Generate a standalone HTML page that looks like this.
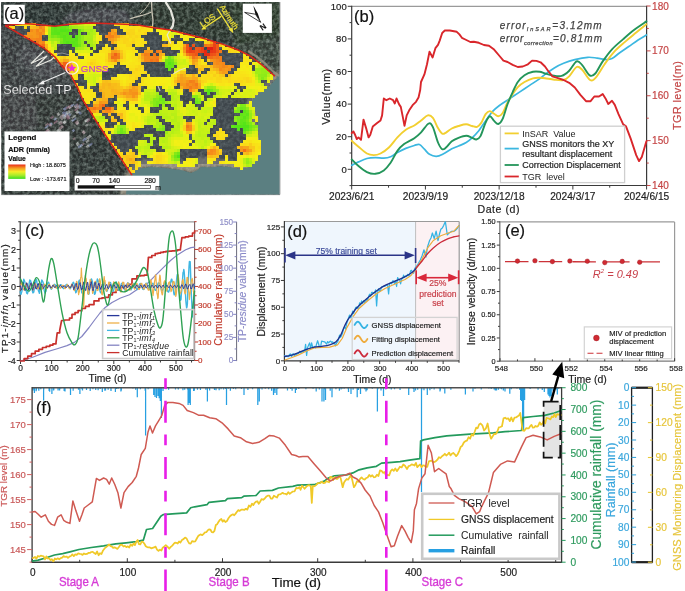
<!DOCTYPE html>
<html><head><meta charset="utf-8"><title>Figure</title>
<style>
html,body{margin:0;padding:0;background:#fff;}
body{width:685px;height:591px;overflow:hidden;}
svg{display:block;}
text{font-family:"Liberation Sans", Arial, sans-serif;}
</style></head><body>
<svg width="685" height="591" viewBox="0 0 685 591">
<rect x="0" y="0" width="685" height="591" fill="#fff"/>
<defs>
<clipPath id="aclip"><rect x="1.2" y="2.0" width="278.8" height="193.0"/></clipPath>
<filter id="tex" x="0" y="0" width="100%" height="100%" color-interpolation-filters="sRGB"><feTurbulence type="fractalNoise" baseFrequency="0.3" numOctaves="3" seed="8" result="n"/><feColorMatrix in="n" type="matrix" values="1.4 0 0 0 -0.5  1.45 0 0 0 -0.47  1.4 0 0 0 -0.47  0 0 0 0 0.7"/></filter>
<filter id="tex2" x="0" y="0" width="100%" height="100%" color-interpolation-filters="sRGB"><feTurbulence type="fractalNoise" baseFrequency="0.06" numOctaves="2" seed="3" result="n"/><feColorMatrix in="n" type="matrix" values="1.4 0 0 0 -0.3  1.4 0 0 0 -0.28  1.3 0 0 0 -0.3  0 0 0 0 0.35"/></filter>
<filter id="soft" x="-10%" y="-10%" width="120%" height="120%"><feGaussianBlur stdDeviation="1.6"/></filter>
</defs>
<g clip-path="url(#aclip)">
<rect x="1.2" y="2" width="278.8" height="193" fill="#464d4c" />
<g filter="url(#soft)">
<polygon points="62,22 68,14 84,9 104,8 126,10 132,22" fill="#6e6a76" opacity="0.85"/>
<polygon points="0,25 5,25 30,40 60,64 80,92 88,112 60,118 30,130 0,128" fill="#55545a"/>
<polygon points="22,44 58,56 66,72 50,80 30,74 18,60" fill="#6c6a72" opacity="0.8"/>
<polygon points="0,95 30,92 45,110 35,130 0,132" fill="#625c62" opacity="0.8"/>
<polygon points="35,95 75,92 95,118 85,150 60,150 38,128" fill="#4a4e4c"/>
<polygon points="230,40 280,30 280,72 268,80 258,66" fill="#5a6658" opacity="0.8"/>
<polygon points="0,2 58,2 62,22 5,25 0,25" fill="#3e4444"/>
<polygon points="140,2 230,2 230,42 200,35 140,24" fill="#40483f"/>
<polygon points="230,2 280,2 280,35 235,45" fill="#45533f"/>
<polygon points="90,130 130,172 120,195 60,195 70,150" fill="#454a48"/>
</g>
<rect x="64.08" y="115.33" width="4.89" height="2.11" fill="#a8b0e4" opacity="0.85" transform="rotate(-38 64.08 115.33)"/>
<rect x="85.27" y="120.26" width="4.18" height="3.11" fill="#c890a8" opacity="0.85" transform="rotate(-38 85.27 120.26)"/>
<rect x="61.52" y="115.29" width="2.97" height="2.84" fill="#c890a8" opacity="0.85" transform="rotate(-38 61.52 115.29)"/>
<rect x="61.88" y="117.01" width="4.72" height="1.99" fill="#b4bcec" opacity="0.85" transform="rotate(-38 61.88 117.01)"/>
<rect x="72.5" y="138.76" width="2.5" height="1.86" fill="#d9b4c0" opacity="0.85" transform="rotate(-38 72.5 138.76)"/>
<rect x="44.7" y="125.08" width="4.02" height="1.93" fill="#d9b4c0" opacity="0.85" transform="rotate(-38 44.7 125.08)"/>
<rect x="76.03" y="124.09" width="2.48" height="1.64" fill="#d8c0c8" opacity="0.85" transform="rotate(-38 76.03 124.09)"/>
<rect x="74.61" y="122.4" width="3.58" height="2.91" fill="#d9b4c0" opacity="0.85" transform="rotate(-38 74.61 122.4)"/>
<rect x="80.8" y="144.65" width="3.59" height="1.92" fill="#d8c0c8" opacity="0.85" transform="rotate(-38 80.8 144.65)"/>
<rect x="84.41" y="139.1" width="4.45" height="1.8" fill="#f0eeee" opacity="0.85" transform="rotate(-38 84.41 139.1)"/>
<rect x="63.03" y="121.69" width="2.46" height="2.55" fill="#d8c0c8" opacity="0.85" transform="rotate(-38 63.03 121.69)"/>
<rect x="66.18" y="115.45" width="4.4" height="2.82" fill="#b4bcec" opacity="0.85" transform="rotate(-38 66.18 115.45)"/>
<rect x="74.12" y="109.9" width="4.99" height="2.05" fill="#c890a8" opacity="0.85" transform="rotate(-38 74.12 109.9)"/>
<rect x="86.16" y="137.44" width="4.86" height="2.95" fill="#f0eeee" opacity="0.85" transform="rotate(-38 86.16 137.44)"/>
<rect x="50.02" y="117.73" width="3.61" height="2.03" fill="#c890a8" opacity="0.85" transform="rotate(-38 50.02 117.73)"/>
<rect x="46.21" y="130.54" width="2.89" height="2.82" fill="#d9b4c0" opacity="0.85" transform="rotate(-38 46.21 130.54)"/>
<rect x="81.97" y="139.97" width="4.52" height="2.31" fill="#a8b0e4" opacity="0.85" transform="rotate(-38 81.97 139.97)"/>
<rect x="67.69" y="107.2" width="5.03" height="2.75" fill="#d8c0c8" opacity="0.85" transform="rotate(-38 67.69 107.2)"/>
<rect x="58.96" y="117.69" width="5.08" height="1.68" fill="#f0eeee" opacity="0.85" transform="rotate(-38 58.96 117.69)"/>
<rect x="53.34" y="119.32" width="3.05" height="2.07" fill="#b4bcec" opacity="0.85" transform="rotate(-38 53.34 119.32)"/>
<rect x="63.53" y="113.22" width="3.96" height="2.15" fill="#a8b0e4" opacity="0.85" transform="rotate(-38 63.53 113.22)"/>
<rect x="48.45" y="124.52" width="3.52" height="2.47" fill="#a8b0e4" opacity="0.85" transform="rotate(-38 48.45 124.52)"/>
<rect x="44.32" y="127.63" width="4.68" height="1.7" fill="#a8b0e4" opacity="0.85" transform="rotate(-38 44.32 127.63)"/>
<rect x="84.16" y="120.75" width="4.09" height="2.34" fill="#f0eeee" opacity="0.85" transform="rotate(-38 84.16 120.75)"/>
<rect x="81.59" y="131.98" width="2.87" height="3.17" fill="#d9b4c0" opacity="0.85" transform="rotate(-38 81.59 131.98)"/>
<rect x="65.62" y="115.75" width="2.9" height="3.13" fill="#d9b4c0" opacity="0.85" transform="rotate(-38 65.62 115.75)"/>
<rect x="59.47" y="116.37" width="2.76" height="2.55" fill="#d8c0c8" opacity="0.85" transform="rotate(-38 59.47 116.37)"/>
<rect x="60.4" y="118.44" width="2.32" height="2.27" fill="#d8c0c8" opacity="0.85" transform="rotate(-38 60.4 118.44)"/>
<rect x="75.16" y="112.21" width="3.52" height="2.88" fill="#f0eeee" opacity="0.85" transform="rotate(-38 75.16 112.21)"/>
<rect x="73.69" y="105.75" width="4.21" height="2.95" fill="#b4bcec" opacity="0.85" transform="rotate(-38 73.69 105.75)"/>
<rect x="71.7" y="130.38" width="2.68" height="2.42" fill="#b4bcec" opacity="0.85" transform="rotate(-38 71.7 130.38)"/>
<rect x="71.31" y="120.4" width="4.91" height="2.16" fill="#b4bcec" opacity="0.85" transform="rotate(-38 71.31 120.4)"/>
<rect x="56.17" y="130.51" width="4.28" height="3.21" fill="#f0eeee" opacity="0.85" transform="rotate(-38 56.17 130.51)"/>
<rect x="75.51" y="143.8" width="3.02" height="3.36" fill="#f0eeee" opacity="0.85" transform="rotate(-38 75.51 143.8)"/>
<rect x="85.43" y="141.62" width="3.65" height="2.05" fill="#e8e4e4" opacity="0.85" transform="rotate(-38 85.43 141.62)"/>
<rect x="53.37" y="122.87" width="4.61" height="1.65" fill="#c890a8" opacity="0.85" transform="rotate(-38 53.37 122.87)"/>
<rect x="77.61" y="106.04" width="2.95" height="3.14" fill="#b4bcec" opacity="0.85" transform="rotate(-38 77.61 106.04)"/>
<rect x="78.01" y="112.61" width="2.67" height="3.18" fill="#b4bcec" opacity="0.85" transform="rotate(-38 78.01 112.61)"/>
<rect x="77.48" y="146.64" width="4.99" height="2.35" fill="#b4bcec" opacity="0.85" transform="rotate(-38 77.48 146.64)"/>
<rect x="48.4" y="124.59" width="2.38" height="2.7" fill="#c890a8" opacity="0.85" transform="rotate(-38 48.4 124.59)"/>
<rect x="65.74" y="112.44" width="4.39" height="2.74" fill="#f0eeee" opacity="0.85" transform="rotate(-38 65.74 112.44)"/>
<rect x="71.21" y="117.6" width="4.84" height="1.77" fill="#f0eeee" opacity="0.85" transform="rotate(-38 71.21 117.6)"/>
<rect x="58.38" y="127.96" width="5.04" height="2.62" fill="#d9b4c0" opacity="0.85" transform="rotate(-38 58.38 127.96)"/>
<rect x="62.7" y="108.81" width="4.57" height="2.76" fill="#a8b0e4" opacity="0.85" transform="rotate(-38 62.7 108.81)"/>
<rect x="85.66" y="146.36" width="3.35" height="2.45" fill="#e8e4e4" opacity="0.85" transform="rotate(-38 85.66 146.36)"/>
<rect x="88.39" y="145.16" width="4.29" height="1.89" fill="#a8b0e4" opacity="0.85" transform="rotate(-38 88.39 145.16)"/>
<rect x="62.5" y="122.53" width="3.01" height="2.49" fill="#f0eeee" opacity="0.85" transform="rotate(-38 62.5 122.53)"/>
<rect x="75.71" y="105.12" width="2.46" height="3.22" fill="#d9b4c0" opacity="0.85" transform="rotate(-38 75.71 105.12)"/>
<rect x="42.99" y="132.7" width="5.15" height="1.87" fill="#c890a8" opacity="0.85" transform="rotate(-38 42.99 132.7)"/>
<rect x="69.87" y="106.06" width="4.31" height="1.8" fill="#a8b0e4" opacity="0.85" transform="rotate(-38 69.87 106.06)"/>
<rect x="65.7" y="108.08" width="5.05" height="1.86" fill="#c890a8" opacity="0.85" transform="rotate(-38 65.7 108.08)"/>
<rect x="84.94" y="125.22" width="2.93" height="1.98" fill="#e8e4e4" opacity="0.85" transform="rotate(-38 84.94 125.22)"/>
<rect x="62.75" y="117.76" width="3.25" height="2.46" fill="#e8e4e4" opacity="0.85" transform="rotate(-38 62.75 117.76)"/>
<rect x="73.83" y="106.57" width="2.27" height="1.87" fill="#d9b4c0" opacity="0.85" transform="rotate(-38 73.83 106.57)"/>
<rect x="61.81" y="112.7" width="2.89" height="2.22" fill="#b4bcec" opacity="0.85" transform="rotate(-38 61.81 112.7)"/>
<rect x="76.18" y="99.97" width="2.84" height="1.61" fill="#b4bcec" opacity="0.85" transform="rotate(-38 76.18 99.97)"/>
<rect x="57.99" y="123.01" width="3.98" height="3.26" fill="#d8c0c8" opacity="0.85" transform="rotate(-38 57.99 123.01)"/>
<rect x="56.45" y="114" width="2.66" height="2.75" fill="#e8e4e4" opacity="0.85" transform="rotate(-38 56.45 114)"/>
<rect x="65.92" y="117.55" width="3.42" height="3.11" fill="#c890a8" opacity="0.85" transform="rotate(-38 65.92 117.55)"/>
<polygon points="280,70 272,76 262,88 250,97 246,104 252,125 255,150 250,160 240,163 225,160 200,157 190,163 170,160 150,159 138,161 130,168 124,178 120,194.5 128,194.5 128,178 132,172 140,168.5 150,167 165,168 183,170.5 191.1,173 197,170.5 201.3,167 210,167.5 220,166.5 228.1,167 240.3,169 248.4,167.7 254.5,163.6 260.6,153.4 259.6,141.3 257.6,125 256,112 250.5,103.7 253.5,98.6 260.6,92.5 268.8,86.4 275.9,79.3 280,72" fill="#a39d8c" filter="url(#soft)"/>
<polygon points="280,72 275.9,79.3 268.8,86.4 260.6,92.5 253.5,98.6 250.5,103.7 256,112 257.6,125 259.6,141.3 260.6,153.4 254.5,163.6 248.4,167.7 240.3,169 228.1,167 220,166.5 210,167.5 201.3,167 197,170.5 191.1,173 183,170.5 165,168 150,167 140,168.5 132,172 128,178 126,194.5 280,194.5" fill="#5b7f81"/>
<polygon points="280,92 275,97 270,104 268,110 271,116 276,122 280,126" fill="#b2ab9c"/>
<polygon points="280,96 277,100 273,106 274,113 278,118 280,119" fill="#6f7565"/>
<rect x="1.2" y="2.0" width="278.8" height="193.0" filter="url(#tex)" opacity="0.55"/>
<polygon points="280,70 272,76 262,88 250,97 246,104 252,125 255,150 250,160 240,163 225,160 200,157 190,163 170,160 150,159 138,161 130,168 124,178 120,194.5 128,194.5 128,178 132,172 140,168.5 150,167 165,168 183,170.5 191.1,173 197,170.5 201.3,167 210,167.5 220,166.5 228.1,167 240.3,169 248.4,167.7 254.5,163.6 260.6,153.4 259.6,141.3 257.6,125 256,112 250.5,103.7 253.5,98.6 260.6,92.5 268.8,86.4 275.9,79.3 280,72" fill="#a8a192" opacity="0.7" filter="url(#soft)"/>
<polygon points="280,72 275.9,79.3 268.8,86.4 260.6,92.5 253.5,98.6 250.5,103.7 256,112 257.6,125 259.6,141.3 260.6,153.4 254.5,163.6 248.4,167.7 240.3,169 228.1,167 220,166.5 210,167.5 201.3,167 197,170.5 191.1,173 183,170.5 165,168 150,167 140,168.5 132,172 128,178 126,194.5 280,194.5" fill="#5b7f81"/>
<polyline points="165.5,2 170.7,10.2 173.7,20.4 172.7,26.6 168,33 170,40" fill="none" stroke="#e6e6de" stroke-width="2.2"/>
<polyline points="129.7,19 136,17 142,15.5 148,13.5 151.5,12" fill="none" stroke="#c8c4b4" stroke-width="1.3"/>
<polyline points="151.5,2 152,12 153,20 152.5,27" fill="none" stroke="#c8c4b4" stroke-width="1.3"/>
<polyline points="140,14 146,8 150,2" fill="none" stroke="#a8a494" stroke-width="1"/>
<polyline points="248,51 256,56 265,63.5 273,71.5 279,76" fill="none" stroke="#9a9684" stroke-width="2.2" opacity="0.8"/>
<polyline points="44,51 31,63.5 47,56 36,66.5 51,60 58,54" fill="none" stroke="#e8e8e2" stroke-width="1.1"/>
<polyline points="55,54 62,53 70,55" fill="none" stroke="#dcdcd4" stroke-width="1"/>
<path d="M96,23h3v3h-3zM99,23h3v3h-3zM102,23h3v3h-3zM105,23h3v3h-3zM108,23h3v3h-3zM111,23h3v3h-3zM15,26h3v3h-3zM18,26h3v3h-3zM21,26h3v3h-3zM27,26h3v3h-3zM93,26h3v3h-3zM96,26h3v3h-3zM99,26h3v3h-3zM102,26h3v3h-3zM105,26h3v3h-3zM108,26h3v3h-3zM111,26h3v3h-3zM114,26h3v3h-3zM117,26h3v3h-3zM15,29h3v3h-3zM18,29h3v3h-3zM21,29h3v3h-3zM24,29h3v3h-3zM27,29h3v3h-3zM72,29h3v3h-3zM75,29h3v3h-3zM96,29h3v3h-3zM99,29h3v3h-3zM102,29h3v3h-3zM105,29h3v3h-3zM108,29h3v3h-3zM117,29h3v3h-3zM120,29h3v3h-3zM153,29h3v3h-3zM18,32h3v3h-3zM21,32h3v3h-3zM24,32h3v3h-3zM69,32h3v3h-3zM72,32h3v3h-3zM75,32h3v3h-3zM81,32h3v3h-3zM84,32h3v3h-3zM99,32h3v3h-3zM102,32h3v3h-3zM105,32h3v3h-3zM117,32h3v3h-3zM120,32h3v3h-3zM123,32h3v3h-3zM147,32h3v3h-3zM150,32h3v3h-3zM153,32h3v3h-3zM156,32h3v3h-3zM42,35h3v3h-3zM45,35h3v3h-3zM72,35h3v3h-3zM102,35h3v3h-3zM141,35h3v3h-3zM144,35h3v3h-3zM147,35h3v3h-3zM150,35h3v3h-3zM153,35h3v3h-3zM156,35h3v3h-3zM159,35h3v3h-3zM174,35h3v3h-3zM177,35h3v3h-3zM42,38h3v3h-3zM45,38h3v3h-3zM102,38h3v3h-3zM105,38h3v3h-3zM144,38h3v3h-3zM147,38h3v3h-3zM150,38h3v3h-3zM153,38h3v3h-3zM156,38h3v3h-3zM159,38h3v3h-3zM171,38h3v3h-3zM174,38h3v3h-3zM177,38h3v3h-3zM180,38h3v3h-3zM189,38h3v3h-3zM192,38h3v3h-3zM84,41h3v3h-3zM99,41h3v3h-3zM102,41h3v3h-3zM105,41h3v3h-3zM108,41h3v3h-3zM147,41h3v3h-3zM150,41h3v3h-3zM153,41h3v3h-3zM156,41h3v3h-3zM159,41h3v3h-3zM162,41h3v3h-3zM165,41h3v3h-3zM174,41h3v3h-3zM183,41h3v3h-3zM186,41h3v3h-3zM189,41h3v3h-3zM192,41h3v3h-3zM195,41h3v3h-3zM198,41h3v3h-3zM201,41h3v3h-3zM57,44h3v3h-3zM60,44h3v3h-3zM63,44h3v3h-3zM66,44h3v3h-3zM69,44h3v3h-3zM87,44h3v3h-3zM96,44h3v3h-3zM99,44h3v3h-3zM102,44h3v3h-3zM108,44h3v3h-3zM111,44h3v3h-3zM114,44h3v3h-3zM132,44h3v3h-3zM144,44h3v3h-3zM147,44h3v3h-3zM150,44h3v3h-3zM153,44h3v3h-3zM156,44h3v3h-3zM159,44h3v3h-3zM189,44h3v3h-3zM195,44h3v3h-3zM198,44h3v3h-3zM201,44h3v3h-3zM57,47h3v3h-3zM60,47h3v3h-3zM63,47h3v3h-3zM66,47h3v3h-3zM69,47h3v3h-3zM72,47h3v3h-3zM90,47h3v3h-3zM96,47h3v3h-3zM99,47h3v3h-3zM111,47h3v3h-3zM135,47h3v3h-3zM138,47h3v3h-3zM141,47h3v3h-3zM144,47h3v3h-3zM150,47h3v3h-3zM153,47h3v3h-3zM156,47h3v3h-3zM159,47h3v3h-3zM162,47h3v3h-3zM165,47h3v3h-3zM168,47h3v3h-3zM192,47h3v3h-3zM204,47h3v3h-3zM219,47h3v3h-3zM54,50h3v3h-3zM57,50h3v3h-3zM60,50h3v3h-3zM63,50h3v3h-3zM66,50h3v3h-3zM72,50h3v3h-3zM93,50h3v3h-3zM96,50h3v3h-3zM138,50h3v3h-3zM141,50h3v3h-3zM153,50h3v3h-3zM162,50h3v3h-3zM165,50h3v3h-3zM168,50h3v3h-3zM171,50h3v3h-3zM174,50h3v3h-3zM177,50h3v3h-3zM207,50h3v3h-3zM222,50h3v3h-3zM225,50h3v3h-3zM57,53h3v3h-3zM60,53h3v3h-3zM63,53h3v3h-3zM66,53h3v3h-3zM75,53h3v3h-3zM90,53h3v3h-3zM135,53h3v3h-3zM150,53h3v3h-3zM156,53h3v3h-3zM165,53h3v3h-3zM168,53h3v3h-3zM171,53h3v3h-3zM174,53h3v3h-3zM198,53h3v3h-3zM201,53h3v3h-3zM219,53h3v3h-3zM222,53h3v3h-3zM225,53h3v3h-3zM228,53h3v3h-3zM231,53h3v3h-3zM234,53h3v3h-3zM237,53h3v3h-3zM240,53h3v3h-3zM78,56h3v3h-3zM81,56h3v3h-3zM201,56h3v3h-3zM204,56h3v3h-3zM222,56h3v3h-3zM225,56h3v3h-3zM228,56h3v3h-3zM231,56h3v3h-3zM234,56h3v3h-3zM237,56h3v3h-3zM240,56h3v3h-3zM249,56h3v3h-3zM204,59h3v3h-3zM222,59h3v3h-3zM225,59h3v3h-3zM228,59h3v3h-3zM231,59h3v3h-3zM234,59h3v3h-3zM237,59h3v3h-3zM240,59h3v3h-3zM252,59h3v3h-3zM117,62h3v3h-3zM141,62h3v3h-3zM144,62h3v3h-3zM147,62h3v3h-3zM150,62h3v3h-3zM153,62h3v3h-3zM156,62h3v3h-3zM159,62h3v3h-3zM162,62h3v3h-3zM207,62h3v3h-3zM210,62h3v3h-3zM225,62h3v3h-3zM228,62h3v3h-3zM231,62h3v3h-3zM234,62h3v3h-3zM237,62h3v3h-3zM249,62h3v3h-3zM114,65h3v3h-3zM117,65h3v3h-3zM120,65h3v3h-3zM123,65h3v3h-3zM144,65h3v3h-3zM147,65h3v3h-3zM150,65h3v3h-3zM153,65h3v3h-3zM156,65h3v3h-3zM159,65h3v3h-3zM162,65h3v3h-3zM174,65h3v3h-3zM189,65h3v3h-3zM192,65h3v3h-3zM234,65h3v3h-3zM237,65h3v3h-3zM252,65h3v3h-3zM108,68h3v3h-3zM111,68h3v3h-3zM114,68h3v3h-3zM117,68h3v3h-3zM120,68h3v3h-3zM123,68h3v3h-3zM126,68h3v3h-3zM144,68h3v3h-3zM147,68h3v3h-3zM150,68h3v3h-3zM153,68h3v3h-3zM156,68h3v3h-3zM159,68h3v3h-3zM162,68h3v3h-3zM165,68h3v3h-3zM171,68h3v3h-3zM186,68h3v3h-3zM189,68h3v3h-3zM192,68h3v3h-3zM195,68h3v3h-3zM204,68h3v3h-3zM207,68h3v3h-3zM231,68h3v3h-3zM234,68h3v3h-3zM252,68h3v3h-3zM102,71h3v3h-3zM105,71h3v3h-3zM108,71h3v3h-3zM111,71h3v3h-3zM114,71h3v3h-3zM117,71h3v3h-3zM120,71h3v3h-3zM123,71h3v3h-3zM126,71h3v3h-3zM129,71h3v3h-3zM147,71h3v3h-3zM150,71h3v3h-3zM153,71h3v3h-3zM156,71h3v3h-3zM159,71h3v3h-3zM162,71h3v3h-3zM165,71h3v3h-3zM168,71h3v3h-3zM171,71h3v3h-3zM186,71h3v3h-3zM189,71h3v3h-3zM192,71h3v3h-3zM195,71h3v3h-3zM201,71h3v3h-3zM204,71h3v3h-3zM228,71h3v3h-3zM231,71h3v3h-3zM78,74h3v3h-3zM81,74h3v3h-3zM102,74h3v3h-3zM105,74h3v3h-3zM108,74h3v3h-3zM111,74h3v3h-3zM114,74h3v3h-3zM141,74h3v3h-3zM144,74h3v3h-3zM150,74h3v3h-3zM153,74h3v3h-3zM156,74h3v3h-3zM159,74h3v3h-3zM162,74h3v3h-3zM165,74h3v3h-3zM168,74h3v3h-3zM198,74h3v3h-3zM225,74h3v3h-3zM78,77h3v3h-3zM81,77h3v3h-3zM102,77h3v3h-3zM105,77h3v3h-3zM108,77h3v3h-3zM138,77h3v3h-3zM75,80h3v3h-3zM78,80h3v3h-3zM81,80h3v3h-3zM84,80h3v3h-3zM135,80h3v3h-3zM138,80h3v3h-3zM261,80h3v3h-3zM264,80h3v3h-3zM270,80h3v3h-3zM78,83h3v3h-3zM81,83h3v3h-3zM84,83h3v3h-3zM96,83h3v3h-3zM132,83h3v3h-3zM135,83h3v3h-3zM177,83h3v3h-3zM234,83h3v3h-3zM237,83h3v3h-3zM264,83h3v3h-3zM267,83h3v3h-3zM84,86h3v3h-3zM90,86h3v3h-3zM93,86h3v3h-3zM96,86h3v3h-3zM141,86h3v3h-3zM144,86h3v3h-3zM156,86h3v3h-3zM159,86h3v3h-3zM174,86h3v3h-3zM177,86h3v3h-3zM237,86h3v3h-3zM240,86h3v3h-3zM243,86h3v3h-3zM93,89h3v3h-3zM96,89h3v3h-3zM141,89h3v3h-3zM156,89h3v3h-3zM159,89h3v3h-3zM162,89h3v3h-3zM183,89h3v3h-3zM186,89h3v3h-3zM198,89h3v3h-3zM201,89h3v3h-3zM234,89h3v3h-3zM240,89h3v3h-3zM96,92h3v3h-3zM99,92h3v3h-3zM159,92h3v3h-3zM162,92h3v3h-3zM165,92h3v3h-3zM183,92h3v3h-3zM186,92h3v3h-3zM189,92h3v3h-3zM201,92h3v3h-3zM204,92h3v3h-3zM210,92h3v3h-3zM213,92h3v3h-3zM231,92h3v3h-3zM96,95h3v3h-3zM99,95h3v3h-3zM114,95h3v3h-3zM162,95h3v3h-3zM165,95h3v3h-3zM168,95h3v3h-3zM180,95h3v3h-3zM183,95h3v3h-3zM186,95h3v3h-3zM189,95h3v3h-3zM204,95h3v3h-3zM207,95h3v3h-3zM210,95h3v3h-3zM228,95h3v3h-3zM93,98h3v3h-3zM108,98h3v3h-3zM111,98h3v3h-3zM114,98h3v3h-3zM165,98h3v3h-3zM168,98h3v3h-3zM180,98h3v3h-3zM183,98h3v3h-3zM186,98h3v3h-3zM189,98h3v3h-3zM192,98h3v3h-3zM204,98h3v3h-3zM216,98h3v3h-3zM219,98h3v3h-3zM222,98h3v3h-3zM225,98h3v3h-3zM228,98h3v3h-3zM231,98h3v3h-3zM234,98h3v3h-3zM237,98h3v3h-3zM240,98h3v3h-3zM243,98h3v3h-3zM246,98h3v3h-3zM249,98h3v3h-3zM90,101h3v3h-3zM108,101h3v3h-3zM111,101h3v3h-3zM126,101h3v3h-3zM183,101h3v3h-3zM186,101h3v3h-3zM192,101h3v3h-3zM201,101h3v3h-3zM216,101h3v3h-3zM219,101h3v3h-3zM222,101h3v3h-3zM225,101h3v3h-3zM228,101h3v3h-3zM231,101h3v3h-3zM234,101h3v3h-3zM237,101h3v3h-3zM240,101h3v3h-3zM243,101h3v3h-3zM246,101h3v3h-3zM87,104h3v3h-3zM90,104h3v3h-3zM105,104h3v3h-3zM108,104h3v3h-3zM111,104h3v3h-3zM114,104h3v3h-3zM123,104h3v3h-3zM126,104h3v3h-3zM135,104h3v3h-3zM159,104h3v3h-3zM165,104h3v3h-3zM168,104h3v3h-3zM183,104h3v3h-3zM195,104h3v3h-3zM198,104h3v3h-3zM201,104h3v3h-3zM216,104h3v3h-3zM219,104h3v3h-3zM222,104h3v3h-3zM225,104h3v3h-3zM228,104h3v3h-3zM231,104h3v3h-3zM234,104h3v3h-3zM102,107h3v3h-3zM114,107h3v3h-3zM126,107h3v3h-3zM138,107h3v3h-3zM141,107h3v3h-3zM150,107h3v3h-3zM153,107h3v3h-3zM156,107h3v3h-3zM159,107h3v3h-3zM168,107h3v3h-3zM171,107h3v3h-3zM198,107h3v3h-3zM213,107h3v3h-3zM216,107h3v3h-3zM219,107h3v3h-3zM222,107h3v3h-3zM225,107h3v3h-3zM228,107h3v3h-3zM231,107h3v3h-3zM99,110h3v3h-3zM141,110h3v3h-3zM150,110h3v3h-3zM153,110h3v3h-3zM156,110h3v3h-3zM213,110h3v3h-3zM216,110h3v3h-3zM219,110h3v3h-3zM222,110h3v3h-3zM225,110h3v3h-3zM228,110h3v3h-3zM231,110h3v3h-3zM240,110h3v3h-3zM102,113h3v3h-3zM105,113h3v3h-3zM111,113h3v3h-3zM114,113h3v3h-3zM213,113h3v3h-3zM216,113h3v3h-3zM219,113h3v3h-3zM222,113h3v3h-3zM225,113h3v3h-3zM228,113h3v3h-3zM231,113h3v3h-3zM234,113h3v3h-3zM237,113h3v3h-3zM105,116h3v3h-3zM108,116h3v3h-3zM114,116h3v3h-3zM117,116h3v3h-3zM156,116h3v3h-3zM159,116h3v3h-3zM183,116h3v3h-3zM186,116h3v3h-3zM189,116h3v3h-3zM192,116h3v3h-3zM210,116h3v3h-3zM213,116h3v3h-3zM216,116h3v3h-3zM219,116h3v3h-3zM222,116h3v3h-3zM225,116h3v3h-3zM228,116h3v3h-3zM231,116h3v3h-3zM108,119h3v3h-3zM117,119h3v3h-3zM120,119h3v3h-3zM159,119h3v3h-3zM162,119h3v3h-3zM186,119h3v3h-3zM189,119h3v3h-3zM207,119h3v3h-3zM216,119h3v3h-3zM219,119h3v3h-3zM222,119h3v3h-3zM225,119h3v3h-3zM228,119h3v3h-3zM231,119h3v3h-3zM252,119h3v3h-3zM105,122h3v3h-3zM108,122h3v3h-3zM111,122h3v3h-3zM114,122h3v3h-3zM120,122h3v3h-3zM123,122h3v3h-3zM162,122h3v3h-3zM165,122h3v3h-3zM168,122h3v3h-3zM204,122h3v3h-3zM216,122h3v3h-3zM219,122h3v3h-3zM222,122h3v3h-3zM225,122h3v3h-3zM228,122h3v3h-3zM231,122h3v3h-3zM234,122h3v3h-3zM255,122h3v3h-3zM105,125h3v3h-3zM108,125h3v3h-3zM111,125h3v3h-3zM144,125h3v3h-3zM147,125h3v3h-3zM150,125h3v3h-3zM165,125h3v3h-3zM168,125h3v3h-3zM171,125h3v3h-3zM213,125h3v3h-3zM216,125h3v3h-3zM219,125h3v3h-3zM222,125h3v3h-3zM225,125h3v3h-3zM228,125h3v3h-3zM135,128h3v3h-3zM138,128h3v3h-3zM141,128h3v3h-3zM144,128h3v3h-3zM147,128h3v3h-3zM150,128h3v3h-3zM153,128h3v3h-3zM165,128h3v3h-3zM168,128h3v3h-3zM210,128h3v3h-3zM213,128h3v3h-3zM216,128h3v3h-3zM222,128h3v3h-3zM225,128h3v3h-3zM228,128h3v3h-3zM231,128h3v3h-3zM234,128h3v3h-3zM240,128h3v3h-3zM108,131h3v3h-3zM129,131h3v3h-3zM132,131h3v3h-3zM135,131h3v3h-3zM138,131h3v3h-3zM141,131h3v3h-3zM144,131h3v3h-3zM147,131h3v3h-3zM150,131h3v3h-3zM153,131h3v3h-3zM156,131h3v3h-3zM159,131h3v3h-3zM162,131h3v3h-3zM210,131h3v3h-3zM213,131h3v3h-3zM225,131h3v3h-3zM228,131h3v3h-3zM231,131h3v3h-3zM234,131h3v3h-3zM237,131h3v3h-3zM240,131h3v3h-3zM111,134h3v3h-3zM114,134h3v3h-3zM117,134h3v3h-3zM120,134h3v3h-3zM123,134h3v3h-3zM126,134h3v3h-3zM129,134h3v3h-3zM132,134h3v3h-3zM135,134h3v3h-3zM138,134h3v3h-3zM141,134h3v3h-3zM153,134h3v3h-3zM156,134h3v3h-3zM159,134h3v3h-3zM162,134h3v3h-3zM189,134h3v3h-3zM207,134h3v3h-3zM210,134h3v3h-3zM228,134h3v3h-3zM231,134h3v3h-3zM234,134h3v3h-3zM237,134h3v3h-3zM240,134h3v3h-3zM243,134h3v3h-3zM111,137h3v3h-3zM114,137h3v3h-3zM117,137h3v3h-3zM120,137h3v3h-3zM123,137h3v3h-3zM126,137h3v3h-3zM129,137h3v3h-3zM132,137h3v3h-3zM135,137h3v3h-3zM138,137h3v3h-3zM141,137h3v3h-3zM144,137h3v3h-3zM147,137h3v3h-3zM156,137h3v3h-3zM189,137h3v3h-3zM210,137h3v3h-3zM213,137h3v3h-3zM225,137h3v3h-3zM228,137h3v3h-3zM231,137h3v3h-3zM234,137h3v3h-3zM237,137h3v3h-3zM240,137h3v3h-3zM243,137h3v3h-3zM111,140h3v3h-3zM114,140h3v3h-3zM117,140h3v3h-3zM120,140h3v3h-3zM123,140h3v3h-3zM126,140h3v3h-3zM129,140h3v3h-3zM132,140h3v3h-3zM135,140h3v3h-3zM147,140h3v3h-3zM153,140h3v3h-3zM156,140h3v3h-3zM192,140h3v3h-3zM213,140h3v3h-3zM216,140h3v3h-3zM219,140h3v3h-3zM222,140h3v3h-3zM225,140h3v3h-3zM228,140h3v3h-3zM231,140h3v3h-3zM234,140h3v3h-3zM237,140h3v3h-3zM240,140h3v3h-3zM114,143h3v3h-3zM117,143h3v3h-3zM120,143h3v3h-3zM123,143h3v3h-3zM126,143h3v3h-3zM129,143h3v3h-3zM132,143h3v3h-3zM135,143h3v3h-3zM153,143h3v3h-3zM156,143h3v3h-3zM189,143h3v3h-3zM216,143h3v3h-3zM219,143h3v3h-3zM222,143h3v3h-3zM225,143h3v3h-3zM228,143h3v3h-3zM231,143h3v3h-3zM234,143h3v3h-3zM237,143h3v3h-3zM117,146h3v3h-3zM120,146h3v3h-3zM123,146h3v3h-3zM126,146h3v3h-3zM129,146h3v3h-3zM132,146h3v3h-3zM150,146h3v3h-3zM153,146h3v3h-3zM156,146h3v3h-3zM159,146h3v3h-3zM219,146h3v3h-3zM222,146h3v3h-3zM225,146h3v3h-3zM228,146h3v3h-3zM231,146h3v3h-3zM234,146h3v3h-3zM120,149h3v3h-3zM123,149h3v3h-3zM126,149h3v3h-3zM132,149h3v3h-3zM135,149h3v3h-3zM156,149h3v3h-3zM159,149h3v3h-3zM162,149h3v3h-3zM180,149h3v3h-3zM183,149h3v3h-3zM186,149h3v3h-3zM189,149h3v3h-3zM192,149h3v3h-3zM195,149h3v3h-3zM198,149h3v3h-3zM201,149h3v3h-3zM204,149h3v3h-3zM222,149h3v3h-3zM225,149h3v3h-3zM228,149h3v3h-3zM231,149h3v3h-3zM234,149h3v3h-3zM237,149h3v3h-3zM123,152h3v3h-3zM135,152h3v3h-3zM180,152h3v3h-3zM183,152h3v3h-3zM186,152h3v3h-3zM189,152h3v3h-3zM192,152h3v3h-3zM195,152h3v3h-3zM198,152h3v3h-3zM201,152h3v3h-3zM204,152h3v3h-3zM222,152h3v3h-3zM225,152h3v3h-3zM228,152h3v3h-3zM231,152h3v3h-3zM234,152h3v3h-3zM240,152h3v3h-3zM141,155h3v3h-3zM144,155h3v3h-3zM180,155h3v3h-3zM183,155h3v3h-3zM186,155h3v3h-3zM189,155h3v3h-3zM192,155h3v3h-3zM195,155h3v3h-3zM198,155h3v3h-3zM201,155h3v3h-3zM204,155h3v3h-3zM219,155h3v3h-3zM222,155h3v3h-3zM228,155h3v3h-3zM231,155h3v3h-3zM234,155h3v3h-3zM135,158h3v3h-3zM138,158h3v3h-3zM141,158h3v3h-3zM144,158h3v3h-3zM147,158h3v3h-3zM150,158h3v3h-3zM180,158h3v3h-3zM183,158h3v3h-3zM198,158h3v3h-3zM201,158h3v3h-3zM204,158h3v3h-3zM216,158h3v3h-3zM219,158h3v3h-3zM222,158h3v3h-3zM228,158h3v3h-3zM231,158h3v3h-3zM234,158h3v3h-3zM141,161h3v3h-3zM144,161h3v3h-3zM180,161h3v3h-3zM198,161h3v3h-3zM201,161h3v3h-3zM204,161h3v3h-3zM213,161h3v3h-3zM216,161h3v3h-3zM129,164h3v3h-3zM132,164h3v3h-3zM195,164h3v3h-3zM132,167h3v3h-3z" fill="#4e5660" opacity="0.55" shape-rendering="crispEdges"/>
<g shape-rendering="crispEdges">
<path d="M15,23h3v3h-3zM147,26h3v3h-3zM150,29h3v3h-3zM168,38h3v3h-3zM177,41h3v3h-3zM177,44h3v3h-3zM126,50h3v3h-3zM78,53h3v3h-3zM102,56h3v3h-3zM129,56h3v3h-3zM99,59h3v3h-3zM126,59h3v3h-3zM243,62h3v3h-3zM111,65h3v3h-3zM171,77h3v3h-3zM246,83h3v3h-3zM252,83h3v3h-3zM138,98h3v3h-3zM105,131h3v3h-3zM138,161h3v3h-3zM165,161h3v3h-3z" fill="#f7e816"/>
<path d="M18,23h3v3h-3zM186,38h3v3h-3zM69,50h3v3h-3zM180,53h3v3h-3zM243,65h3v3h-3zM75,68h3v3h-3zM117,74h3v3h-3zM159,80h3v3h-3zM165,80h3v3h-3zM213,98h3v3h-3zM117,122h3v3h-3zM246,137h3v3h-3zM207,146h3v3h-3zM225,158h3v3h-3zM237,158h3v3h-3zM183,161h3v3h-3zM186,161h3v3h-3zM189,161h3v3h-3zM210,161h3v3h-3zM234,164h3v3h-3z" fill="#f6ee16"/>
<path d="M21,23h3v3h-3zM123,26h3v3h-3zM123,29h3v3h-3zM135,29h3v3h-3zM180,41h3v3h-3zM99,50h3v3h-3zM243,56h3v3h-3zM72,59h3v3h-3zM135,59h3v3h-3zM120,62h3v3h-3zM132,62h3v3h-3zM201,62h3v3h-3zM204,62h3v3h-3zM234,71h3v3h-3zM237,71h3v3h-3zM147,74h3v3h-3zM174,74h3v3h-3zM120,80h3v3h-3zM171,80h3v3h-3zM90,89h3v3h-3zM90,92h3v3h-3zM93,95h3v3h-3zM156,152h3v3h-3zM237,152h3v3h-3zM153,155h3v3h-3zM162,158h3v3h-3zM210,158h3v3h-3zM213,158h3v3h-3z" fill="#f8e317"/>
<path d="M24,23h3v3h-3zM138,41h3v3h-3zM123,44h3v3h-3zM108,47h3v3h-3zM132,50h3v3h-3zM72,53h3v3h-3zM246,59h3v3h-3zM90,65h3v3h-3zM231,74h3v3h-3zM129,80h3v3h-3zM213,80h3v3h-3zM81,86h3v3h-3zM132,101h3v3h-3zM102,125h3v3h-3zM114,146h3v3h-3zM162,161h3v3h-3z" fill="#f9e217"/>
<path d="M27,23h3v3h-3zM45,41h3v3h-3zM144,41h3v3h-3zM123,53h3v3h-3zM105,56h3v3h-3zM129,68h3v3h-3zM132,74h3v3h-3zM111,77h3v3h-3zM204,77h3v3h-3zM216,137h3v3h-3zM219,137h3v3h-3z" fill="#f9dc18"/>
<path d="M30,23h3v3h-3zM129,41h3v3h-3zM138,53h3v3h-3zM144,71h3v3h-3zM207,71h3v3h-3zM129,74h3v3h-3zM216,74h3v3h-3zM225,77h3v3h-3zM132,80h3v3h-3zM204,80h3v3h-3zM228,80h3v3h-3zM249,80h3v3h-3zM138,83h3v3h-3zM123,98h3v3h-3zM219,128h3v3h-3zM216,131h3v3h-3zM243,143h3v3h-3z" fill="#f9d918"/>
<path d="M33,23h3v3h-3zM9,26h3v3h-3zM132,29h3v3h-3zM138,29h3v3h-3zM129,35h3v3h-3zM135,35h3v3h-3zM180,47h3v3h-3zM231,47h3v3h-3zM60,56h3v3h-3zM111,62h3v3h-3zM132,71h3v3h-3zM198,71h3v3h-3zM216,77h3v3h-3zM219,77h3v3h-3z" fill="#f9d618"/>
<path d="M69,23h3v3h-3zM81,26h3v3h-3zM84,29h3v3h-3zM87,29h3v3h-3z" fill="#aeee17"/>
<path d="M72,23h3v3h-3zM93,41h3v3h-3zM168,113h3v3h-3zM126,128h3v3h-3zM198,128h3v3h-3z" fill="#c3f016"/>
<path d="M75,23h3v3h-3zM174,68h3v3h-3zM198,125h3v3h-3zM114,128h3v3h-3zM207,131h3v3h-3zM165,140h3v3h-3zM171,152h3v3h-3z" fill="#bdf016"/>
<path d="M78,23h3v3h-3zM177,59h3v3h-3zM255,77h3v3h-3zM168,89h3v3h-3zM144,101h3v3h-3zM204,107h3v3h-3zM210,110h3v3h-3zM195,113h3v3h-3zM201,116h3v3h-3zM180,119h3v3h-3zM207,125h3v3h-3zM195,131h3v3h-3zM195,140h3v3h-3zM201,140h3v3h-3zM141,149h3v3h-3z" fill="#cdf116"/>
<path d="M81,23h3v3h-3zM93,35h3v3h-3zM177,98h3v3h-3zM204,119h3v3h-3zM153,122h3v3h-3zM201,122h3v3h-3zM204,128h3v3h-3zM180,134h3v3h-3z" fill="#c7f116"/>
<path d="M84,23h3v3h-3zM174,32h3v3h-3zM177,53h3v3h-3zM180,59h3v3h-3zM252,71h3v3h-3zM90,74h3v3h-3zM90,77h3v3h-3zM90,80h3v3h-3zM225,89h3v3h-3zM249,95h3v3h-3zM189,104h3v3h-3zM189,107h3v3h-3zM186,113h3v3h-3z" fill="#d6f116"/>
<path d="M87,23h3v3h-3zM99,74h3v3h-3zM87,77h3v3h-3zM267,77h3v3h-3zM237,92h3v3h-3zM219,95h3v3h-3zM150,113h3v3h-3zM189,113h3v3h-3zM204,113h3v3h-3zM171,146h3v3h-3zM153,149h3v3h-3zM177,161h3v3h-3z" fill="#d2f116"/>
<path d="M90,23h3v3h-3zM51,47h3v3h-3zM75,50h3v3h-3zM186,65h3v3h-3zM87,71h3v3h-3zM96,77h3v3h-3zM186,110h3v3h-3zM252,158h3v3h-3zM195,161h3v3h-3z" fill="#def116"/>
<path d="M93,23h3v3h-3zM96,32h3v3h-3zM255,62h3v3h-3zM270,74h3v3h-3zM141,95h3v3h-3zM183,134h3v3h-3zM180,137h3v3h-3zM186,137h3v3h-3zM171,140h3v3h-3zM171,143h3v3h-3zM192,146h3v3h-3zM240,158h3v3h-3z" fill="#e5f016"/>
<path d="M114,23h3v3h-3zM120,26h3v3h-3zM105,44h3v3h-3zM54,53h3v3h-3zM69,53h3v3h-3zM135,56h3v3h-3zM96,59h3v3h-3zM102,59h3v3h-3zM201,59h3v3h-3zM243,59h3v3h-3zM99,62h3v3h-3zM105,65h3v3h-3zM105,68h3v3h-3zM180,68h3v3h-3zM243,71h3v3h-3zM207,80h3v3h-3zM144,83h3v3h-3zM81,92h3v3h-3zM87,92h3v3h-3zM192,92h3v3h-3zM84,95h3v3h-3zM87,95h3v3h-3zM90,98h3v3h-3zM120,98h3v3h-3zM87,101h3v3h-3zM123,107h3v3h-3zM135,125h3v3h-3zM138,164h3v3h-3z" fill="#f8e617"/>
<path d="M117,23h3v3h-3zM165,38h3v3h-3zM171,44h3v3h-3zM48,47h3v3h-3zM99,56h3v3h-3zM129,62h3v3h-3zM135,62h3v3h-3zM126,65h3v3h-3zM99,68h3v3h-3zM240,71h3v3h-3zM72,74h3v3h-3zM75,74h3v3h-3zM171,74h3v3h-3zM237,74h3v3h-3zM114,77h3v3h-3zM123,83h3v3h-3zM171,83h3v3h-3zM219,83h3v3h-3zM87,86h3v3h-3zM87,98h3v3h-3zM246,140h3v3h-3z" fill="#f8e517"/>
<path d="M120,23h3v3h-3zM99,35h3v3h-3zM135,44h3v3h-3zM105,47h3v3h-3zM57,56h3v3h-3zM132,56h3v3h-3zM102,65h3v3h-3zM96,68h3v3h-3zM102,68h3v3h-3zM75,71h3v3h-3zM78,71h3v3h-3zM234,74h3v3h-3zM246,74h3v3h-3zM75,77h3v3h-3zM144,77h3v3h-3zM210,80h3v3h-3zM252,80h3v3h-3zM222,83h3v3h-3zM81,89h3v3h-3zM84,89h3v3h-3zM84,92h3v3h-3zM81,95h3v3h-3zM84,101h3v3h-3zM132,122h3v3h-3zM102,128h3v3h-3zM108,128h3v3h-3zM258,143h3v3h-3zM258,149h3v3h-3z" fill="#f8e417"/>
<path d="M123,23h3v3h-3zM126,23h3v3h-3zM126,26h3v3h-3zM141,29h3v3h-3zM135,32h3v3h-3zM120,47h3v3h-3zM132,47h3v3h-3zM225,47h3v3h-3zM105,53h3v3h-3zM66,56h3v3h-3zM90,59h3v3h-3zM189,62h3v3h-3zM96,65h3v3h-3zM72,77h3v3h-3zM141,77h3v3h-3zM201,77h3v3h-3zM207,77h3v3h-3zM231,77h3v3h-3zM240,77h3v3h-3zM141,80h3v3h-3zM75,83h3v3h-3zM120,83h3v3h-3zM201,83h3v3h-3zM87,89h3v3h-3zM219,131h3v3h-3zM222,134h3v3h-3zM219,161h3v3h-3z" fill="#f9df17"/>
<path d="M12,26h3v3h-3zM126,29h3v3h-3zM171,41h3v3h-3zM108,50h3v3h-3zM231,50h3v3h-3zM93,62h3v3h-3zM237,80h3v3h-3zM117,149h3v3h-3zM120,152h3v3h-3zM156,158h3v3h-3zM159,158h3v3h-3z" fill="#f9d818"/>
<path d="M24,26h3v3h-3zM144,29h3v3h-3zM141,32h3v3h-3zM126,35h3v3h-3zM129,38h3v3h-3zM141,41h3v3h-3zM57,59h3v3h-3zM141,68h3v3h-3zM138,71h3v3h-3zM141,71h3v3h-3zM210,74h3v3h-3zM129,77h3v3h-3zM213,77h3v3h-3zM237,77h3v3h-3zM249,77h3v3h-3zM231,80h3v3h-3zM243,80h3v3h-3zM222,131h3v3h-3zM213,134h3v3h-3zM240,143h3v3h-3zM246,143h3v3h-3zM252,143h3v3h-3zM129,149h3v3h-3zM159,152h3v3h-3zM252,152h3v3h-3z" fill="#f9de17"/>
<path d="M30,26h3v3h-3zM120,53h3v3h-3zM195,65h3v3h-3zM243,152h3v3h-3z" fill="#f8c019"/>
<path d="M33,26h3v3h-3zM111,86h3v3h-3zM138,92h3v3h-3zM123,95h3v3h-3zM210,155h3v3h-3z" fill="#f8b819"/>
<path d="M36,26h3v3h-3zM45,47h3v3h-3zM189,56h3v3h-3zM177,77h3v3h-3zM102,98h3v3h-3z" fill="#f7ae1a"/>
<path d="M39,26h3v3h-3zM105,35h3v3h-3zM30,38h3v3h-3zM33,38h3v3h-3zM144,56h3v3h-3zM144,59h3v3h-3zM147,59h3v3h-3zM189,89h3v3h-3zM87,107h3v3h-3z" fill="#f5881a"/>
<path d="M42,26h3v3h-3zM147,50h3v3h-3zM216,65h3v3h-3zM246,149h3v3h-3zM213,152h3v3h-3z" fill="#f6971a"/>
<path d="M45,26h3v3h-3zM129,26h3v3h-3zM135,26h3v3h-3zM147,29h3v3h-3zM99,38h3v3h-3zM135,41h3v3h-3zM117,44h3v3h-3zM141,44h3v3h-3zM102,47h3v3h-3zM123,47h3v3h-3zM129,47h3v3h-3zM222,47h3v3h-3zM54,56h3v3h-3zM87,62h3v3h-3zM96,62h3v3h-3zM105,62h3v3h-3zM138,62h3v3h-3zM99,65h3v3h-3zM129,65h3v3h-3zM72,68h3v3h-3zM177,71h3v3h-3zM201,74h3v3h-3zM240,74h3v3h-3zM243,74h3v3h-3zM222,77h3v3h-3zM234,77h3v3h-3zM99,80h3v3h-3zM222,80h3v3h-3zM225,80h3v3h-3zM78,89h3v3h-3zM180,89h3v3h-3zM93,92h3v3h-3zM90,95h3v3h-3zM99,125h3v3h-3zM132,125h3v3h-3zM219,134h3v3h-3zM162,155h3v3h-3zM225,155h3v3h-3zM153,161h3v3h-3z" fill="#f9e117"/>
<path d="M48,26h3v3h-3zM258,65h3v3h-3zM144,95h3v3h-3zM174,113h3v3h-3zM162,116h3v3h-3zM147,146h3v3h-3zM249,158h3v3h-3z" fill="#b9ef16"/>
<path d="M51,26h3v3h-3zM69,35h3v3h-3zM243,119h3v3h-3z" fill="#65e518"/>
<path d="M54,26h3v3h-3zM63,35h3v3h-3z" fill="#59e418"/>
<path d="M57,26h3v3h-3zM69,29h3v3h-3zM171,62h3v3h-3zM168,65h3v3h-3zM168,68h3v3h-3z" fill="#67e618"/>
<path d="M60,26h3v3h-3zM51,32h3v3h-3zM69,41h3v3h-3zM246,113h3v3h-3z" fill="#5ee518"/>
<path d="M63,26h3v3h-3zM66,38h3v3h-3zM240,119h3v3h-3z" fill="#61e518"/>
<path d="M66,26h3v3h-3zM78,29h3v3h-3zM240,116h3v3h-3z" fill="#6ce618"/>
<path d="M69,26h3v3h-3zM81,38h3v3h-3zM174,62h3v3h-3z" fill="#8feb18"/>
<path d="M72,26h3v3h-3zM258,77h3v3h-3z" fill="#9fec17"/>
<path d="M75,26h3v3h-3zM87,38h3v3h-3zM87,41h3v3h-3zM78,47h3v3h-3zM117,125h3v3h-3z" fill="#a4ed17"/>
<path d="M78,26h3v3h-3zM261,65h3v3h-3zM150,98h3v3h-3zM150,104h3v3h-3zM102,116h3v3h-3z" fill="#acee17"/>
<path d="M84,26h3v3h-3zM84,47h3v3h-3zM177,95h3v3h-3zM156,113h3v3h-3zM252,113h3v3h-3zM213,119h3v3h-3zM168,131h3v3h-3zM198,131h3v3h-3zM204,134h3v3h-3zM138,146h3v3h-3z" fill="#bef016"/>
<path d="M87,26h3v3h-3zM174,92h3v3h-3zM147,98h3v3h-3zM168,116h3v3h-3zM147,119h3v3h-3zM165,146h3v3h-3z" fill="#baef16"/>
<path d="M90,26h3v3h-3zM153,92h3v3h-3zM174,98h3v3h-3zM174,110h3v3h-3zM165,113h3v3h-3zM165,119h3v3h-3zM174,122h3v3h-3zM213,122h3v3h-3zM174,125h3v3h-3zM147,134h3v3h-3zM150,137h3v3h-3zM159,137h3v3h-3zM162,137h3v3h-3zM204,140h3v3h-3zM144,146h3v3h-3zM174,161h3v3h-3z" fill="#bcf016"/>
<path d="M132,26h3v3h-3zM144,26h3v3h-3zM45,29h3v3h-3zM138,32h3v3h-3zM135,38h3v3h-3zM93,59h3v3h-3zM135,65h3v3h-3zM132,68h3v3h-3zM132,77h3v3h-3zM126,83h3v3h-3zM240,83h3v3h-3zM138,95h3v3h-3zM258,146h3v3h-3zM159,161h3v3h-3zM135,167h3v3h-3z" fill="#f9dd18"/>
<path d="M138,26h3v3h-3zM138,38h3v3h-3zM141,38h3v3h-3zM138,44h3v3h-3zM180,44h3v3h-3zM126,47h3v3h-3zM105,50h3v3h-3zM123,50h3v3h-3zM180,50h3v3h-3zM69,56h3v3h-3zM75,56h3v3h-3zM123,59h3v3h-3zM72,62h3v3h-3zM93,65h3v3h-3zM204,74h3v3h-3zM126,80h3v3h-3zM243,83h3v3h-3zM105,128h3v3h-3zM153,158h3v3h-3z" fill="#f9e017"/>
<path d="M141,26h3v3h-3zM132,32h3v3h-3zM123,41h3v3h-3zM168,41h3v3h-3zM168,44h3v3h-3zM72,65h3v3h-3zM210,71h3v3h-3zM201,80h3v3h-3zM183,125h3v3h-3zM126,152h3v3h-3zM135,155h3v3h-3zM126,164h3v3h-3z" fill="#f9d418"/>
<path d="M150,26h3v3h-3zM186,35h3v3h-3zM93,53h3v3h-3zM126,56h3v3h-3zM78,59h3v3h-3zM129,59h3v3h-3zM240,65h3v3h-3zM78,68h3v3h-3zM243,68h3v3h-3zM120,77h3v3h-3zM114,101h3v3h-3zM117,107h3v3h-3zM255,140h3v3h-3zM252,155h3v3h-3z" fill="#f6eb16"/>
<path d="M30,29h3v3h-3zM36,32h3v3h-3zM192,86h3v3h-3z" fill="#f58c1a"/>
<path d="M33,29h3v3h-3zM192,59h3v3h-3zM222,71h3v3h-3zM132,89h3v3h-3z" fill="#f69b1a"/>
<path d="M36,29h3v3h-3zM39,32h3v3h-3zM39,35h3v3h-3zM42,41h3v3h-3zM186,83h3v3h-3z" fill="#f48519"/>
<path d="M39,29h3v3h-3zM111,38h3v3h-3zM225,68h3v3h-3zM240,146h3v3h-3z" fill="#f69c1a"/>
<path d="M42,29h3v3h-3zM105,110h3v3h-3zM189,128h3v3h-3z" fill="#f58b1a"/>
<path d="M48,29h3v3h-3zM90,35h3v3h-3zM249,161h3v3h-3z" fill="#aaee17"/>
<path d="M51,29h3v3h-3zM66,35h3v3h-3z" fill="#63e518"/>
<path d="M54,29h3v3h-3zM75,35h3v3h-3z" fill="#5be418"/>
<path d="M57,29h3v3h-3zM60,32h3v3h-3zM75,41h3v3h-3zM165,65h3v3h-3zM240,122h3v3h-3zM231,125h3v3h-3z" fill="#5fe518"/>
<path d="M60,29h3v3h-3zM63,29h3v3h-3zM207,92h3v3h-3z" fill="#54e318"/>
<path d="M66,29h3v3h-3zM75,38h3v3h-3z" fill="#57e418"/>
<path d="M81,29h3v3h-3zM81,35h3v3h-3zM246,107h3v3h-3z" fill="#90eb18"/>
<path d="M90,29h3v3h-3zM213,86h3v3h-3zM249,110h3v3h-3z" fill="#a2ed17"/>
<path d="M93,29h3v3h-3zM171,119h3v3h-3zM177,125h3v3h-3zM150,140h3v3h-3zM147,143h3v3h-3z" fill="#b4ef16"/>
<path d="M111,29h3v3h-3zM30,32h3v3h-3zM210,59h3v3h-3zM69,65h3v3h-3zM228,65h3v3h-3zM132,86h3v3h-3zM186,122h3v3h-3z" fill="#f69a1a"/>
<path d="M114,29h3v3h-3zM108,53h3v3h-3zM216,68h3v3h-3zM216,152h3v3h-3z" fill="#f7af1a"/>
<path d="M129,29h3v3h-3zM129,32h3v3h-3zM123,35h3v3h-3zM123,38h3v3h-3zM126,38h3v3h-3zM129,44h3v3h-3zM246,80h3v3h-3zM156,155h3v3h-3zM129,167h3v3h-3zM132,170h3v3h-3z" fill="#f9d518"/>
<path d="M156,29h3v3h-3zM189,35h3v3h-3zM81,59h3v3h-3zM90,68h3v3h-3zM153,83h3v3h-3zM165,86h3v3h-3zM141,92h3v3h-3zM135,110h3v3h-3zM138,113h3v3h-3zM174,140h3v3h-3zM186,143h3v3h-3zM240,155h3v3h-3z" fill="#f3f016"/>
<path d="M159,29h3v3h-3zM48,44h3v3h-3zM222,44h3v3h-3zM174,47h3v3h-3zM75,62h3v3h-3zM78,62h3v3h-3zM81,62h3v3h-3zM84,62h3v3h-3zM93,68h3v3h-3zM246,68h3v3h-3zM249,71h3v3h-3zM144,80h3v3h-3zM147,80h3v3h-3zM258,89h3v3h-3zM126,122h3v3h-3zM135,122h3v3h-3zM138,122h3v3h-3zM138,125h3v3h-3zM129,128h3v3h-3zM105,134h3v3h-3zM108,137h3v3h-3zM237,155h3v3h-3zM150,161h3v3h-3zM231,161h3v3h-3zM186,164h3v3h-3zM237,164h3v3h-3z" fill="#f6ec16"/>
<path d="M162,29h3v3h-3zM198,38h3v3h-3zM201,38h3v3h-3zM84,53h3v3h-3zM249,65h3v3h-3zM99,71h3v3h-3zM150,80h3v3h-3zM162,80h3v3h-3zM87,83h3v3h-3zM213,104h3v3h-3zM144,110h3v3h-3zM111,128h3v3h-3zM108,134h3v3h-3zM180,140h3v3h-3zM189,140h3v3h-3zM183,146h3v3h-3zM153,152h3v3h-3zM249,155h3v3h-3zM234,161h3v3h-3zM237,161h3v3h-3zM189,164h3v3h-3z" fill="#f6ef16"/>
<path d="M165,29h3v3h-3zM270,77h3v3h-3zM147,86h3v3h-3zM261,86h3v3h-3zM138,101h3v3h-3zM147,107h3v3h-3zM141,122h3v3h-3zM186,146h3v3h-3zM165,152h3v3h-3z" fill="#edf016"/>
<path d="M168,29h3v3h-3zM186,59h3v3h-3zM222,86h3v3h-3zM228,86h3v3h-3zM180,92h3v3h-3zM183,110h3v3h-3zM183,113h3v3h-3zM195,146h3v3h-3zM138,152h3v3h-3zM240,161h3v3h-3z" fill="#e6f016"/>
<path d="M27,32h3v3h-3zM42,32h3v3h-3zM183,50h3v3h-3zM141,53h3v3h-3z" fill="#f6981a"/>
<path d="M33,32h3v3h-3zM33,35h3v3h-3zM114,35h3v3h-3zM102,110h3v3h-3z" fill="#f6991a"/>
<path d="M45,32h3v3h-3zM165,32h3v3h-3zM165,35h3v3h-3zM192,35h3v3h-3zM174,44h3v3h-3zM162,56h3v3h-3zM84,59h3v3h-3zM81,65h3v3h-3zM81,68h3v3h-3zM240,68h3v3h-3zM120,74h3v3h-3zM123,77h3v3h-3zM159,77h3v3h-3zM252,77h3v3h-3zM150,83h3v3h-3zM117,98h3v3h-3zM255,116h3v3h-3zM255,119h3v3h-3zM129,125h3v3h-3zM192,131h3v3h-3zM258,140h3v3h-3zM213,143h3v3h-3zM162,152h3v3h-3zM165,158h3v3h-3zM228,161h3v3h-3z" fill="#f6ed16"/>
<path d="M48,32h3v3h-3z" fill="#a7ed17"/>
<path d="M54,32h3v3h-3zM75,44h3v3h-3zM243,110h3v3h-3z" fill="#5ce418"/>
<path d="M57,32h3v3h-3z" fill="#58e418"/>
<path d="M63,32h3v3h-3z" fill="#64e518"/>
<path d="M66,32h3v3h-3zM63,38h3v3h-3zM72,44h3v3h-3zM207,89h3v3h-3z" fill="#5de418"/>
<path d="M78,32h3v3h-3zM243,131h3v3h-3zM177,152h3v3h-3z" fill="#71e718"/>
<path d="M87,32h3v3h-3zM51,38h3v3h-3zM162,104h3v3h-3zM117,128h3v3h-3zM171,155h3v3h-3z" fill="#9cec17"/>
<path d="M90,32h3v3h-3zM165,56h3v3h-3zM174,59h3v3h-3zM216,92h3v3h-3zM168,101h3v3h-3zM252,122h3v3h-3z" fill="#adee17"/>
<path d="M93,32h3v3h-3zM144,98h3v3h-3zM174,104h3v3h-3zM171,113h3v3h-3zM162,140h3v3h-3z" fill="#b7ef16"/>
<path d="M108,32h3v3h-3zM189,80h3v3h-3z" fill="#f37e19"/>
<path d="M111,32h3v3h-3zM213,65h3v3h-3zM180,80h3v3h-3zM135,89h3v3h-3zM126,92h3v3h-3zM102,101h3v3h-3zM93,104h3v3h-3zM90,110h3v3h-3z" fill="#f69d1a"/>
<path d="M114,32h3v3h-3zM24,35h3v3h-3zM60,62h3v3h-3zM132,92h3v3h-3zM213,149h3v3h-3z" fill="#f5911a"/>
<path d="M126,32h3v3h-3zM144,32h3v3h-3zM138,56h3v3h-3zM207,65h3v3h-3zM135,68h3v3h-3zM192,125h3v3h-3zM210,146h3v3h-3z" fill="#f9d118"/>
<path d="M159,32h3v3h-3zM177,32h3v3h-3zM81,53h3v3h-3zM87,53h3v3h-3zM75,65h3v3h-3zM87,68h3v3h-3zM177,68h3v3h-3zM165,77h3v3h-3zM168,77h3v3h-3zM168,80h3v3h-3zM204,83h3v3h-3zM252,86h3v3h-3zM258,86h3v3h-3zM120,101h3v3h-3zM132,110h3v3h-3zM138,116h3v3h-3zM252,137h3v3h-3zM177,143h3v3h-3zM210,143h3v3h-3zM243,155h3v3h-3zM177,164h3v3h-3zM240,167h3v3h-3z" fill="#f2f016"/>
<path d="M162,32h3v3h-3zM168,35h3v3h-3zM183,38h3v3h-3zM156,80h3v3h-3zM129,110h3v3h-3zM138,110h3v3h-3zM183,143h3v3h-3zM258,152h3v3h-3zM150,155h3v3h-3zM207,161h3v3h-3zM225,161h3v3h-3z" fill="#f5f016"/>
<path d="M168,32h3v3h-3zM225,86h3v3h-3zM141,113h3v3h-3zM126,125h3v3h-3z" fill="#eaf016"/>
<path d="M171,32h3v3h-3zM84,50h3v3h-3zM84,74h3v3h-3zM189,101h3v3h-3zM141,116h3v3h-3zM177,137h3v3h-3zM177,146h3v3h-3z" fill="#e2f016"/>
<path d="M180,32h3v3h-3zM180,35h3v3h-3zM183,35h3v3h-3zM162,38h3v3h-3zM237,50h3v3h-3zM99,53h3v3h-3zM129,53h3v3h-3zM243,53h3v3h-3zM87,56h3v3h-3zM90,56h3v3h-3zM87,59h3v3h-3zM246,62h3v3h-3zM252,62h3v3h-3zM84,65h3v3h-3zM108,65h3v3h-3zM84,68h3v3h-3zM237,68h3v3h-3zM81,71h3v3h-3zM150,77h3v3h-3zM153,77h3v3h-3zM156,77h3v3h-3zM162,77h3v3h-3zM147,83h3v3h-3zM159,83h3v3h-3zM162,83h3v3h-3zM216,83h3v3h-3zM231,83h3v3h-3zM120,107h3v3h-3zM93,113h3v3h-3zM126,113h3v3h-3zM126,116h3v3h-3zM189,158h3v3h-3zM207,158h3v3h-3z" fill="#f7ea16"/>
<path d="M27,35h3v3h-3zM180,83h3v3h-3zM183,83h3v3h-3zM129,92h3v3h-3zM99,101h3v3h-3zM240,149h3v3h-3z" fill="#f5961a"/>
<path d="M30,35h3v3h-3zM144,50h3v3h-3zM186,80h3v3h-3zM132,95h3v3h-3zM111,107h3v3h-3z" fill="#f5931a"/>
<path d="M36,35h3v3h-3zM222,68h3v3h-3zM129,89h3v3h-3z" fill="#f5941a"/>
<path d="M48,35h3v3h-3zM57,38h3v3h-3zM210,86h3v3h-3zM150,101h3v3h-3z" fill="#98ec17"/>
<path d="M51,35h3v3h-3zM78,35h3v3h-3zM171,59h3v3h-3zM243,107h3v3h-3zM246,119h3v3h-3zM237,122h3v3h-3z" fill="#75e718"/>
<path d="M54,35h3v3h-3z" fill="#7de818"/>
<path d="M57,35h3v3h-3zM78,44h3v3h-3zM165,62h3v3h-3zM162,98h3v3h-3zM249,125h3v3h-3zM120,128h3v3h-3zM120,131h3v3h-3z" fill="#6fe718"/>
<path d="M60,35h3v3h-3zM63,41h3v3h-3zM246,128h3v3h-3z" fill="#60e518"/>
<path d="M84,35h3v3h-3zM48,38h3v3h-3zM57,41h3v3h-3zM81,47h3v3h-3zM249,119h3v3h-3z" fill="#a9ee17"/>
<path d="M87,35h3v3h-3zM84,38h3v3h-3z" fill="#a8ee17"/>
<path d="M96,35h3v3h-3zM204,38h3v3h-3zM99,77h3v3h-3zM153,80h3v3h-3zM165,83h3v3h-3zM249,86h3v3h-3zM261,89h3v3h-3zM135,113h3v3h-3zM180,143h3v3h-3zM192,158h3v3h-3zM255,158h3v3h-3zM192,161h3v3h-3zM183,164h3v3h-3z" fill="#f1f016"/>
<path d="M108,35h3v3h-3zM153,56h3v3h-3zM156,56h3v3h-3zM99,107h3v3h-3z" fill="#f48019"/>
<path d="M111,35h3v3h-3zM117,53h3v3h-3zM192,80h3v3h-3z" fill="#f48219"/>
<path d="M117,35h3v3h-3zM111,41h3v3h-3z" fill="#f6a31a"/>
<path d="M120,35h3v3h-3zM207,59h3v3h-3zM204,65h3v3h-3zM186,74h3v3h-3zM195,74h3v3h-3zM219,74h3v3h-3zM111,80h3v3h-3zM114,80h3v3h-3zM249,143h3v3h-3zM219,149h3v3h-3z" fill="#f9cd18"/>
<path d="M132,35h3v3h-3zM117,41h3v3h-3zM120,41h3v3h-3zM138,59h3v3h-3zM72,71h3v3h-3zM138,74h3v3h-3zM207,74h3v3h-3zM216,80h3v3h-3zM219,80h3v3h-3zM117,110h3v3h-3zM222,137h3v3h-3zM117,152h3v3h-3zM135,164h3v3h-3z" fill="#f9db18"/>
<path d="M138,35h3v3h-3zM120,38h3v3h-3zM123,56h3v3h-3zM69,59h3v3h-3zM120,59h3v3h-3zM108,62h3v3h-3zM135,71h3v3h-3zM213,71h3v3h-3zM135,74h3v3h-3zM210,77h3v3h-3zM228,77h3v3h-3zM243,77h3v3h-3zM123,110h3v3h-3zM123,113h3v3h-3zM123,119h3v3h-3zM225,134h3v3h-3zM159,155h3v3h-3z" fill="#f9da18"/>
<path d="M162,35h3v3h-3zM51,50h3v3h-3zM135,50h3v3h-3zM96,53h3v3h-3zM102,53h3v3h-3zM123,62h3v3h-3zM126,62h3v3h-3zM240,62h3v3h-3zM87,65h3v3h-3zM246,71h3v3h-3zM123,74h3v3h-3zM249,74h3v3h-3zM117,77h3v3h-3zM147,77h3v3h-3zM123,80h3v3h-3zM225,83h3v3h-3zM126,110h3v3h-3zM126,119h3v3h-3zM183,122h3v3h-3zM192,122h3v3h-3zM243,140h3v3h-3zM252,140h3v3h-3z" fill="#f7e916"/>
<path d="M171,35h3v3h-3zM216,86h3v3h-3zM225,95h3v3h-3zM210,98h3v3h-3zM141,101h3v3h-3zM198,113h3v3h-3zM195,143h3v3h-3zM204,146h3v3h-3z" fill="#d8f116"/>
<path d="M36,38h3v3h-3zM39,38h3v3h-3zM147,53h3v3h-3zM99,104h3v3h-3z" fill="#f48119"/>
<path d="M54,38h3v3h-3zM255,68h3v3h-3zM258,71h3v3h-3z" fill="#9fed17"/>
<path d="M60,38h3v3h-3zM156,101h3v3h-3z" fill="#7be818"/>
<path d="M69,38h3v3h-3zM72,38h3v3h-3zM240,113h3v3h-3z" fill="#62e518"/>
<path d="M78,38h3v3h-3zM156,104h3v3h-3z" fill="#79e818"/>
<path d="M90,38h3v3h-3z" fill="#a8ed17"/>
<path d="M93,38h3v3h-3zM174,134h3v3h-3zM141,143h3v3h-3zM207,143h3v3h-3zM165,149h3v3h-3zM171,161h3v3h-3z" fill="#cff116"/>
<path d="M96,38h3v3h-3zM231,86h3v3h-3zM255,86h3v3h-3zM210,101h3v3h-3zM249,101h3v3h-3zM129,104h3v3h-3zM132,104h3v3h-3zM132,107h3v3h-3zM255,137h3v3h-3zM186,140h3v3h-3zM174,143h3v3h-3zM180,164h3v3h-3z" fill="#f0f016"/>
<path d="M108,38h3v3h-3zM213,62h3v3h-3zM123,92h3v3h-3z" fill="#f5921a"/>
<path d="M114,38h3v3h-3zM159,56h3v3h-3zM66,59h3v3h-3zM192,74h3v3h-3z" fill="#f7ab1a"/>
<path d="M117,38h3v3h-3zM210,68h3v3h-3zM180,71h3v3h-3zM96,98h3v3h-3zM252,146h3v3h-3z" fill="#f8c919"/>
<path d="M132,38h3v3h-3zM126,41h3v3h-3zM126,44h3v3h-3zM117,47h3v3h-3zM234,50h3v3h-3zM186,56h3v3h-3zM105,59h3v3h-3zM198,62h3v3h-3zM138,65h3v3h-3zM141,65h3v3h-3zM138,68h3v3h-3zM246,77h3v3h-3zM234,80h3v3h-3zM240,80h3v3h-3zM120,110h3v3h-3zM123,116h3v3h-3zM216,134h3v3h-3zM156,161h3v3h-3z" fill="#f9d718"/>
<path d="M195,38h3v3h-3zM177,47h3v3h-3zM84,56h3v3h-3zM183,68h3v3h-3zM84,71h3v3h-3zM174,71h3v3h-3zM156,83h3v3h-3zM168,83h3v3h-3zM201,86h3v3h-3zM144,107h3v3h-3zM249,137h3v3h-3zM138,155h3v3h-3zM255,155h3v3h-3zM147,161h3v3h-3z" fill="#f4f016"/>
<path d="M36,41h3v3h-3zM153,53h3v3h-3zM216,56h3v3h-3z" fill="#f27519"/>
<path d="M39,41h3v3h-3zM213,59h3v3h-3zM225,65h3v3h-3zM108,110h3v3h-3zM207,152h3v3h-3z" fill="#f58e1a"/>
<path d="M48,41h3v3h-3zM81,50h3v3h-3zM183,65h3v3h-3zM165,89h3v3h-3zM243,89h3v3h-3zM228,92h3v3h-3zM141,104h3v3h-3zM252,107h3v3h-3zM255,134h3v3h-3z" fill="#dff116"/>
<path d="M51,41h3v3h-3zM156,125h3v3h-3zM177,149h3v3h-3z" fill="#b3ef16"/>
<path d="M54,41h3v3h-3zM93,77h3v3h-3zM144,89h3v3h-3zM147,101h3v3h-3zM195,107h3v3h-3zM177,110h3v3h-3zM144,119h3v3h-3zM210,125h3v3h-3zM246,134h3v3h-3zM144,143h3v3h-3zM168,143h3v3h-3zM201,143h3v3h-3zM150,149h3v3h-3zM243,164h3v3h-3z" fill="#cbf116"/>
<path d="M60,41h3v3h-3zM168,56h3v3h-3zM165,59h3v3h-3z" fill="#72e718"/>
<path d="M66,41h3v3h-3zM234,125h3v3h-3zM240,125h3v3h-3zM237,128h3v3h-3z" fill="#55e318"/>
<path d="M72,41h3v3h-3zM243,116h3v3h-3z" fill="#5ae418"/>
<path d="M78,41h3v3h-3zM204,89h3v3h-3z" fill="#7ce818"/>
<path d="M81,41h3v3h-3zM207,86h3v3h-3zM249,116h3v3h-3zM234,119h3v3h-3zM252,128h3v3h-3z" fill="#94eb18"/>
<path d="M90,41h3v3h-3zM234,107h3v3h-3zM255,128h3v3h-3zM171,158h3v3h-3z" fill="#abee17"/>
<path d="M96,41h3v3h-3zM264,86h3v3h-3zM252,95h3v3h-3zM120,104h3v3h-3zM180,110h3v3h-3zM99,122h3v3h-3zM141,125h3v3h-3z" fill="#e3f016"/>
<path d="M114,41h3v3h-3zM207,41h3v3h-3zM51,53h3v3h-3zM201,65h3v3h-3zM114,110h3v3h-3zM123,155h3v3h-3zM129,155h3v3h-3z" fill="#f8c719"/>
<path d="M132,41h3v3h-3zM228,50h3v3h-3zM189,59h3v3h-3zM123,86h3v3h-3zM183,128h3v3h-3zM216,146h3v3h-3zM135,161h3v3h-3z" fill="#f9d218"/>
<path d="M204,41h3v3h-3zM228,47h3v3h-3zM69,71h3v3h-3zM135,77h3v3h-3zM198,77h3v3h-3z" fill="#f9d318"/>
<path d="M210,41h3v3h-3zM111,50h3v3h-3zM114,50h3v3h-3zM198,56h3v3h-3zM177,80h3v3h-3zM198,86h3v3h-3zM105,101h3v3h-3zM96,104h3v3h-3z" fill="#f6a01a"/>
<path d="M213,41h3v3h-3z" fill="#ec4c17"/>
<path d="M39,44h3v3h-3zM156,50h3v3h-3z" fill="#f37919"/>
<path d="M42,44h3v3h-3zM210,44h3v3h-3z" fill="#f16b18"/>
<path d="M45,44h3v3h-3zM117,59h3v3h-3zM102,83h3v3h-3zM111,92h3v3h-3z" fill="#f8b619"/>
<path d="M51,44h3v3h-3zM87,47h3v3h-3zM171,116h3v3h-3zM99,119h3v3h-3zM204,131h3v3h-3zM162,143h3v3h-3z" fill="#c6f116"/>
<path d="M54,44h3v3h-3zM180,62h3v3h-3zM183,62h3v3h-3zM93,83h3v3h-3zM210,83h3v3h-3zM147,89h3v3h-3zM201,95h3v3h-3zM210,107h3v3h-3zM201,110h3v3h-3zM201,125h3v3h-3zM168,140h3v3h-3zM198,143h3v3h-3zM141,152h3v3h-3zM147,152h3v3h-3z" fill="#cef116"/>
<path d="M81,44h3v3h-3z" fill="#97ec17"/>
<path d="M84,44h3v3h-3zM156,92h3v3h-3z" fill="#a5ed17"/>
<path d="M90,44h3v3h-3zM255,71h3v3h-3z" fill="#a1ed17"/>
<path d="M93,44h3v3h-3zM255,74h3v3h-3zM267,74h3v3h-3zM150,95h3v3h-3zM159,113h3v3h-3zM156,119h3v3h-3zM168,134h3v3h-3zM165,137h3v3h-3zM243,158h3v3h-3z" fill="#b6ef16"/>
<path d="M120,44h3v3h-3zM102,50h3v3h-3zM72,56h3v3h-3zM246,56h3v3h-3zM75,59h3v3h-3zM132,65h3v3h-3zM78,86h3v3h-3zM84,98h3v3h-3zM123,101h3v3h-3zM135,101h3v3h-3zM132,128h3v3h-3zM249,140h3v3h-3zM255,143h3v3h-3zM255,146h3v3h-3zM255,149h3v3h-3z" fill="#f8e217"/>
<path d="M162,44h3v3h-3zM141,59h3v3h-3zM102,86h3v3h-3zM120,113h3v3h-3z" fill="#f7b51a"/>
<path d="M165,44h3v3h-3zM195,62h3v3h-3zM108,86h3v3h-3zM129,86h3v3h-3zM132,161h3v3h-3z" fill="#f8b719"/>
<path d="M183,44h3v3h-3zM150,50h3v3h-3zM192,62h3v3h-3zM183,80h3v3h-3zM93,110h3v3h-3z" fill="#f6a11a"/>
<path d="M186,44h3v3h-3zM192,44h3v3h-3zM216,50h3v3h-3zM195,53h3v3h-3z" fill="#ee5418"/>
<path d="M204,44h3v3h-3zM150,59h3v3h-3z" fill="#f27219"/>
<path d="M207,44h3v3h-3zM144,53h3v3h-3zM186,53h3v3h-3zM153,59h3v3h-3zM219,59h3v3h-3z" fill="#f37d19"/>
<path d="M213,44h3v3h-3zM201,50h3v3h-3z" fill="#ea4216"/>
<path d="M216,44h3v3h-3z" fill="#ee5818"/>
<path d="M219,44h3v3h-3zM63,56h3v3h-3zM93,101h3v3h-3zM111,116h3v3h-3zM189,131h3v3h-3z" fill="#f9ca18"/>
<path d="M54,47h3v3h-3zM150,92h3v3h-3zM174,95h3v3h-3zM177,119h3v3h-3zM207,137h3v3h-3zM159,140h3v3h-3zM165,143h3v3h-3z" fill="#c2f016"/>
<path d="M75,47h3v3h-3zM246,131h3v3h-3z" fill="#92eb18"/>
<path d="M93,47h3v3h-3zM162,107h3v3h-3zM174,107h3v3h-3zM153,113h3v3h-3zM150,116h3v3h-3zM150,119h3v3h-3zM153,119h3v3h-3zM174,131h3v3h-3zM150,134h3v3h-3zM168,146h3v3h-3z" fill="#bff016"/>
<path d="M114,47h3v3h-3zM177,74h3v3h-3zM117,86h3v3h-3zM117,113h3v3h-3z" fill="#f8bf19"/>
<path d="M147,47h3v3h-3zM96,101h3v3h-3zM108,113h3v3h-3z" fill="#f8be19"/>
<path d="M171,47h3v3h-3zM126,53h3v3h-3zM102,62h3v3h-3zM129,122h3v3h-3z" fill="#f7eb16"/>
<path d="M183,47h3v3h-3zM219,62h3v3h-3zM186,86h3v3h-3zM210,152h3v3h-3z" fill="#f58d1a"/>
<path d="M186,47h3v3h-3z" fill="#ee5218"/>
<path d="M189,47h3v3h-3z" fill="#e63015"/>
<path d="M195,47h3v3h-3z" fill="#ef5918"/>
<path d="M198,47h3v3h-3z" fill="#ee5618"/>
<path d="M201,47h3v3h-3zM189,50h3v3h-3z" fill="#e93e16"/>
<path d="M207,47h3v3h-3z" fill="#e31f14"/>
<path d="M210,47h3v3h-3z" fill="#e21e14"/>
<path d="M213,47h3v3h-3z" fill="#e93b16"/>
<path d="M216,47h3v3h-3zM195,50h3v3h-3z" fill="#ee5918"/>
<path d="M48,50h3v3h-3zM189,74h3v3h-3zM126,86h3v3h-3zM132,152h3v3h-3z" fill="#f8c519"/>
<path d="M78,50h3v3h-3zM180,65h3v3h-3zM234,92h3v3h-3zM180,104h3v3h-3zM204,116h3v3h-3zM150,152h3v3h-3z" fill="#daf116"/>
<path d="M87,50h3v3h-3zM87,74h3v3h-3zM177,92h3v3h-3zM252,92h3v3h-3zM195,122h3v3h-3zM192,134h3v3h-3zM138,140h3v3h-3z" fill="#dcf116"/>
<path d="M90,50h3v3h-3zM177,89h3v3h-3zM138,104h3v3h-3zM192,119h3v3h-3zM111,131h3v3h-3z" fill="#e4f016"/>
<path d="M117,50h3v3h-3zM102,95h3v3h-3z" fill="#f7ad1a"/>
<path d="M120,50h3v3h-3z" fill="#f9cb18"/>
<path d="M129,50h3v3h-3zM132,53h3v3h-3zM93,56h3v3h-3zM96,56h3v3h-3zM132,59h3v3h-3zM249,59h3v3h-3zM246,65h3v3h-3zM126,74h3v3h-3zM126,77h3v3h-3zM141,83h3v3h-3zM228,83h3v3h-3zM249,83h3v3h-3zM129,101h3v3h-3zM213,101h3v3h-3zM111,143h3v3h-3zM255,152h3v3h-3zM165,155h3v3h-3zM186,158h3v3h-3zM222,161h3v3h-3z" fill="#f7e716"/>
<path d="M159,50h3v3h-3zM216,62h3v3h-3zM231,65h3v3h-3zM186,128h3v3h-3zM210,149h3v3h-3z" fill="#f5891a"/>
<path d="M186,50h3v3h-3z" fill="#ec4917"/>
<path d="M192,50h3v3h-3z" fill="#eb4417"/>
<path d="M198,50h3v3h-3z" fill="#ec4d17"/>
<path d="M204,50h3v3h-3z" fill="#e42714"/>
<path d="M210,50h3v3h-3z" fill="#e83616"/>
<path d="M213,50h3v3h-3z" fill="#e93c16"/>
<path d="M219,50h3v3h-3zM186,125h3v3h-3z" fill="#f27819"/>
<path d="M111,53h3v3h-3zM192,83h3v3h-3z" fill="#f48719"/>
<path d="M114,53h3v3h-3z" fill="#f06118"/>
<path d="M159,53h3v3h-3zM63,59h3v3h-3zM69,62h3v3h-3zM189,122h3v3h-3z" fill="#f7a71a"/>
<path d="M162,53h3v3h-3zM108,59h3v3h-3zM174,80h3v3h-3zM114,83h3v3h-3zM102,89h3v3h-3zM117,89h3v3h-3zM120,89h3v3h-3zM105,92h3v3h-3zM111,95h3v3h-3zM99,98h3v3h-3zM111,119h3v3h-3z" fill="#f8bb19"/>
<path d="M183,53h3v3h-3zM102,80h3v3h-3zM135,98h3v3h-3zM129,161h3v3h-3z" fill="#f8c119"/>
<path d="M189,53h3v3h-3zM216,53h3v3h-3zM66,62h3v3h-3z" fill="#f16918"/>
<path d="M192,53h3v3h-3z" fill="#ef6018"/>
<path d="M204,53h3v3h-3z" fill="#e52b15"/>
<path d="M207,53h3v3h-3z" fill="#e62e15"/>
<path d="M210,53h3v3h-3z" fill="#ed5017"/>
<path d="M213,53h3v3h-3z" fill="#ee5518"/>
<path d="M108,56h3v3h-3zM189,77h3v3h-3zM108,83h3v3h-3zM102,92h3v3h-3z" fill="#f7b21a"/>
<path d="M111,56h3v3h-3z" fill="#f16f19"/>
<path d="M114,56h3v3h-3zM93,107h3v3h-3z" fill="#f27419"/>
<path d="M117,56h3v3h-3zM189,86h3v3h-3z" fill="#f37c19"/>
<path d="M120,56h3v3h-3zM132,158h3v3h-3z" fill="#f8ba19"/>
<path d="M141,56h3v3h-3zM219,71h3v3h-3zM192,77h3v3h-3zM195,77h3v3h-3zM135,86h3v3h-3zM129,95h3v3h-3z" fill="#f7a81a"/>
<path d="M147,56h3v3h-3zM150,56h3v3h-3zM216,59h3v3h-3zM222,62h3v3h-3zM222,65h3v3h-3zM195,86h3v3h-3zM96,107h3v3h-3z" fill="#f48619"/>
<path d="M171,56h3v3h-3zM261,68h3v3h-3zM249,113h3v3h-3zM123,125h3v3h-3zM246,161h3v3h-3z" fill="#95eb18"/>
<path d="M174,56h3v3h-3zM171,89h3v3h-3zM171,101h3v3h-3zM168,110h3v3h-3zM93,116h3v3h-3zM150,122h3v3h-3zM207,122h3v3h-3zM201,131h3v3h-3zM195,134h3v3h-3z" fill="#c4f116"/>
<path d="M177,56h3v3h-3zM84,77h3v3h-3zM222,89h3v3h-3zM231,95h3v3h-3zM198,110h3v3h-3zM138,143h3v3h-3z" fill="#d5f116"/>
<path d="M180,56h3v3h-3zM255,89h3v3h-3zM255,92h3v3h-3zM210,104h3v3h-3zM135,107h3v3h-3zM132,113h3v3h-3zM135,116h3v3h-3zM183,137h3v3h-3zM246,155h3v3h-3z" fill="#e8f016"/>
<path d="M183,56h3v3h-3zM171,86h3v3h-3zM147,110h3v3h-3zM132,116h3v3h-3zM129,119h3v3h-3zM132,119h3v3h-3zM138,119h3v3h-3zM183,140h3v3h-3zM180,146h3v3h-3z" fill="#eef016"/>
<path d="M192,56h3v3h-3z" fill="#f27319"/>
<path d="M195,56h3v3h-3zM90,107h3v3h-3z" fill="#f48319"/>
<path d="M207,56h3v3h-3z" fill="#f17019"/>
<path d="M210,56h3v3h-3z" fill="#f16d19"/>
<path d="M213,56h3v3h-3zM195,83h3v3h-3z" fill="#f37b19"/>
<path d="M219,56h3v3h-3z" fill="#f37f19"/>
<path d="M60,59h3v3h-3zM216,71h3v3h-3zM108,80h3v3h-3zM195,89h3v3h-3zM120,95h3v3h-3zM126,98h3v3h-3zM129,98h3v3h-3zM237,146h3v3h-3zM132,155h3v3h-3z" fill="#f8c319"/>
<path d="M111,59h3v3h-3zM195,59h3v3h-3zM249,149h3v3h-3z" fill="#f6a21a"/>
<path d="M114,59h3v3h-3zM219,68h3v3h-3zM189,125h3v3h-3z" fill="#f58a1a"/>
<path d="M156,59h3v3h-3zM243,149h3v3h-3z" fill="#f27119"/>
<path d="M159,59h3v3h-3zM183,71h3v3h-3zM222,74h3v3h-3zM120,86h3v3h-3zM186,131h3v3h-3zM249,146h3v3h-3zM216,155h3v3h-3z" fill="#f8c619"/>
<path d="M162,59h3v3h-3zM93,74h3v3h-3zM228,89h3v3h-3zM207,110h3v3h-3zM201,119h3v3h-3zM180,122h3v3h-3zM252,131h3v3h-3zM249,134h3v3h-3z" fill="#d1f116"/>
<path d="M168,59h3v3h-3z" fill="#6be618"/>
<path d="M183,59h3v3h-3zM177,101h3v3h-3zM192,110h3v3h-3zM180,116h3v3h-3zM198,119h3v3h-3zM195,137h3v3h-3zM144,140h3v3h-3zM207,140h3v3h-3zM174,149h3v3h-3z" fill="#caf116"/>
<path d="M198,59h3v3h-3zM90,62h3v3h-3zM114,62h3v3h-3zM117,80h3v3h-3zM120,155h3v3h-3zM123,161h3v3h-3zM129,170h3v3h-3z" fill="#f9d018"/>
<path d="M63,62h3v3h-3z" fill="#f06518"/>
<path d="M168,62h3v3h-3zM243,122h3v3h-3z" fill="#56e418"/>
<path d="M177,62h3v3h-3zM93,80h3v3h-3zM219,92h3v3h-3zM201,107h3v3h-3zM204,110h3v3h-3zM210,119h3v3h-3zM171,134h3v3h-3zM177,134h3v3h-3zM198,137h3v3h-3zM204,137h3v3h-3zM210,140h3v3h-3z" fill="#c8f116"/>
<path d="M186,62h3v3h-3zM237,89h3v3h-3zM246,89h3v3h-3zM234,95h3v3h-3zM147,104h3v3h-3zM204,104h3v3h-3zM147,113h3v3h-3zM207,113h3v3h-3zM144,122h3v3h-3zM141,140h3v3h-3z" fill="#d9f116"/>
<path d="M258,62h3v3h-3zM177,65h3v3h-3zM150,89h3v3h-3zM195,92h3v3h-3zM222,92h3v3h-3zM201,98h3v3h-3zM177,107h3v3h-3zM192,113h3v3h-3zM201,113h3v3h-3zM198,116h3v3h-3zM252,116h3v3h-3zM195,119h3v3h-3zM180,131h3v3h-3zM171,149h3v3h-3zM252,161h3v3h-3z" fill="#d3f116"/>
<path d="M63,65h3v3h-3z" fill="#ef5d18"/>
<path d="M66,65h3v3h-3z" fill="#ef5a18"/>
<path d="M78,65h3v3h-3zM150,86h3v3h-3zM129,107h3v3h-3zM183,131h3v3h-3zM177,140h3v3h-3zM192,164h3v3h-3z" fill="#eff016"/>
<path d="M171,65h3v3h-3zM243,113h3v3h-3z" fill="#69e618"/>
<path d="M198,65h3v3h-3zM213,74h3v3h-3zM174,83h3v3h-3zM129,152h3v3h-3z" fill="#f9cf18"/>
<path d="M210,65h3v3h-3zM111,83h3v3h-3zM105,89h3v3h-3zM108,92h3v3h-3zM132,98h3v3h-3zM96,110h3v3h-3z" fill="#f8bc19"/>
<path d="M219,65h3v3h-3zM228,68h3v3h-3zM189,83h3v3h-3zM135,92h3v3h-3z" fill="#f5901a"/>
<path d="M255,65h3v3h-3zM243,92h3v3h-3zM240,95h3v3h-3zM192,107h3v3h-3zM180,113h3v3h-3zM210,113h3v3h-3zM195,116h3v3h-3zM198,146h3v3h-3z" fill="#d7f116"/>
<path d="M66,68h3v3h-3z" fill="#f27619"/>
<path d="M69,68h3v3h-3zM114,89h3v3h-3zM213,146h3v3h-3zM246,152h3v3h-3z" fill="#f7b41a"/>
<path d="M198,68h3v3h-3zM213,68h3v3h-3zM105,83h3v3h-3zM108,95h3v3h-3z" fill="#f8b919"/>
<path d="M201,68h3v3h-3zM117,83h3v3h-3zM138,86h3v3h-3zM138,89h3v3h-3zM126,155h3v3h-3zM213,155h3v3h-3z" fill="#f8c219"/>
<path d="M249,68h3v3h-3zM129,116h3v3h-3zM186,134h3v3h-3zM192,143h3v3h-3zM240,164h3v3h-3z" fill="#ecf016"/>
<path d="M258,68h3v3h-3zM264,77h3v3h-3z" fill="#9eec17"/>
<path d="M264,68h3v3h-3z" fill="#99ec17"/>
<path d="M90,71h3v3h-3zM255,80h3v3h-3zM168,86h3v3h-3zM240,92h3v3h-3zM222,95h3v3h-3zM207,104h3v3h-3zM174,137h3v3h-3z" fill="#e1f116"/>
<path d="M93,71h3v3h-3zM90,83h3v3h-3zM225,92h3v3h-3zM246,92h3v3h-3zM243,95h3v3h-3zM204,101h3v3h-3zM207,101h3v3h-3zM255,131h3v3h-3zM171,137h3v3h-3zM174,146h3v3h-3zM168,158h3v3h-3zM168,161h3v3h-3z" fill="#dbf116"/>
<path d="M96,71h3v3h-3zM162,86h3v3h-3zM246,86h3v3h-3zM117,104h3v3h-3zM183,107h3v3h-3zM99,113h3v3h-3zM102,122h3v3h-3zM189,146h3v3h-3z" fill="#ebf016"/>
<path d="M225,71h3v3h-3zM180,77h3v3h-3z" fill="#f69f1a"/>
<path d="M261,71h3v3h-3zM156,95h3v3h-3zM165,101h3v3h-3z" fill="#96ec17"/>
<path d="M264,71h3v3h-3zM258,74h3v3h-3z" fill="#93eb18"/>
<path d="M267,71h3v3h-3z" fill="#9dec17"/>
<path d="M96,74h3v3h-3zM249,89h3v3h-3zM216,95h3v3h-3zM141,98h3v3h-3zM189,110h3v3h-3zM144,116h3v3h-3zM168,149h3v3h-3z" fill="#d4f116"/>
<path d="M180,74h3v3h-3zM183,77h3v3h-3zM120,92h3v3h-3zM135,95h3v3h-3zM207,149h3v3h-3z" fill="#f6a51a"/>
<path d="M183,74h3v3h-3zM180,86h3v3h-3zM117,92h3v3h-3z" fill="#f7b31a"/>
<path d="M228,74h3v3h-3zM129,83h3v3h-3zM249,152h3v3h-3z" fill="#f9cc18"/>
<path d="M252,74h3v3h-3zM96,80h3v3h-3zM213,83h3v3h-3zM258,83h3v3h-3zM153,86h3v3h-3zM144,104h3v3h-3zM249,104h3v3h-3zM96,113h3v3h-3zM129,113h3v3h-3zM141,119h3v3h-3zM180,128h3v3h-3z" fill="#e7f016"/>
<path d="M261,74h3v3h-3zM213,89h3v3h-3z" fill="#8eeb18"/>
<path d="M264,74h3v3h-3zM120,125h3v3h-3z" fill="#8dea18"/>
<path d="M174,77h3v3h-3zM192,128h3v3h-3zM252,149h3v3h-3zM123,158h3v3h-3z" fill="#f9ce18"/>
<path d="M186,77h3v3h-3zM99,89h3v3h-3zM105,98h3v3h-3zM129,158h3v3h-3z" fill="#f7ac1a"/>
<path d="M261,77h3v3h-3zM174,152h3v3h-3z" fill="#85e918"/>
<path d="M87,80h3v3h-3zM231,89h3v3h-3zM252,89h3v3h-3zM249,92h3v3h-3zM186,104h3v3h-3zM183,119h3v3h-3zM114,125h3v3h-3zM180,125h3v3h-3z" fill="#ddf116"/>
<path d="M105,80h3v3h-3zM198,80h3v3h-3zM99,86h3v3h-3zM105,86h3v3h-3zM114,86h3v3h-3zM108,89h3v3h-3zM105,95h3v3h-3zM120,116h3v3h-3zM114,119h3v3h-3zM126,158h3v3h-3z" fill="#f8bd19"/>
<path d="M195,80h3v3h-3z" fill="#f5971a"/>
<path d="M258,80h3v3h-3zM204,86h3v3h-3zM171,92h3v3h-3zM99,116h3v3h-3zM177,122h3v3h-3zM174,128h3v3h-3zM144,134h3v3h-3zM165,134h3v3h-3zM153,137h3v3h-3zM162,146h3v3h-3zM243,161h3v3h-3z" fill="#b8ef16"/>
<path d="M267,80h3v3h-3zM117,101h3v3h-3zM195,128h3v3h-3zM168,155h3v3h-3z" fill="#e1f016"/>
<path d="M99,83h3v3h-3zM117,95h3v3h-3zM126,161h3v3h-3z" fill="#f8c819"/>
<path d="M198,83h3v3h-3zM126,95h3v3h-3z" fill="#f7a61a"/>
<path d="M207,83h3v3h-3zM219,86h3v3h-3zM234,86h3v3h-3zM237,95h3v3h-3zM246,95h3v3h-3zM180,101h3v3h-3zM195,125h3v3h-3zM252,134h3v3h-3zM195,158h3v3h-3z" fill="#e0f116"/>
<path d="M255,83h3v3h-3zM180,107h3v3h-3zM144,113h3v3h-3zM135,119h3v3h-3z" fill="#e9f016"/>
<path d="M261,83h3v3h-3zM219,89h3v3h-3zM186,107h3v3h-3zM249,107h3v3h-3zM195,110h3v3h-3zM177,113h3v3h-3zM207,116h3v3h-3zM105,119h3v3h-3zM192,137h3v3h-3zM168,152h3v3h-3z" fill="#d0f116"/>
<path d="M183,86h3v3h-3z" fill="#f5951a"/>
<path d="M111,89h3v3h-3z" fill="#f7b01a"/>
<path d="M123,89h3v3h-3zM126,89h3v3h-3zM111,110h3v3h-3z" fill="#f7a91a"/>
<path d="M153,89h3v3h-3zM174,89h3v3h-3zM207,107h3v3h-3zM204,125h3v3h-3zM198,140h3v3h-3z" fill="#c9f116"/>
<path d="M192,89h3v3h-3z" fill="#f7aa1a"/>
<path d="M210,89h3v3h-3zM174,155h3v3h-3z" fill="#70e718"/>
<path d="M216,89h3v3h-3z" fill="#a0ed17"/>
<path d="M114,92h3v3h-3zM216,149h3v3h-3z" fill="#f7b11a"/>
<path d="M144,92h3v3h-3zM174,101h3v3h-3zM171,104h3v3h-3zM162,110h3v3h-3zM165,110h3v3h-3zM177,116h3v3h-3zM96,119h3v3h-3zM210,122h3v3h-3zM201,134h3v3h-3zM135,146h3v3h-3zM138,149h3v3h-3zM144,152h3v3h-3z" fill="#c0f016"/>
<path d="M147,92h3v3h-3zM159,110h3v3h-3zM162,113h3v3h-3zM147,122h3v3h-3zM114,131h3v3h-3zM126,131h3v3h-3zM198,134h3v3h-3zM150,143h3v3h-3zM249,164h3v3h-3z" fill="#bbf016"/>
<path d="M168,92h3v3h-3zM147,95h3v3h-3zM171,95h3v3h-3zM171,98h3v3h-3zM165,116h3v3h-3zM174,116h3v3h-3zM174,119h3v3h-3zM171,128h3v3h-3zM171,131h3v3h-3z" fill="#b5ef16"/>
<path d="M198,92h3v3h-3zM246,104h3v3h-3zM96,116h3v3h-3zM153,116h3v3h-3zM159,143h3v3h-3zM141,146h3v3h-3z" fill="#c5f116"/>
<path d="M153,95h3v3h-3zM213,95h3v3h-3zM237,104h3v3h-3z" fill="#b0ee17"/>
<path d="M159,95h3v3h-3zM252,125h3v3h-3z" fill="#7fe918"/>
<path d="M192,95h3v3h-3z" fill="#8cea18"/>
<path d="M195,95h3v3h-3zM234,116h3v3h-3zM255,125h3v3h-3zM177,158h3v3h-3z" fill="#88ea18"/>
<path d="M198,95h3v3h-3zM159,122h3v3h-3z" fill="#b1ee17"/>
<path d="M153,98h3v3h-3z" fill="#83e918"/>
<path d="M156,98h3v3h-3zM153,101h3v3h-3zM237,107h3v3h-3zM174,158h3v3h-3z" fill="#87ea18"/>
<path d="M159,98h3v3h-3zM246,110h3v3h-3z" fill="#6ee718"/>
<path d="M195,98h3v3h-3zM162,101h3v3h-3z" fill="#76e818"/>
<path d="M198,98h3v3h-3z" fill="#8bea18"/>
<path d="M207,98h3v3h-3zM171,110h3v3h-3zM147,116h3v3h-3zM168,119h3v3h-3zM171,122h3v3h-3zM201,128h3v3h-3zM177,131h3v3h-3zM201,137h3v3h-3zM201,146h3v3h-3zM144,149h3v3h-3zM147,149h3v3h-3z" fill="#c1f016"/>
<path d="M159,101h3v3h-3z" fill="#82e918"/>
<path d="M195,101h3v3h-3zM246,122h3v3h-3z" fill="#6ae618"/>
<path d="M198,101h3v3h-3zM162,128h3v3h-3zM249,128h3v3h-3z" fill="#7ae818"/>
<path d="M102,104h3v3h-3z" fill="#f06718"/>
<path d="M153,104h3v3h-3zM162,125h3v3h-3zM117,131h3v3h-3z" fill="#86ea18"/>
<path d="M177,104h3v3h-3zM192,104h3v3h-3zM252,110h3v3h-3zM102,119h3v3h-3zM207,128h3v3h-3zM168,137h3v3h-3zM147,155h3v3h-3z" fill="#ccf116"/>
<path d="M240,104h3v3h-3zM234,110h3v3h-3zM123,131h3v3h-3z" fill="#7ee918"/>
<path d="M243,104h3v3h-3z" fill="#81e918"/>
<path d="M105,107h3v3h-3zM108,107h3v3h-3z" fill="#f06218"/>
<path d="M165,107h3v3h-3zM198,122h3v3h-3zM204,143h3v3h-3z" fill="#c3f116"/>
<path d="M240,107h3v3h-3zM246,116h3v3h-3z" fill="#6de618"/>
<path d="M237,110h3v3h-3zM237,116h3v3h-3zM237,119h3v3h-3z" fill="#78e818"/>
<path d="M156,122h3v3h-3zM153,125h3v3h-3zM249,131h3v3h-3zM246,164h3v3h-3z" fill="#afee17"/>
<path d="M249,122h3v3h-3z" fill="#80e918"/>
<path d="M159,125h3v3h-3zM246,158h3v3h-3z" fill="#9bec17"/>
<path d="M237,125h3v3h-3zM246,125h3v3h-3z" fill="#53e318"/>
<path d="M243,125h3v3h-3z" fill="#51e318"/>
<path d="M123,128h3v3h-3zM156,128h3v3h-3z" fill="#91eb18"/>
<path d="M159,128h3v3h-3z" fill="#89ea18"/>
<path d="M177,128h3v3h-3z" fill="#baf016"/>
<path d="M243,128h3v3h-3zM177,155h3v3h-3z" fill="#52e318"/>
<path d="M165,131h3v3h-3z" fill="#9aec17"/>
<path d="M243,146h3v3h-3zM246,146h3v3h-3z" fill="#f6a61a"/>
<path d="M219,152h3v3h-3zM207,155h3v3h-3z" fill="#f8c419"/>
</g>
<polyline points="173.2,24 170,30 167.2,35 170.7,43.4" fill="none" stroke="#e4e4dc" stroke-width="1.3" opacity="0.9"/>
<polyline points="158,86 160,91" fill="none" stroke="#e4e4dc" stroke-width="1.2" opacity="0.8"/>
<polyline points="173,74 180,70 186,68" fill="none" stroke="#e4e4dc" stroke-width="1.2" opacity="0.8"/>
<polyline points="5,25.5 25.3,23.4 40,24.8 55,26.2 69,24.3 90,23.1 113.4,23.7 136.7,24.8 150.7,27.2 170,30.1 180.9,32.7 201.3,37.8 221.7,43.9 238.1,50 250.4,56.2 262.6,65.4 274.9,76.3" fill="none" stroke="#d8241c" stroke-width="1.5"/>
<polyline points="5,25.5 26.6,37.8 43.9,48 55.2,57.2 61.3,65.4 70.5,74.6 77.7,87.9 82.8,100 100,127 132.1,175.3" fill="none" stroke="#d8241c" stroke-width="1.5"/>
<circle cx="72" cy="68" r="6.2" fill="none" stroke="#f4f0f4" stroke-width="1.3"/>
<polygon points="72,63.7 73.18,66.68 76.37,66.88 73.9,68.92 74.7,72.02 72,70.3 69.3,72.02 70.1,68.92 67.63,66.88 70.82,66.68" fill="#e830d8"/>
<text x="80.8" y="71.6" font-size="9.8" fill="#c63fcf" stroke="#c63fcf" stroke-width="0.18" >GNSS</text>
<line x1="65.5" y1="72.5" x2="41" y2="83" stroke="#f0f0f0" stroke-width="1.1" />
<polygon points="38,84.4 43.5,80.3 44.6,84.2" fill="#f0f0f0"/>
<text x="3.3" y="94.2" font-size="12.6" fill="#f4f4f4" stroke="#555" stroke-width="0.15">Selected TP</text>
<rect x="242.8" y="3.7" width="29.1" height="29.2" fill="#fff" />
<polygon points="253.3,5.6 255.4,14.2 260.8,22.3 257.8,13.5" fill="#111"/>
<polygon points="244.6,12.4 255.4,14.2 260.8,22.3" fill="#fff" stroke="#111" stroke-width="0.8"/>
<text x="264.6" y="29" font-size="7.8" fill="#111" stroke="#111" stroke-width="0.18" text-anchor="middle" font-weight="bold" transform="rotate(-35 264.6 29)" >N</text>
<line x1="217.3" y1="8.7" x2="231.5" y2="30.6" stroke="#efe23a" stroke-width="1.3" />
<polygon points="233.3,33.3 228.6,29.4 232.6,27.6" fill="#efe23a"/>
<line x1="221.2" y1="16.4" x2="204.2" y2="27.8" stroke="#efe23a" stroke-width="1.3" />
<polygon points="201.4,29.8 204,25.6 206.4,29.2" fill="#efe23a"/>
<text x="209.2" y="22.6" font-size="8.2" fill="#efe23a" stroke="#efe23a" stroke-width="0.18" text-anchor="middle" transform="rotate(-33.7 209.2 22.6)" >LOS</text>
<text x="227" y="18.6" font-size="7.6" fill="#efe23a" stroke="#efe23a" stroke-width="0.18" text-anchor="middle" transform="rotate(57 227 18.6)" >Azimuth</text>
<rect x="4.5" y="131.4" width="65" height="59.6" fill="#fff" />
<text x="8.3" y="139.7" font-size="7.9" fill="#111" stroke="#111" stroke-width="0.18" font-weight="bold" >Legend</text>
<text x="8.3" y="151.8" font-size="7.3" fill="#111" stroke="#111" stroke-width="0.18" font-weight="bold" >ADR (mm/a)</text>
<text x="8.3" y="161.2" font-size="6.7" fill="#111" stroke="#111" stroke-width="0.18" font-weight="bold" >Value</text>
<defs><linearGradient id="adrg" x1="0" y1="0" x2="0" y2="1"><stop offset="0" stop-color="#ea2a1a"/><stop offset="0.25" stop-color="#f49a22"/><stop offset="0.5" stop-color="#f4ee26"/><stop offset="0.75" stop-color="#a8ec2a"/><stop offset="1" stop-color="#3cdc22"/></linearGradient></defs>
<rect x="8.2" y="164.5" width="17.3" height="14.4" fill="url(#adrg)" />
<text x="30.1" y="167.3" font-size="5.5" fill="#222" stroke="#222" stroke-width="0.18" >High : 18.8075</text>
<text x="30.1" y="181.1" font-size="5.5" fill="#222" stroke="#222" stroke-width="0.18" >Low : -173.671</text>
<rect x="74.6" y="175.7" width="84.6" height="14.8" fill="#fff" />
<text x="77.7" y="183" font-size="6.8" fill="#111" stroke="#111" stroke-width="0.18" text-anchor="middle" >0</text>
<text x="96" y="183" font-size="6.8" fill="#111" stroke="#111" stroke-width="0.18" text-anchor="middle" >70</text>
<text x="114.4" y="183" font-size="6.8" fill="#111" stroke="#111" stroke-width="0.18" text-anchor="middle" >140</text>
<text x="150.2" y="183" font-size="6.8" fill="#111" stroke="#111" stroke-width="0.18" text-anchor="middle" >280</text>
<text x="155.2" y="189.6" font-size="6.8" fill="#111" stroke="#111" stroke-width="0.18" >m</text>
<rect x="77.7" y="185.3" width="36.7" height="3.3" fill="#111" />
<rect x="114.4" y="185.5" width="36.2" height="2.9" fill="#fff" stroke="#111" stroke-width="0.6"/>
<rect x="3.6" y="4.7" width="21.2" height="19.3" fill="#fff" />
<text x="4" y="19.1" font-size="16.5" fill="#111" stroke="#111" stroke-width="0.18" >(a)</text>
</g>
<line x1="280" y1="2" x2="280" y2="194.5" stroke="#b0b0b0" stroke-width="1.0" />
<line x1="1.2" y1="195" x2="280" y2="195" stroke="#d0d0d0" stroke-width="0.6" />
<line x1="351.7" y1="6.3" x2="646.6" y2="6.3" stroke="#9a9a9a" stroke-width="1.2" />
<line x1="351.7" y1="185.5" x2="646.6" y2="185.5" stroke="#3a3a3a" stroke-width="1.2" />
<line x1="351.7" y1="5.7" x2="351.7" y2="186.1" stroke="#3a3a3a" stroke-width="1.2" />
<line x1="646.6" y1="5.7" x2="646.6" y2="186.1" stroke="#3a3a3a" stroke-width="1.2" />
<line x1="349.5" y1="185.6" x2="351.7" y2="185.6" stroke="#3a3a3a" stroke-width="1" />
<line x1="347.7" y1="169.3" x2="351.7" y2="169.3" stroke="#3a3a3a" stroke-width="1" />
<text x="346.7" y="172.6" font-size="9.5" fill="#222" stroke="#222" stroke-width="0.18" text-anchor="end" >0</text>
<line x1="349.5" y1="153" x2="351.7" y2="153" stroke="#3a3a3a" stroke-width="1" />
<line x1="347.7" y1="136.7" x2="351.7" y2="136.7" stroke="#3a3a3a" stroke-width="1" />
<text x="346.7" y="140" font-size="9.5" fill="#222" stroke="#222" stroke-width="0.18" text-anchor="end" >20</text>
<line x1="349.5" y1="120.4" x2="351.7" y2="120.4" stroke="#3a3a3a" stroke-width="1" />
<line x1="347.7" y1="104.1" x2="351.7" y2="104.1" stroke="#3a3a3a" stroke-width="1" />
<text x="346.7" y="107.4" font-size="9.5" fill="#222" stroke="#222" stroke-width="0.18" text-anchor="end" >40</text>
<line x1="349.5" y1="87.8" x2="351.7" y2="87.8" stroke="#3a3a3a" stroke-width="1" />
<line x1="347.7" y1="71.5" x2="351.7" y2="71.5" stroke="#3a3a3a" stroke-width="1" />
<text x="346.7" y="74.8" font-size="9.5" fill="#222" stroke="#222" stroke-width="0.18" text-anchor="end" >60</text>
<line x1="349.5" y1="55.2" x2="351.7" y2="55.2" stroke="#3a3a3a" stroke-width="1" />
<line x1="347.7" y1="38.9" x2="351.7" y2="38.9" stroke="#3a3a3a" stroke-width="1" />
<text x="346.7" y="42.2" font-size="9.5" fill="#222" stroke="#222" stroke-width="0.18" text-anchor="end" >80</text>
<line x1="349.5" y1="22.6" x2="351.7" y2="22.6" stroke="#3a3a3a" stroke-width="1" />
<line x1="347.7" y1="6.3" x2="351.7" y2="6.3" stroke="#3a3a3a" stroke-width="1" />
<text x="346.7" y="9.6" font-size="9.5" fill="#222" stroke="#222" stroke-width="0.18" text-anchor="end" >100</text>
<line x1="646.6" y1="185.5" x2="650.6" y2="185.5" stroke="#c84848" stroke-width="1" />
<text x="652.1" y="189" font-size="10" fill="#c44545" stroke="#c44545" stroke-width="0.18" >140</text>
<line x1="646.6" y1="163.06" x2="648.8" y2="163.06" stroke="#c84848" stroke-width="1" />
<line x1="646.6" y1="140.62" x2="650.6" y2="140.62" stroke="#c84848" stroke-width="1" />
<text x="652.1" y="144.12" font-size="10" fill="#c44545" stroke="#c44545" stroke-width="0.18" >150</text>
<line x1="646.6" y1="118.19" x2="648.8" y2="118.19" stroke="#c84848" stroke-width="1" />
<line x1="646.6" y1="95.75" x2="650.6" y2="95.75" stroke="#c84848" stroke-width="1" />
<text x="652.1" y="99.25" font-size="10" fill="#c44545" stroke="#c44545" stroke-width="0.18" >160</text>
<line x1="646.6" y1="73.31" x2="648.8" y2="73.31" stroke="#c84848" stroke-width="1" />
<line x1="646.6" y1="50.88" x2="650.6" y2="50.88" stroke="#c84848" stroke-width="1" />
<text x="652.1" y="54.38" font-size="10" fill="#c44545" stroke="#c44545" stroke-width="0.18" >170</text>
<line x1="646.6" y1="28.44" x2="648.8" y2="28.44" stroke="#c84848" stroke-width="1" />
<line x1="646.6" y1="6" x2="650.6" y2="6" stroke="#c84848" stroke-width="1" />
<text x="652.1" y="9.5" font-size="10" fill="#c44545" stroke="#c44545" stroke-width="0.18" >180</text>
<line x1="351.7" y1="185.5" x2="351.7" y2="189.5" stroke="#3a3a3a" stroke-width="1" />
<text x="351.7" y="200" font-size="10.2" fill="#222" stroke="#222" stroke-width="0.18" text-anchor="middle" >2023/6/21</text>
<line x1="388.56" y1="185.5" x2="388.56" y2="187.7" stroke="#3a3a3a" stroke-width="1" />
<line x1="425.42" y1="185.5" x2="425.42" y2="189.5" stroke="#3a3a3a" stroke-width="1" />
<text x="425.42" y="200" font-size="10.2" fill="#222" stroke="#222" stroke-width="0.18" text-anchor="middle" >2023/9/19</text>
<line x1="462.28" y1="185.5" x2="462.28" y2="187.7" stroke="#3a3a3a" stroke-width="1" />
<line x1="499.14" y1="185.5" x2="499.14" y2="189.5" stroke="#3a3a3a" stroke-width="1" />
<text x="499.14" y="200" font-size="10.2" fill="#222" stroke="#222" stroke-width="0.18" text-anchor="middle" >2023/12/18</text>
<line x1="536" y1="185.5" x2="536" y2="187.7" stroke="#3a3a3a" stroke-width="1" />
<line x1="572.86" y1="185.5" x2="572.86" y2="189.5" stroke="#3a3a3a" stroke-width="1" />
<text x="572.86" y="200" font-size="10.2" fill="#222" stroke="#222" stroke-width="0.18" text-anchor="middle" >2024/3/17</text>
<line x1="609.72" y1="185.5" x2="609.72" y2="187.7" stroke="#3a3a3a" stroke-width="1" />
<line x1="646.58" y1="185.5" x2="646.58" y2="189.5" stroke="#3a3a3a" stroke-width="1" />
<text x="646.58" y="200" font-size="10.2" fill="#222" stroke="#222" stroke-width="0.18" text-anchor="middle" >2024/6/15</text>
<text x="498.5" y="213.2" font-size="10.6" fill="#222" stroke="#222" stroke-width="0.18" text-anchor="middle"  textLength="42" lengthAdjust="spacing">Date (d)</text>
<text x="330.2" y="96.8" font-size="11" fill="#222" stroke="#222" stroke-width="0.18" text-anchor="middle" textLength="56" lengthAdjust="spacing" transform="rotate(-90 330.2 96.8)">Value(mm)</text>
<text x="681" y="95.6" font-size="11" fill="#c44545" stroke="#c44545" stroke-width="0.18" text-anchor="middle" transform="rotate(-90 681 95.6)"  textLength="69" lengthAdjust="spacing">TGR level(m)</text>
<text x="354" y="22.2" font-size="16.5" fill="#111" stroke="#111" stroke-width="0.18" >(b)</text>
<text x="499.8" y="28.5" font-size="10" fill="#444" stroke="#444" stroke-width="0.25" font-style="italic" letter-spacing="1.15">error<tspan font-size="5.6" dy="2.4" letter-spacing="1.9">InSAR</tspan><tspan dy="-2.4" letter-spacing="1.2">=3.12mm</tspan></text>
<text x="499.8" y="42" font-size="10" fill="#444" stroke="#444" stroke-width="0.25" font-style="italic" letter-spacing="0.6">error<tspan font-size="5.6" dy="2.5" letter-spacing="0.45">correction</tspan><tspan dy="-2.5" letter-spacing="1.2">=0.81mm</tspan></text>
<path d="M351.7,165.3 C352.83,164.73 355.97,163.03 358.5,161.9 C361.03,160.77 364.08,159.2 366.9,158.5 C369.72,157.8 372.58,157.75 375.4,157.7 C378.22,157.65 381.27,158.35 383.8,158.2 C386.33,158.05 388.33,157.73 390.6,156.8 C392.87,155.87 394.87,154 397.4,152.6 C399.93,151.2 402.98,149.58 405.8,148.4 C408.62,147.22 412.03,146.15 414.3,145.5 C416.57,144.85 417.72,143.88 419.4,144.5 C421.08,145.12 422.72,147.57 424.4,149.2 C426.08,150.83 427.52,153.12 429.5,154.3 C431.48,155.48 434.03,156.35 436.3,156.3 C438.57,156.25 440.52,155.25 443.1,154 C445.68,152.75 449.23,150.13 451.8,148.8 C454.37,147.47 456.1,147.03 458.5,146 C460.9,144.97 463.93,143.97 466.2,142.6 C468.47,141.23 470,139.78 472.1,137.8 C474.2,135.82 476.55,133.52 478.8,130.7 C481.05,127.88 483.33,124.08 485.6,120.9 C487.87,117.72 490.15,114.13 492.4,111.6 C494.65,109.07 496.28,107.82 499.1,105.7 C501.92,103.58 505.9,101.17 509.3,98.9 C512.7,96.63 516.12,94.35 519.5,92.1 C522.88,89.85 526.22,87.65 529.6,85.4 C532.98,83.15 537.23,80.43 539.8,78.6 C542.37,76.77 542.58,76.18 545,74.4 C547.42,72.62 551.2,69.75 554.3,67.9 C557.4,66.05 560.18,64.68 563.6,63.3 C567.02,61.92 570.77,60.6 574.8,59.6 C578.83,58.6 584.08,57.55 587.8,57.3 C591.52,57.05 594,57.72 597.1,58.1 C600.2,58.48 603.92,59.52 606.4,59.6 C608.88,59.68 609.83,59.7 612,58.6 C614.17,57.5 616.6,55.02 619.4,53 C622.2,50.98 625.68,48.67 628.8,46.5 C631.92,44.33 635.17,41.92 638.1,40 C641.03,38.08 645.02,35.83 646.4,35" fill="none" stroke="#3bb7e0" stroke-width="1.7" stroke-linejoin="round" stroke-linecap="round" />
<path d="M351.7,140.8 C352.83,141.78 355.97,144.58 358.5,146.7 C361.03,148.82 364.37,152.1 366.9,153.5 C369.43,154.9 371.43,155.1 373.7,155.1 C375.97,155.1 377.97,154.77 380.5,153.5 C383.03,152.23 386.08,150.18 388.9,147.5 C391.72,144.82 394.58,140.35 397.4,137.4 C400.22,134.45 402.98,131.78 405.8,129.8 C408.62,127.82 411.75,127.05 414.3,125.5 C416.85,123.95 418.85,122.18 421.1,120.5 C423.35,118.82 425.83,115.83 427.8,115.4 C429.77,114.97 431.2,115.78 432.9,117.9 C434.6,120.02 436.45,125.47 438,128.1 C439.55,130.73 440.87,132.95 442.2,133.7 C443.53,134.45 444.4,133.47 446,132.6 C447.6,131.73 449.72,129.6 451.8,128.5 C453.88,127.4 456.1,126.7 458.5,126 C460.9,125.3 463.93,124.3 466.2,124.3 C468.47,124.3 470.28,125.58 472.1,126 C473.92,126.42 475.55,127.37 477.1,126.8 C478.65,126.23 479.98,124.72 481.4,122.6 C482.82,120.48 484.2,116.02 485.6,114.1 C487,112.18 488.38,111.15 489.8,111.1 C491.22,111.05 492.68,112.93 494.1,113.8 C495.52,114.67 496.9,116.38 498.3,116.3 C499.7,116.22 501.08,115.35 502.5,113.3 C503.92,111.25 505.25,106.97 506.8,104 C508.35,101.03 509.97,98.32 511.8,95.5 C513.63,92.68 515.68,89.35 517.8,87.1 C519.92,84.85 521.97,83.47 524.5,82 C527.03,80.53 530.45,79 533,78.3 C535.55,77.6 537.8,77.82 539.8,77.8 C541.8,77.78 542.58,77.88 545,78.2 C547.42,78.52 551.2,79.4 554.3,79.7 C557.4,80 561.12,80.57 563.6,80 C566.08,79.43 567.03,78.47 569.2,76.3 C571.37,74.13 574.43,68.08 576.6,67 C578.77,65.92 580.02,67.68 582.2,69.8 C584.38,71.92 587.52,78.3 589.7,79.7 C591.88,81.1 592.82,80.78 595.3,78.2 C597.78,75.62 601.5,68.55 604.6,64.2 C607.7,59.85 610.5,55.82 613.9,52.1 C617.3,48.38 621.28,45.15 625,41.9 C628.72,38.65 632.63,35.55 636.2,32.6 C639.77,29.65 644.7,25.6 646.4,24.2" fill="none" stroke="#f2cf30" stroke-width="1.9" stroke-linejoin="round" stroke-linecap="round" />
<path d="M351.7,159.4 C352.83,160.52 355.97,163.98 358.5,166.1 C361.03,168.22 364.08,170.82 366.9,172.1 C369.72,173.38 372.58,174.08 375.4,173.8 C378.22,173.52 381.27,172.23 383.8,170.4 C386.33,168.57 388.33,166.05 390.6,162.8 C392.87,159.55 395.15,154.02 397.4,150.9 C399.65,147.78 401.28,146.22 404.1,144.1 C406.92,141.98 411.47,140.17 414.3,138.2 C417.13,136.23 418.7,134.75 421.1,132.3 C423.5,129.85 426.73,124.35 428.7,123.5 C430.67,122.65 431.35,124.03 432.9,127.2 C434.45,130.37 436.45,138.83 438,142.5 C439.55,146.17 440.87,148.35 442.2,149.2 C443.53,150.05 444.4,148.93 446,147.6 C447.6,146.27 449.72,142.83 451.8,141.2 C453.88,139.57 456.1,138.7 458.5,137.8 C460.9,136.9 463.93,135.8 466.2,135.8 C468.47,135.8 470.42,137.18 472.1,137.8 C473.78,138.42 474.9,139.78 476.3,139.5 C477.7,139.22 478.95,138.92 480.5,136.1 C482.05,133.28 484.05,125.9 485.6,122.6 C487.15,119.3 488.38,116.58 489.8,116.3 C491.22,116.02 492.68,119.62 494.1,120.9 C495.52,122.18 496.9,124.28 498.3,124 C499.7,123.72 500.95,122.53 502.5,119.2 C504.05,115.87 505.9,108.52 507.6,104 C509.3,99.48 511,95.77 512.7,92.1 C514.4,88.43 515.83,84.82 517.8,82 C519.77,79.18 521.97,76.9 524.5,75.2 C527.03,73.5 530.45,72.37 533,71.8 C535.55,71.23 537.8,71.52 539.8,71.8 C541.8,72.08 542.9,72.9 545,73.5 C547.1,74.1 549.62,75 552.4,75.4 C555.18,75.8 558.9,76.68 561.7,75.9 C564.5,75.12 566.72,73.12 569.2,70.7 C571.68,68.28 574.43,62.33 576.6,61.4 C578.77,60.47 580.02,62.77 582.2,65.1 C584.38,67.43 587.52,74 589.7,75.4 C591.88,76.8 593.13,75.83 595.3,73.5 C597.47,71.17 599.92,65.43 602.7,61.4 C605.48,57.37 608.58,53.02 612,49.3 C615.42,45.58 619.48,42.35 623.2,39.1 C626.92,35.85 630.43,32.75 634.3,29.8 C638.17,26.85 644.38,22.8 646.4,21.4" fill="none" stroke="#23955a" stroke-width="1.9" stroke-linejoin="round" stroke-linecap="round" />
<polyline points="351.7,133.1 353.4,131.5 355.1,134.8 356.8,139.1 358.5,137.4 361,139.9 363.5,119.6 366.1,128.1 368.6,137.4 370.3,134.8 372.8,126.4 377.1,123 380.5,120.5 382.1,115.4 383.8,98.5 386.4,100.2 389.8,98.5 393.1,100.2 394.8,103.5 396.5,98.5 399.1,104.4 400.8,106.9 402.5,115.4 404.5,125.9 406.7,115.4 409.2,110.3 412.6,105.2 416,101.8 418.5,97.6 420.2,90 421,82 424.4,74.4 427,64.3 429.5,51.6 432.6,57.5 435.4,48.2 438,44.8 439.7,40.6 442.2,33 444.8,30.5 449.8,30.5 452.6,31 456.8,31.8 459.4,34.4 461.9,37.8 465.3,39.5 470.4,42 473.8,41.7 478.8,42.8 483.9,45 489,45.7 494.1,49.6 499.1,55.5 503.4,60.6 507.6,62 512.7,64.8 517.8,67 522.8,66.5 527.9,64.3 532.1,60.6 536.4,60.9 540.6,62.3 545,66.5 548.7,71.7 552.4,76.3 558,78.2 563.6,80 569.2,82.8 574.8,87.5 580.4,94.9 586,101.2 590.6,101.2 594.3,96.5 599,96.5 602.7,94.1 605.5,98.4 608.3,104 612,100.8 614.8,104.9 618.5,114.2 623.2,124.4 626,126.3 630.6,138.4 636.2,155.1 639,161.1 641.8,157 646.4,141.2" fill="none" stroke="#d9262b" stroke-width="1.9" stroke-linejoin="round" stroke-linecap="round" />
<rect x="500.4" y="126.2" width="124.2" height="56.4" fill="#fff" stroke="#cfcfcf" stroke-width="1.3"/>
<line x1="504.6" y1="133.4" x2="518.8" y2="133.4" stroke="#f2cf30" stroke-width="1.8" />
<line x1="504.6" y1="148.6" x2="518.8" y2="148.6" stroke="#3bb7e0" stroke-width="1.8" />
<line x1="504.6" y1="165" x2="518.8" y2="165" stroke="#23955a" stroke-width="1.8" />
<line x1="504.6" y1="176.5" x2="518.8" y2="176.5" stroke="#d9262b" stroke-width="1.8" />
<text x="522.2" y="136.6" font-size="9" fill="#222" xml:space="preserve">InSAR  Value</text>
<text x="522.2" y="147.2" font-size="9" fill="#222" stroke="#222" stroke-width="0.18" >GNSS monitors the XY</text>
<text x="522.2" y="156.6" font-size="9" fill="#222" stroke="#222" stroke-width="0.18" >resultant displacement</text>
<text x="522.2" y="168.2" font-size="9" fill="#222" stroke="#222" stroke-width="0.18" >Correction Displacement</text>
<text x="522.2" y="179.7" font-size="9" fill="#222" xml:space="preserve">TGR  level</text>
<line x1="20.2" y1="221.8" x2="194.6" y2="221.8" stroke="#9a9a9a" stroke-width="1.2" />
<line x1="20.2" y1="360.5" x2="194.6" y2="360.5" stroke="#3a3a3a" stroke-width="1.2" />
<line x1="20.2" y1="221.2" x2="20.2" y2="361.1" stroke="#3a3a3a" stroke-width="1.2" />
<line x1="194.6" y1="221.2" x2="194.6" y2="361.1" stroke="#7a5a5a" stroke-width="1.1" />
<line x1="236.6" y1="221.8" x2="236.6" y2="361.1" stroke="#6a6a7a" stroke-width="1.0" />
<line x1="16.7" y1="360.5" x2="20.2" y2="360.5" stroke="#3a3a3a" stroke-width="1" />
<text x="15.9" y="363.6" font-size="9" fill="#222" stroke="#222" stroke-width="0.18" text-anchor="end" >-4</text>
<line x1="18.2" y1="351.25" x2="20.2" y2="351.25" stroke="#3a3a3a" stroke-width="1" />
<line x1="16.7" y1="342" x2="20.2" y2="342" stroke="#3a3a3a" stroke-width="1" />
<text x="15.9" y="345.1" font-size="9" fill="#222" stroke="#222" stroke-width="0.18" text-anchor="end" >-3</text>
<line x1="18.2" y1="332.75" x2="20.2" y2="332.75" stroke="#3a3a3a" stroke-width="1" />
<line x1="16.7" y1="323.5" x2="20.2" y2="323.5" stroke="#3a3a3a" stroke-width="1" />
<text x="15.9" y="326.6" font-size="9" fill="#222" stroke="#222" stroke-width="0.18" text-anchor="end" >-2</text>
<line x1="18.2" y1="314.25" x2="20.2" y2="314.25" stroke="#3a3a3a" stroke-width="1" />
<line x1="16.7" y1="305" x2="20.2" y2="305" stroke="#3a3a3a" stroke-width="1" />
<text x="15.9" y="308.1" font-size="9" fill="#222" stroke="#222" stroke-width="0.18" text-anchor="end" >-1</text>
<line x1="18.2" y1="295.75" x2="20.2" y2="295.75" stroke="#3a3a3a" stroke-width="1" />
<line x1="16.7" y1="286.5" x2="20.2" y2="286.5" stroke="#3a3a3a" stroke-width="1" />
<text x="15.9" y="289.6" font-size="9" fill="#222" stroke="#222" stroke-width="0.18" text-anchor="end" >0</text>
<line x1="18.2" y1="277.25" x2="20.2" y2="277.25" stroke="#3a3a3a" stroke-width="1" />
<line x1="16.7" y1="268" x2="20.2" y2="268" stroke="#3a3a3a" stroke-width="1" />
<text x="15.9" y="271.1" font-size="9" fill="#222" stroke="#222" stroke-width="0.18" text-anchor="end" >1</text>
<line x1="18.2" y1="258.75" x2="20.2" y2="258.75" stroke="#3a3a3a" stroke-width="1" />
<line x1="16.7" y1="249.5" x2="20.2" y2="249.5" stroke="#3a3a3a" stroke-width="1" />
<text x="15.9" y="252.6" font-size="9" fill="#222" stroke="#222" stroke-width="0.18" text-anchor="end" >2</text>
<line x1="18.2" y1="240.25" x2="20.2" y2="240.25" stroke="#3a3a3a" stroke-width="1" />
<line x1="16.7" y1="231" x2="20.2" y2="231" stroke="#3a3a3a" stroke-width="1" />
<text x="15.9" y="234.1" font-size="9" fill="#222" stroke="#222" stroke-width="0.18" text-anchor="end" >3</text>
<line x1="18.2" y1="221.75" x2="20.2" y2="221.75" stroke="#3a3a3a" stroke-width="1" />
<line x1="20.5" y1="360.5" x2="20.5" y2="364" stroke="#3a3a3a" stroke-width="1" />
<text x="20.5" y="371.2" font-size="8.4" fill="#222" stroke="#222" stroke-width="0.18" text-anchor="middle" >0</text>
<line x1="36.05" y1="360.5" x2="36.05" y2="362.5" stroke="#3a3a3a" stroke-width="1" />
<line x1="51.6" y1="360.5" x2="51.6" y2="364" stroke="#3a3a3a" stroke-width="1" />
<text x="51.6" y="371.2" font-size="8.4" fill="#222" stroke="#222" stroke-width="0.18" text-anchor="middle" >100</text>
<line x1="67.15" y1="360.5" x2="67.15" y2="362.5" stroke="#3a3a3a" stroke-width="1" />
<line x1="82.7" y1="360.5" x2="82.7" y2="364" stroke="#3a3a3a" stroke-width="1" />
<text x="82.7" y="371.2" font-size="8.4" fill="#222" stroke="#222" stroke-width="0.18" text-anchor="middle" >200</text>
<line x1="98.25" y1="360.5" x2="98.25" y2="362.5" stroke="#3a3a3a" stroke-width="1" />
<line x1="113.8" y1="360.5" x2="113.8" y2="364" stroke="#3a3a3a" stroke-width="1" />
<text x="113.8" y="371.2" font-size="8.4" fill="#222" stroke="#222" stroke-width="0.18" text-anchor="middle" >300</text>
<line x1="129.35" y1="360.5" x2="129.35" y2="362.5" stroke="#3a3a3a" stroke-width="1" />
<line x1="144.9" y1="360.5" x2="144.9" y2="364" stroke="#3a3a3a" stroke-width="1" />
<text x="144.9" y="371.2" font-size="8.4" fill="#222" stroke="#222" stroke-width="0.18" text-anchor="middle" >400</text>
<line x1="160.45" y1="360.5" x2="160.45" y2="362.5" stroke="#3a3a3a" stroke-width="1" />
<line x1="176" y1="360.5" x2="176" y2="364" stroke="#3a3a3a" stroke-width="1" />
<text x="176" y="371.2" font-size="8.4" fill="#222" stroke="#222" stroke-width="0.18" text-anchor="middle" >500</text>
<line x1="191.55" y1="360.5" x2="191.55" y2="362.5" stroke="#3a3a3a" stroke-width="1" />
<text x="107.5" y="382.4" font-size="10.3" fill="#222" stroke="#222" stroke-width="0.18" text-anchor="middle" >Time (d)</text>
<text x="7.7" y="298.8" font-size="9.9" fill="#222" stroke="#222" stroke-width="0.18" text-anchor="middle" textLength="109" lengthAdjust="spacing" transform="rotate(-90 7.7 298.8)">TP1-<tspan font-style="italic">imfn</tspan> value(mm)</text>
<line x1="194.6" y1="360.5" x2="198.1" y2="360.5" stroke="#c0392b" stroke-width="1" />
<text x="198" y="363.4" font-size="8.0" fill="#c0392b" stroke="#c0392b" stroke-width="0.18" >0</text>
<line x1="194.6" y1="351.25" x2="196.6" y2="351.25" stroke="#c0392b" stroke-width="1" />
<line x1="194.6" y1="341.99" x2="198.1" y2="341.99" stroke="#c0392b" stroke-width="1" />
<text x="198" y="344.89" font-size="8.0" fill="#c0392b" stroke="#c0392b" stroke-width="0.18" >100</text>
<line x1="194.6" y1="332.74" x2="196.6" y2="332.74" stroke="#c0392b" stroke-width="1" />
<line x1="194.6" y1="323.48" x2="198.1" y2="323.48" stroke="#c0392b" stroke-width="1" />
<text x="198" y="326.38" font-size="8.0" fill="#c0392b" stroke="#c0392b" stroke-width="0.18" >200</text>
<line x1="194.6" y1="314.23" x2="196.6" y2="314.23" stroke="#c0392b" stroke-width="1" />
<line x1="194.6" y1="304.97" x2="198.1" y2="304.97" stroke="#c0392b" stroke-width="1" />
<text x="198" y="307.87" font-size="8.0" fill="#c0392b" stroke="#c0392b" stroke-width="0.18" >300</text>
<line x1="194.6" y1="295.72" x2="196.6" y2="295.72" stroke="#c0392b" stroke-width="1" />
<line x1="194.6" y1="286.46" x2="198.1" y2="286.46" stroke="#c0392b" stroke-width="1" />
<text x="198" y="289.36" font-size="8.0" fill="#c0392b" stroke="#c0392b" stroke-width="0.18" >400</text>
<line x1="194.6" y1="277.21" x2="196.6" y2="277.21" stroke="#c0392b" stroke-width="1" />
<line x1="194.6" y1="267.95" x2="198.1" y2="267.95" stroke="#c0392b" stroke-width="1" />
<text x="198" y="270.85" font-size="8.0" fill="#c0392b" stroke="#c0392b" stroke-width="0.18" >500</text>
<line x1="194.6" y1="258.69" x2="196.6" y2="258.69" stroke="#c0392b" stroke-width="1" />
<line x1="194.6" y1="249.44" x2="198.1" y2="249.44" stroke="#c0392b" stroke-width="1" />
<text x="198" y="252.34" font-size="8.0" fill="#c0392b" stroke="#c0392b" stroke-width="0.18" >600</text>
<line x1="194.6" y1="240.19" x2="196.6" y2="240.19" stroke="#c0392b" stroke-width="1" />
<line x1="194.6" y1="230.93" x2="198.1" y2="230.93" stroke="#c0392b" stroke-width="1" />
<text x="198" y="233.83" font-size="8.0" fill="#c0392b" stroke="#c0392b" stroke-width="0.18" >700</text>
<line x1="194.6" y1="221.68" x2="196.6" y2="221.68" stroke="#c0392b" stroke-width="1" />
<text x="221.6" y="289.8" font-size="10.6" fill="#c0392b" stroke="#c0392b" stroke-width="0.18" text-anchor="middle" transform="rotate(-90 221.6 289.8)" >Cumulative rainfall(mm)</text>
<line x1="233.1" y1="360.5" x2="236.6" y2="360.5" stroke="#8484c2" stroke-width="1" />
<text x="233.2" y="363.4" font-size="8.2" fill="#9090c8" stroke="#9090c8" stroke-width="0.18" text-anchor="end" >0</text>
<line x1="234.6" y1="348.96" x2="236.6" y2="348.96" stroke="#8484c2" stroke-width="1" />
<line x1="233.1" y1="337.42" x2="236.6" y2="337.42" stroke="#8484c2" stroke-width="1" />
<text x="233.2" y="340.32" font-size="8.2" fill="#9090c8" stroke="#9090c8" stroke-width="0.18" text-anchor="end" >25</text>
<line x1="234.6" y1="325.88" x2="236.6" y2="325.88" stroke="#8484c2" stroke-width="1" />
<line x1="233.1" y1="314.33" x2="236.6" y2="314.33" stroke="#8484c2" stroke-width="1" />
<text x="233.2" y="317.23" font-size="8.2" fill="#9090c8" stroke="#9090c8" stroke-width="0.18" text-anchor="end" >50</text>
<line x1="234.6" y1="302.79" x2="236.6" y2="302.79" stroke="#8484c2" stroke-width="1" />
<line x1="233.1" y1="291.25" x2="236.6" y2="291.25" stroke="#8484c2" stroke-width="1" />
<text x="233.2" y="294.15" font-size="8.2" fill="#9090c8" stroke="#9090c8" stroke-width="0.18" text-anchor="end" >75</text>
<line x1="234.6" y1="279.71" x2="236.6" y2="279.71" stroke="#8484c2" stroke-width="1" />
<line x1="233.1" y1="268.17" x2="236.6" y2="268.17" stroke="#8484c2" stroke-width="1" />
<text x="233.2" y="271.07" font-size="8.2" fill="#9090c8" stroke="#9090c8" stroke-width="0.18" text-anchor="end" >100</text>
<line x1="234.6" y1="256.63" x2="236.6" y2="256.63" stroke="#8484c2" stroke-width="1" />
<line x1="233.1" y1="245.09" x2="236.6" y2="245.09" stroke="#8484c2" stroke-width="1" />
<text x="233.2" y="247.99" font-size="8.2" fill="#9090c8" stroke="#9090c8" stroke-width="0.18" text-anchor="end" >125</text>
<line x1="234.6" y1="233.55" x2="236.6" y2="233.55" stroke="#8484c2" stroke-width="1" />
<line x1="233.1" y1="222" x2="236.6" y2="222" stroke="#8484c2" stroke-width="1" />
<text x="233.2" y="224.91" font-size="8.2" fill="#9090c8" stroke="#9090c8" stroke-width="0.18" text-anchor="end" >150</text>
<text x="246.4" y="291.2" font-size="10.4" fill="#8a8ac8" stroke="#8a8ac8" stroke-width="0.18" text-anchor="middle" textLength="102" lengthAdjust="spacing" transform="rotate(-90 246.4 291.2)">TP-<tspan font-style="italic">residue</tspan> value(mm)</text>
<text x="24.9" y="236.4" font-size="16.5" fill="#111" stroke="#111" stroke-width="0.18" >(c)</text>
<polyline points="20.5,361 32.7,357.3 45,352.4 57.2,348.7 67,345.6 74.4,342.4 81.8,336.5 89.1,327.5 94.6,320 100,313 105.2,307.5 112,302.5 120.5,298 129.5,294.8 135.7,290.5 141.8,286.2 147.6,283.3 155.2,275.7 162.8,268.1 170.5,260.5 178.1,254.4 185.7,249.8 191,247.6 194.5,247.2" fill="none" stroke="#8484c2" stroke-width="1.2" stroke-linejoin="round" stroke-linecap="round" />
<polyline points="20.5,361 24.15,361 24.15,358.55 27.8,358.55 27.8,356.1 31.5,356.1 31.5,353.65 35.2,353.65 35.2,351.2 38.85,351.2 38.85,349.35 42.5,349.35 42.5,347.5 46.2,347.5 46.2,346.3 49.9,346.3 49.9,345.1 52.95,345.1 52.95,343.85 56,343.85 56,342.6 57.2,332.8 59.7,332.8 59.7,330.3 61.6,320.5 64.6,320.5 64.6,320 69.5,320 69.5,318.1 72,318.1 72,314.4 75.05,314.4 75.05,312.55 78.1,312.55 78.1,310.7 81.8,310.7 81.8,308.3 85.45,308.3 85.45,306.45 89.1,306.45 89.1,304.6 94,304.6 94,300.9 98.9,300.9 98.9,298.5 101.95,298.5 101.95,297.9 105,297.9 105,297.3 108.7,297.3 108.7,294.85 112.4,294.85 112.4,292.4 116.05,292.4 116.05,289.95 119.7,289.95 119.7,287.5 123.4,287.5 123.4,285.9 127.1,285.9 127.1,284.3 132,284.3 132,278.9 136.9,278.9 136.9,275.9 140.6,275.9 140.6,275.55 144.3,275.55 144.3,275.2 147.3,275.2 147.3,272.7 148.4,257.4 151.8,257.4 151.8,255.5 155.2,255.5 155.2,253.6 157.88,253.6 157.88,253.03 160.55,253.03 160.55,252.45 163.22,252.45 163.22,251.88 165.9,251.88 165.9,251.3 168.93,251.3 168.93,251.07 171.97,251.07 171.97,250.83 175,250.83 175,250.6 177.7,250.6 177.7,249.8 180.4,249.8 180.4,249 181.9,237.6 185.3,237.6 185.3,236.85 188.7,236.85 188.7,236.1 192.5,236.1 192.5,233 194.6,233 194.6,231.2" fill="none" stroke="#c8302c" stroke-width="1.7" stroke-linejoin="round" stroke-linecap="round" />
<polyline points="20.2,291.72 20.6,293.69 21,294.33 21.4,292.77 21.8,291.65 22.2,289.04 22.6,286.63 23,283.89 23.4,281.76 23.8,279.1 24.2,280.39 24.6,281.07 25,282.55 25.4,284.73 25.8,287.77 26.2,290.5 26.6,292.93 27,293.47 27.4,293.82 27.8,292.56 28.2,289.81 28.6,287.3 29,284.68 29.4,281.84 29.8,279.94 30.2,280.31 30.6,280.62 31,282.35 31.4,284.79 31.8,286.77 32.2,289.46 32.6,292.02 33,292.93 33.4,291.94 33.8,292.22 34.2,289.52 34.6,287.16 35,284.49 35.4,281.86 35.8,280.13 36.2,279.46 36.6,280.09 37,282.9 37.4,284.75 37.8,287.75 38.2,289.73 38.6,291.27 39,292.05 39.4,293.37 39.8,290.49 40.2,289.4 40.6,286.87 41,284.32 41.4,282.46 41.8,280.06 42.2,280.44 42.6,281.68 43,281.97 43.4,284.39 43.8,287.29 44.2,290.18 44.6,291.55 45,293 45.4,292.12 45.8,291.51 46.2,289.32 46.6,287.33 47,285.19 47.4,283.81 47.8,282.98 48.2,282.64 48.6,282.27 49,283.38 49.4,284.7 49.8,286.07 50.2,287.45 50.6,288.37 51,288.93 51.4,289.15 51.8,288.53 52.2,287.86 52.6,287.12 53,286.26 53.4,285.46 53.8,284.84 54.2,284.38 54.6,284.32 55,284.67 55.4,285.04 55.8,285.92 56.2,286.85 56.6,287.48 57,288.17 57.4,288.23 57.8,288.54 58.2,288.24 58.6,287.91 59,287.18 59.4,286.23 59.8,285.39 60.2,284.72 60.6,284.8 61,284.71 61.4,285.14 61.8,285.73 62.2,286.51 62.6,287.28 63,287.98 63.4,288.63 63.8,288.42 64.2,288.12 64.6,287.6 65,286.68 65.4,286 65.8,285.29 66.2,284.49 66.6,284.56 67,284.48 67.4,285.11 67.8,285.52 68.2,286.17 68.6,286.97 69,287.48 69.4,288.29 69.8,288.27 70.2,288.79 70.6,288.29 71,287.54 71.4,286.7 71.8,285.49 72.2,284.48 72.6,283.3 73,282.75 73.4,282.36 73.8,282.96 74.2,284.34 74.6,286.33 75,288.44 75.4,290.6 75.8,292.79 76.2,292.05 76.6,291.31 77,290.33 77.4,288.53 77.8,286.18 78.2,284.21 78.6,282.26 79,280.89 79.4,280.1 79.8,281.05 80.2,282.15 80.6,285.03 81,287.7 81.4,289.85 81.8,292.53 82.2,293.22 82.6,293.28 83,292.6 83.4,289.74 83.8,287.43 84.2,284.41 84.6,281.33 85,280.34 85.4,278.92 85.8,280.61 86.2,281.3 86.6,283.85 87,286.86 87.4,289.05 87.8,292.52 88.2,293.71 88.6,294.24 89,293.97 89.4,290.62 89.8,288.72 90.2,286.01 90.6,283.65 91,279.98 91.4,278.87 91.8,279.71 92.2,280.86 92.6,282.59 93,285.92 93.4,289.06 93.8,290.87 94.2,293.12 94.6,294.4 95,293.92 95.4,292.68 95.8,289.5 96.2,286.3 96.6,283.31 97,280.81 97.4,278.97 97.8,280.18 98.2,280.8 98.6,282.85 99,284.79 99.4,288.03 99.8,290.17 100.2,291.73 100.6,292.73 101,292.95 101.4,291.16 101.8,288.24 102.2,286.35 102.6,284.22 103,282.2 103.4,281.96 103.8,281.37 104.2,282.02 104.6,283.25 105,285.15 105.4,286.82 105.8,288.53 106.2,290.05 106.6,291.15 107,291.21 107.4,290.23 107.8,289.05 108.2,287.91 108.6,286.19 109,284.04 109.4,282.96 109.8,282.55 110.2,282.38 110.6,282.78 111,284.11 111.4,285.73 111.8,287.64 112.2,289.43 112.6,291.19 113,291.55 113.4,290.77 113.8,289.89 114.2,287.81 114.6,285.84 115,284.55 115.4,283.45 115.8,282.81 116.2,281.8 116.6,283.4 117,284.68 117.4,286.05 117.8,287.81 118.2,289.63 118.6,290.11 119,289.95 119.4,290.58 119.8,288.94 120.2,288.2 120.6,286.42 121,284.91 121.4,283.58 121.8,283.36 122.2,283.18 122.6,283.57 123,284.29 123.4,285.81 123.8,287.59 124.2,288.92 124.6,289.86 125,289.96 125.4,289.78 125.8,288.99 126.2,287.68 126.6,286.12 127,284.73 127.4,283.58 127.8,282.72 128.2,283.15 128.6,283.81 129,284.77 129.4,286.11 129.8,287.32 130.2,288.41 130.6,289.14 131,289.84 131.4,289.05 131.8,288.39 132.2,287.39 132.6,286.17 133,285 133.4,284.01 133.8,283.42 134.2,283.39 134.6,283.57 135,284.32 135.4,285.52 135.8,286.9 136.2,287.87 136.6,288.78 137,289.63 137.4,288.99 137.8,288.87 138.2,287.55 138.6,286.39 139,285.16 139.4,284.53 139.8,283.81 140.2,283.94 140.6,283.55 141,284.75 141.4,285.63 141.8,286.66 142.2,287.81 142.6,288.67 143,289.3 143.4,289.44 143.8,289.56 144.2,288.76 144.6,287.35 145,286.37 145.4,284.82 145.8,283.94 146.2,283.21 146.6,283.83 147,284.37 147.4,285.13 147.8,286.16 148.2,287.33 148.6,288.52 149,289.15 149.4,289.16 149.8,289.41 150.2,288.56 150.6,287.77 151,286.61 151.4,285.52 151.8,284.18 152.2,283.36 152.6,283.72 153,283.34 153.4,284.28 153.8,285.56 154.2,286.83 154.6,288.28 155,289.7 155.4,290.34 155.8,290.24 156.2,289.94 156.6,288.74 157,287.44 157.4,285.92 157.8,284.34 158.2,282.95 158.6,282.91 159,282.94 159.4,283.64 159.8,284.12 160.2,285.38 160.6,287.1 161,288.63 161.4,290.01 161.8,290.39 162.2,290.97 162.6,289.84 163,288.95 163.4,287.76 163.8,285.92 164.2,284.31 164.6,282.52 165,281.86 165.4,281.88 165.8,282.35 166.2,282.93 166.6,285.38 167,287.34 167.4,289.83 167.8,291.73 168.2,291.91 168.6,292.12 169,291.03 169.4,289.65 169.8,287.52 170.2,284.99 170.6,282.35 171,281.04 171.4,279.27 171.8,279.23 172.2,281.33 172.6,283.06 173,286.74 173.4,290.27 173.8,293.33 174.2,294.72 174.6,294.68 175,293.41 175.4,291.71 175.8,287.48 176.2,283.36 176.6,279.71 177,276.13 177.4,274.13 177.8,277 178.2,278.88 178.6,282.1 179,286.49 179.4,291.88 179.8,295.79 180.2,299.46 180.6,300.31 181,299.46 181.4,293.68 181.8,290.38 182.2,284.32 182.6,278.8 183,272.69 183.4,272.03 183.8,269.45 184.2,271.84 184.6,277.54 185,283.02 185.4,291.78 185.8,300.47 186.2,304.52 186.6,307.89 187,307.04 187.4,303.68 187.8,292.3 188.2,284.14 188.6,275.13 189,266.76 189.4,261.52 189.8,263.78 190.2,261.74 190.6,273.14 191,285.28 191.4,295.65 191.8,302.84 192.2,315.16 192.6,316.92 193,316.04 193.4,306.05 193.8,298.57 194.2,284.93" fill="none" stroke="#3fb6e2" stroke-width="1.4" stroke-linejoin="round" stroke-linecap="round" />
<polyline points="20.2,288.81 20.6,286.46 21,284.57 21.4,283.84 21.8,282.83 22.2,283.72 22.6,285.89 23,287.52 23.4,289.61 23.8,289.12 24.2,290.05 24.6,288.97 25,287.23 25.4,285.62 25.8,283.77 26.2,284 26.6,282.98 27,284.52 27.4,286.12 27.8,287.78 28.2,288.63 28.6,288.88 29,288.65 29.4,287.9 29.8,286 30.2,284.67 30.6,283.58 31,284.34 31.4,284.19 31.8,285.82 32.2,287.42 32.6,289.07 33,290.09 33.4,288.91 33.8,288.03 34.2,286.36 34.6,284.7 35,283.38 35.4,284.04 35.8,284.31 36.2,285.59 36.6,286.67 37,288.28 37.4,288.32 37.8,288.55 38.2,288.89 38.6,287.24 39,286.07 39.4,284.4 39.8,283.59 40.2,284.22 40.6,284.29 41,285.83 41.4,287.05 41.8,288.18 42.2,289.2 42.6,288.87 43,287.96 43.4,286.81 43.8,285.97 44.2,284.76 44.6,284.21 45,284.56 45.4,285.61 45.8,286.35 46.2,287.85 46.6,288.6 47,288.44 47.4,287.6 47.8,287.09 48.2,286.09 48.6,285.18 49,284.24 49.4,284.4 49.8,285.34 50.2,286.12 50.6,287.01 51,287.74 51.4,288.65 51.8,287.86 52.2,287.45 52.6,286.44 53,285.71 53.4,285.3 53.8,284.75 54.2,285.73 54.6,286.27 55,286.94 55.4,287.39 55.8,287.67 56.2,288.02 56.6,287.63 57,286.67 57.4,285.67 57.8,284.97 58.2,284.83 58.6,285.62 59,285.84 59.4,286.91 59.8,287.31 60.2,288.14 60.6,288.2 61,287.6 61.4,286.71 61.8,285.85 62.2,285.32 62.6,285.24 63,285.25 63.4,285.7 63.8,286.45 64.2,287.24 64.6,288.13 65,288.7 65.4,288.36 65.8,287.69 66.2,286.38 66.6,285.32 67,284.9 67.4,284.4 67.8,285.32 68.2,286.07 68.6,286.96 69,287.87 69.4,288.07 69.8,288.51 70.2,287.49 70.6,286.88 71,285.93 71.4,285.12 71.8,284.07 72.2,284.22 72.6,285.27 73,285.84 73.4,287.15 73.8,288.97 74.2,290.54 74.6,290.48 75,288.45 75.4,286.81 75.8,284.49 76.2,283.3 76.6,281.3 77,281.67 77.4,284.36 77.8,287.55 78.2,289.9 78.6,294.76 79,292.34 79.4,292.2 79.8,288.42 80.2,284.58 80.6,277.81 81,276.39 81.4,268.05 81.8,277.1 82.2,278.25 82.6,291.81 83,297.9 83.4,307.34 83.8,304.77 84.2,296.15 84.6,290.7 85,281.3 85.4,274.98 85.8,277.98 86.2,278.62 86.6,282.53 87,285.84 87.4,288.5 87.8,293.3 88.2,294.24 88.6,294.01 89,291.42 89.4,286.85 89.8,282.43 90.2,279.41 90.6,280.66 91,280.98 91.4,284.29 91.8,286.91 92.2,289.38 92.6,293.41 93,291.79 93.4,291.41 93.8,288.21 94.2,285.16 94.6,282.61 95,281.6 95.4,281.38 95.8,282.24 96.2,285.43 96.6,287.58 97,290.43 97.4,289.78 97.8,290.59 98.2,289.72 98.6,286.96 99,284.38 99.4,279.34 99.8,278.74 100.2,280.28 100.6,282.61 101,287.06 101.4,290.46 101.8,294.14 102.2,294.8 102.6,293.83 103,290.8 103.4,284.57 103.8,279.63 104.2,276.65 104.6,281.27 105,280.61 105.4,285.11 105.8,287.98 106.2,291.02 106.6,291.18 107,289.61 107.4,289.57 107.8,288.04 108.2,285.53 108.6,282.94 109,281.91 109.4,282.71 109.8,284.29 110.2,286.18 110.6,288.03 111,289.89 111.4,291.56 111.8,291.18 112.2,288.14 112.6,286.41 113,284.45 113.4,283.32 113.8,281.64 114.2,283.2 114.6,283.53 115,286.44 115.4,288.15 115.8,290.95 116.2,290.74 116.6,290.98 117,288.52 117.4,286.72 117.8,284.88 118.2,283.2 118.6,281.84 119,282.84 119.4,284.72 119.8,287.76 120.2,289.81 120.6,291.53 121,292.04 121.4,290.82 121.8,287.97 122.2,285.44 122.6,282.87 123,282.1 123.4,283.24 123.8,282.61 124.2,284.51 124.6,287.15 125,289.43 125.4,289.45 125.8,290.84 126.2,290.23 126.6,287.59 127,285.57 127.4,284.16 127.8,282.8 128.2,283.61 128.6,284.19 129,286.3 129.4,288.38 129.8,290.29 130.2,289.57 130.6,289.13 131,287.52 131.4,285.9 131.8,284.9 132.2,283.86 132.6,284.21 133,283.76 133.4,285.94 133.8,287.69 134.2,288.34 134.6,289.1 135,288.7 135.4,287.89 135.8,286.45 136.2,285.17 136.6,283.75 137,283.5 137.4,284.7 137.8,285.41 138.2,287.4 138.6,289.18 139,289.31 139.4,289.29 139.8,288.01 140.2,286.42 140.6,284.62 141,283.41 141.4,284.24 141.8,283.36 142.2,285.15 142.6,286.32 143,288.26 143.4,288.78 143.8,288.7 144.2,288.93 144.6,288.13 145,286.55 145.4,284.69 145.8,283.53 146.2,283.93 146.6,284.59 147,285.78 147.4,288.44 147.8,288.88 148.2,289.97 148.6,289.64 149,290.39 149.4,286.99 149.8,283.83 150.2,283.12 150.6,280.38 151,279.78 151.4,282.75 151.8,286.62 152.2,289.33 152.6,292.24 153,295.66 153.4,292.91 153.8,289.07 154.2,285.23 154.6,281.07 155,279.54 155.4,274.93 155.8,275.13 156.2,281.5 156.6,288.41 157,293.46 157.4,294.69 157.8,298.65 158.2,297.48 158.6,290.12 159,283.15 159.4,279.2 159.8,275.08 160.2,276.04 160.6,280.9 161,285.58 161.4,291.41 161.8,293.03 162.2,294.87 162.6,294.23 163,289.97 163.4,286.62 163.8,282.87 164.2,281.81 164.6,280.76 165,281.42 165.4,283.47 165.8,286.82 166.2,289.47 166.6,291.06 167,289.88 167.4,288.32 167.8,287 168.2,284.83 168.6,282.86 169,282.48 169.4,281.8 169.8,283.33 170.2,286.28 170.6,288.51 171,291.56 171.4,290.89 171.8,290.28 172.2,287.34 172.6,284.65 173,281.69 173.4,282.28 173.8,281.27 174.2,282.13 174.6,285.84 175,289 175.4,291.55 175.8,296.38 176.2,294.7 176.6,291.28 177,285.85 177.4,280.83 177.8,276.46 178.2,274.87 178.6,278.02 179,283.39 179.4,288.85 179.8,294.13 180.2,293.24 180.6,293.07 181,291.67 181.4,288.78 181.8,284.97 182.2,281.39 182.6,280.27 183,279.37 183.4,283.19 183.8,285.37 184.2,288.64 184.6,292.17 185,293.86 185.4,293.74 185.8,291.82 186.2,286.97 186.6,282.6 187,277.66 187.4,277.46 187.8,277.96 188.2,283.8 188.6,290.11 189,292.63 189.4,299.53 189.8,295.07 190.2,293.29 190.6,288.51 191,283.26 191.4,279.92 191.8,280.46 192.2,278.33 192.6,280.4 193,285.57 193.4,291.45 193.8,293.73 194.2,293.13" fill="none" stroke="#eeb04a" stroke-width="1.2" stroke-linejoin="round" stroke-linecap="round" />
<polyline points="20.2,285.51 20.55,287.16 20.9,288.94 21.25,289.71 21.6,290.14 21.95,287.79 22.3,285.84 22.65,285.16 23,282.33 23.35,283.02 23.7,285.18 24.05,286.18 24.4,287.7 24.75,289.4 25.1,290.6 25.45,289.16 25.8,287.38 26.15,285.58 26.5,283.05 26.85,282.74 27.2,284.14 27.55,285.39 27.9,286.5 28.25,288 28.6,290.14 28.95,289.02 29.3,289.07 29.65,287.71 30,285.57 30.35,284.56 30.7,283.63 31.05,282.76 31.4,285.15 31.75,286.78 32.1,288.03 32.45,289.54 32.8,290.32 33.15,288.7 33.5,286.41 33.85,284.8 34.2,282.62 34.55,282.16 34.9,284.44 35.25,285.76 35.6,288.52 35.95,288.8 36.3,289.21 36.65,288.08 37,287.26 37.35,285.3 37.7,284.2 38.05,283.75 38.4,283.4 38.75,285.69 39.1,286.75 39.45,287.72 39.8,289.62 40.15,289.57 40.5,288.18 40.85,286.73 41.2,285.03 41.55,284.28 41.9,284.01 42.25,285.33 42.6,286.14 42.95,287.18 43.3,288.46 43.65,287.87 44,287.53 44.35,286.89 44.7,286.25 45.05,285.52 45.4,285.57 45.75,285.07 46.1,285.79 46.45,286.49 46.8,286.95 47.15,288.03 47.5,288.06 47.85,287.25 48.2,286.53 48.55,285.58 48.9,285.34 49.25,284.99 49.6,285.51 49.95,286.07 50.3,286.93 50.65,287.63 51,287.92 51.35,287.63 51.7,287.11 52.05,286.57 52.4,285.78 52.75,285.17 53.1,285.46 53.45,285.51 53.8,285.99 54.15,286.9 54.5,287.51 54.85,287.38 55.2,287.47 55.55,287.19 55.9,286.4 56.25,285.62 56.6,285.69 56.95,285.32 57.3,285.63 57.65,286.46 58,287.09 58.35,287.82 58.7,287.49 59.05,287.24 59.4,286.79 59.75,286.16 60.1,285.45 60.45,285.72 60.8,285.7 61.15,286.02 61.5,286.56 61.85,287.34 62.2,287.44 62.55,287.14 62.9,286.98 63.25,286.77 63.6,286.03 63.95,285.86 64.3,285.85 64.65,285.81 65,286.28 65.35,286.72 65.7,287.32 66.05,287.86 66.4,287.25 66.75,286.99 67.1,286.52 67.45,286.12 67.8,285.69 68.15,285.48 68.5,285.55 68.85,286.14 69.2,286.65 69.55,287.29 69.9,287.45 70.25,287.86 70.6,287.24 70.95,286.63 71.3,285.88 71.65,285.44 72,284.24 72.35,284.52 72.7,285.37 73.05,286.75 73.4,288.27 73.75,289.67 74.1,288.77 74.45,288.19 74.8,286.93 75.15,285.67 75.5,284.85 75.85,284.24 76.2,283.27 76.55,285.7 76.9,287.28 77.25,288.96 77.6,289.52 77.95,288.63 78.3,288.78 78.65,287.02 79,285.12 79.35,283.66 79.7,283.45 80.05,282.58 80.4,284.69 80.75,286.79 81.1,288.1 81.45,289.81 81.8,288.66 82.15,289.22 82.5,287.63 82.85,285.39 83.2,284.69 83.55,283.1 83.9,281.87 84.25,284.5 84.6,286.76 84.95,289.34 85.3,289.52 85.65,290.58 86,288.47 86.35,287.15 86.7,285.4 87.05,283.81 87.4,282.13 87.75,282.58 88.1,285.24 88.45,287.45 88.8,289.52 89.15,290.33 89.5,289.17 89.85,288.5 90.2,286.04 90.55,283.86 90.9,283.6 91.25,281.58 91.6,283.82 91.95,284.89 92.3,288.14 92.65,288.45 93,290.8 93.35,288.62 93.7,288.18 94.05,286.5 94.4,284.3 94.75,284.07 95.1,282.28 95.45,284.88 95.8,285.62 96.15,287.7 96.5,288.16 96.85,288.36 97.2,288.86 97.55,287.23 97.9,285.93 98.25,283.79 98.6,284.77 98.95,283.26 99.3,284.83 99.65,286.58 100,287.79 100.35,287.84 100.7,289.49 101.05,288.11 101.4,287.03 101.75,285.85 102.1,285.33 102.45,283.65 102.8,283.86 103.15,285.4 103.5,286.52 103.85,287.87 104.2,289.19 104.55,289.2 104.9,288.14 105.25,287.66 105.6,286.16 105.95,285.27 106.3,285.18 106.65,284.48 107,285.37 107.35,286.28 107.7,287.95 108.05,288.1 108.4,288.67 108.75,288 109.1,287.44 109.45,286.21 109.8,285.77 110.15,284.3 110.5,284.73 110.85,285.58 111.2,286.42 111.55,287.87 111.9,288.25 112.25,288.51 112.6,288.27 112.95,287.06 113.3,286.29 113.65,284.77 114,284.72 114.35,284.89 114.7,285.91 115.05,286.47 115.4,287.52 115.75,287.85 116.1,288.34 116.45,288 116.8,286.71 117.15,286.04 117.5,284.66 117.85,284.24 118.2,285.62 118.55,285.55 118.9,287.03 119.25,287.72 119.6,287.8 119.95,288.62 120.3,287.52 120.65,286.87 121,286.08 121.35,285.23 121.7,285.46 122.05,285.56 122.4,285.78 122.75,286.73 123.1,287.51 123.45,288.05 123.8,288.58 124.15,287.4 124.5,286.83 124.85,285.89 125.2,285.47 125.55,284.9 125.9,285.05 126.25,285.94 126.6,286.72 126.95,287.63 127.3,287.42 127.65,287.79 128,287.11 128.35,286.59 128.7,285.62 129.05,285.07 129.4,285.13 129.75,285.64 130.1,286.09 130.45,286.91 130.8,287.75 131.15,287.57 131.5,287.47 131.85,287.12 132.2,286.44 132.55,285.65 132.9,284.81 133.25,285.3 133.6,285.34 133.95,286.45 134.3,287.16 134.65,287.49 135,287.39 135.35,287.7 135.7,286.78 136.05,286.05 136.4,285.74 136.75,284.93 137.1,285.71 137.45,285.86 137.8,286.57 138.15,287.16 138.5,287.48 138.85,287.7 139.2,287.88 139.55,286.85 139.9,286.16 140.25,285.58 140.6,285.14 140.95,285.33 141.3,285.79 141.65,286.64 142,287.1 142.35,287.74 142.7,287.79 143.05,287.5 143.4,286.7 143.75,286.01 144.1,285.8 144.45,284.85 144.8,285.37 145.15,286.04 145.5,286.74 145.85,287.66 146.2,287.99 146.55,287.45 146.9,287.28 147.25,286.51 147.6,285.77 147.95,285.52 148.3,285.12 148.65,285.2 149,285.72 149.35,286.49 149.7,287.26 150.05,287.5 150.4,287.35 150.75,287.82 151.1,286.77 151.45,286.14 151.8,285.16 152.15,285.48 152.5,285.47 152.85,286.2 153.2,286.87 153.55,287.74 153.9,287.32 154.25,287.25 154.6,286.93 154.95,286.27 155.3,285.73 155.65,285.05 156,285.45 156.35,285.97 156.7,286.74 157.05,287.15 157.4,288.05 157.75,287.4 158.1,287.49 158.45,286.63 158.8,285.97 159.15,285.03 159.5,285.55 159.85,285.63 160.2,286.16 160.55,286.9 160.9,287.21 161.25,287.47 161.6,287.56 161.95,287.3 162.3,286.35 162.65,285.48 163,285 163.35,285.11 163.7,286.03 164.05,286.53 164.4,287.18 164.75,287.66 165.1,287.51 165.45,287.42 165.8,286.85 166.15,286.42 166.5,285.75 166.85,285.04 167.2,285.54 167.55,285.96 167.9,286.53 168.25,287.31 168.6,287.55 168.95,288.08 169.3,287.42 169.65,286.58 170,286.07 170.35,285.49 170.7,284.81 171.05,285.76 171.4,286.16 171.75,286.85 172.1,287.36 172.45,287.97 172.8,287.36 173.15,287.04 173.5,286.47 173.85,285.88 174.2,285.68 174.55,285.58 174.9,285.27 175.25,286.22 175.6,286.97 175.95,287.43 176.3,287.51 176.65,287.27 177,287.07 177.35,286.24 177.7,285.29 178.05,285.23 178.4,285.61 178.75,285.4 179.1,286.21 179.45,287.17 179.8,287.71 180.15,288.29 180.5,287.55 180.85,286.95 181.2,285.96 181.55,284.86 181.9,284.77 182.25,285.02 182.6,285.68 182.95,286.64 183.3,287.79 183.65,288.76 184,287.79 184.35,287.37 184.7,286.7 185.05,285.3 185.4,284.88 185.75,283.92 186.1,284.79 186.45,286.19 186.8,287.18 187.15,288.86 187.5,288.82 187.85,288.88 188.2,287.68 188.55,285.97 188.9,285.3 189.25,284.96 189.6,284.83 189.95,284.46 190.3,286.3 190.65,287.87 191,288.98 191.35,288.16 191.7,288.64 192.05,287.19 192.4,285.86 192.75,284.58 193.1,283.72 193.45,284.56 193.8,285.08 194.15,286.15 194.5,288.18" fill="none" stroke="#27379a" stroke-width="1.0" stroke-linejoin="round" stroke-linecap="round" />
<path d="M20.5,278.9 C21.1,280.12 22.68,284.17 24.1,286.2 C25.52,288.23 27.57,291.3 29,291.1 C30.43,290.9 31.47,287.25 32.7,285 C33.93,282.75 35.17,277.8 36.4,277.6 C37.63,277.4 38.95,279.72 40.1,283.8 C41.25,287.88 42.28,301.7 43.3,302.1 C44.32,302.5 45.3,291.72 46.2,286.2 C47.1,280.68 47.88,273.58 48.7,269 C49.52,264.42 50.28,259.72 51.1,258.7 C51.92,257.68 52.58,258.72 53.6,262.9 C54.62,267.08 55.78,275.42 57.2,283.8 C58.62,292.18 60.47,305.03 62.1,313.2 C63.73,321.37 65.37,327.9 67,332.8 C68.63,337.7 70.58,340.63 71.9,342.6 C73.22,344.57 73.87,345.42 74.9,344.6 C75.93,343.78 76.95,343.75 78.1,337.7 C79.25,331.65 80.58,318.52 81.8,308.3 C83.02,298.08 84.18,285.4 85.4,276.4 C86.62,267.4 87.95,259.62 89.1,254.3 C90.25,248.98 91.38,246.4 92.3,244.5 C93.22,242.6 93.82,242.73 94.6,242.9 C95.38,243.07 96.25,243.48 97,245.5 C97.75,247.52 98.37,250.58 99.1,255 C99.83,259.42 100.63,266.02 101.4,272 C102.17,277.98 102.93,285.97 103.7,290.9 C104.47,295.83 105.37,299.18 106,301.6 C106.63,304.02 107,305.4 107.5,305.4 C108,305.4 108.37,304.02 109,301.6 C109.63,299.18 110.53,293.83 111.3,290.9 C112.07,287.97 112.83,285.4 113.6,284 C114.37,282.6 115.13,282.12 115.9,282.5 C116.67,282.88 117.43,284.9 118.2,286.3 C118.97,287.7 119.37,290 120.5,290.9 C121.63,291.8 123.48,292.02 125,291.7 C126.52,291.38 128.07,290.12 129.6,289 C131.13,287.88 132.68,287.05 134.2,285 C135.72,282.95 137.32,279.45 138.7,276.7 C140.08,273.95 141.45,269.92 142.5,268.5 C143.55,267.08 144.17,267.45 145,268.2 C145.83,268.95 146.6,269.58 147.5,273 C148.4,276.42 149.3,282.4 150.4,288.7 C151.5,295 152.88,304.87 154.1,310.8 C155.32,316.73 156.68,321.43 157.7,324.3 C158.72,327.17 159.37,328.62 160.2,328 C161.03,327.38 161.88,326.33 162.7,320.6 C163.52,314.87 164.32,304.23 165.1,293.6 C165.88,282.97 166.7,266.2 167.4,256.8 C168.1,247.4 168.62,241.47 169.3,237.2 C169.98,232.93 170.77,231.78 171.5,231.2 C172.23,230.62 172.93,230.57 173.7,233.7 C174.47,236.83 175.28,241.12 176.1,250 C176.92,258.88 177.77,276 178.6,287 C179.43,298 180.32,307.5 181.1,316 C181.88,324.5 182.57,332.92 183.3,338 C184.03,343.08 184.77,345.33 185.5,346.5 C186.23,347.67 187.02,347.08 187.7,345 C188.38,342.92 188.87,339.3 189.6,334 C190.33,328.7 191.28,320.35 192.1,313.2 C192.92,306.05 194.1,294.78 194.5,291.1" fill="none" stroke="#2fa153" stroke-width="1.4" stroke-linejoin="round" stroke-linecap="round" />
<rect x="102.6" y="309.6" width="91.2" height="48.9" fill="none" stroke="#cbcbcb" stroke-width="1.6"/>
<line x1="107" y1="315.6" x2="119.4" y2="315.6" stroke="#27379a" stroke-width="1.3" />
<text x="122.3" y="319" font-size="8.7" fill="#222">TP<tspan font-size="5.4" dy="0.8">1</tspan><tspan dy="-0.8" fill="#555">-</tspan><tspan font-style="italic" letter-spacing="0.35">imf</tspan><tspan font-size="5.4" dy="0.8" font-style="italic">1</tspan></text>
<line x1="107" y1="323" x2="119.4" y2="323" stroke="#eeb04a" stroke-width="1.3" />
<text x="122.3" y="326.4" font-size="8.7" fill="#222">TP<tspan font-size="5.4" dy="0.8">1</tspan><tspan dy="-0.8" fill="#555">-</tspan><tspan font-style="italic" letter-spacing="0.35">imf</tspan><tspan font-size="5.4" dy="0.8" font-style="italic">2</tspan></text>
<line x1="107" y1="330.4" x2="119.4" y2="330.4" stroke="#3fb6e2" stroke-width="1.3" />
<text x="122.3" y="333.8" font-size="8.7" fill="#222">TP<tspan font-size="5.4" dy="0.8">1</tspan><tspan dy="-0.8" fill="#555">-</tspan><tspan font-style="italic" letter-spacing="0.35">imf</tspan><tspan font-size="5.4" dy="0.8" font-style="italic">3</tspan></text>
<line x1="107" y1="337.8" x2="119.4" y2="337.8" stroke="#2fa153" stroke-width="1.3" />
<text x="122.3" y="341.2" font-size="8.7" fill="#222">TP<tspan font-size="5.4" dy="0.8">1</tspan><tspan dy="-0.8" fill="#555">-</tspan><tspan font-style="italic" letter-spacing="0.35">imf</tspan><tspan font-size="5.4" dy="0.8" font-style="italic">4</tspan></text>
<line x1="107" y1="345.2" x2="119.4" y2="345.2" stroke="#8484c2" stroke-width="1.3" />
<text x="122.3" y="348.6" font-size="8.7" fill="#222">TP<tspan font-size="5.4" dy="0.8">1</tspan><tspan dy="-0.8" fill="#555">-</tspan><tspan font-style="italic" letter-spacing="0.2">residue</tspan></text>
<line x1="107" y1="352.6" x2="119.4" y2="352.6" stroke="#c8302c" stroke-width="1.3" />
<text x="122.3" y="356" font-size="8.7" fill="#222">Cumulative rainfall</text>
<rect x="284.4" y="221.5" width="131.2" height="139.3" fill="#eff6fd" />
<rect x="415.6" y="221.5" width="43.6" height="139.3" fill="#fcf1f3" />
<line x1="415.6" y1="221.5" x2="415.6" y2="360.8" stroke="#b8b8b8" stroke-width="0.9" />
<line x1="284.4" y1="221.5" x2="459.2" y2="221.5" stroke="#9a9a9a" stroke-width="1.2" />
<line x1="459.2" y1="221.5" x2="459.2" y2="360.8" stroke="#9a9a9a" stroke-width="1.2" />
<line x1="284.4" y1="360.8" x2="459.2" y2="360.8" stroke="#3a3a3a" stroke-width="1.2" />
<line x1="284.4" y1="220.9" x2="284.4" y2="361.4" stroke="#3a3a3a" stroke-width="1.2" />
<line x1="280.9" y1="360.8" x2="284.4" y2="360.8" stroke="#3a3a3a" stroke-width="1" />
<text x="280.1" y="363.6" font-size="8.0" fill="#222" stroke="#222" stroke-width="0.18" text-anchor="end" >0</text>
<line x1="282.4" y1="347.41" x2="284.4" y2="347.41" stroke="#3a3a3a" stroke-width="1" />
<line x1="280.9" y1="334.02" x2="284.4" y2="334.02" stroke="#3a3a3a" stroke-width="1" />
<text x="280.1" y="336.82" font-size="8.0" fill="#222" stroke="#222" stroke-width="0.18" text-anchor="end" >25</text>
<line x1="282.4" y1="320.63" x2="284.4" y2="320.63" stroke="#3a3a3a" stroke-width="1" />
<line x1="280.9" y1="307.24" x2="284.4" y2="307.24" stroke="#3a3a3a" stroke-width="1" />
<text x="280.1" y="310.04" font-size="8.0" fill="#222" stroke="#222" stroke-width="0.18" text-anchor="end" >50</text>
<line x1="282.4" y1="293.85" x2="284.4" y2="293.85" stroke="#3a3a3a" stroke-width="1" />
<line x1="280.9" y1="280.46" x2="284.4" y2="280.46" stroke="#3a3a3a" stroke-width="1" />
<text x="280.1" y="283.26" font-size="8.0" fill="#222" stroke="#222" stroke-width="0.18" text-anchor="end" >75</text>
<line x1="282.4" y1="267.07" x2="284.4" y2="267.07" stroke="#3a3a3a" stroke-width="1" />
<line x1="280.9" y1="253.68" x2="284.4" y2="253.68" stroke="#3a3a3a" stroke-width="1" />
<text x="280.1" y="256.48" font-size="8.0" fill="#222" stroke="#222" stroke-width="0.18" text-anchor="end" >100</text>
<line x1="282.4" y1="240.29" x2="284.4" y2="240.29" stroke="#3a3a3a" stroke-width="1" />
<line x1="280.9" y1="226.9" x2="284.4" y2="226.9" stroke="#3a3a3a" stroke-width="1" />
<text x="280.1" y="229.7" font-size="8.0" fill="#222" stroke="#222" stroke-width="0.18" text-anchor="end" >125</text>
<line x1="284.4" y1="360.8" x2="284.4" y2="364" stroke="#3a3a3a" stroke-width="1" />
<text x="284.9" y="370.8" font-size="7.6" fill="#222" stroke="#222" stroke-width="0.18" text-anchor="middle" >0</text>
<line x1="300.27" y1="360.8" x2="300.27" y2="362.8" stroke="#3a3a3a" stroke-width="1" />
<line x1="316.15" y1="360.8" x2="316.15" y2="364" stroke="#3a3a3a" stroke-width="1" />
<text x="316.65" y="370.8" font-size="7.6" fill="#222" stroke="#222" stroke-width="0.18" text-anchor="middle" >100</text>
<line x1="332.02" y1="360.8" x2="332.02" y2="362.8" stroke="#3a3a3a" stroke-width="1" />
<line x1="347.9" y1="360.8" x2="347.9" y2="364" stroke="#3a3a3a" stroke-width="1" />
<text x="348.4" y="370.8" font-size="7.6" fill="#222" stroke="#222" stroke-width="0.18" text-anchor="middle" >200</text>
<line x1="363.77" y1="360.8" x2="363.77" y2="362.8" stroke="#3a3a3a" stroke-width="1" />
<line x1="379.65" y1="360.8" x2="379.65" y2="364" stroke="#3a3a3a" stroke-width="1" />
<text x="380.15" y="370.8" font-size="7.6" fill="#222" stroke="#222" stroke-width="0.18" text-anchor="middle" >300</text>
<line x1="395.52" y1="360.8" x2="395.52" y2="362.8" stroke="#3a3a3a" stroke-width="1" />
<line x1="411.4" y1="360.8" x2="411.4" y2="364" stroke="#3a3a3a" stroke-width="1" />
<text x="411.9" y="370.8" font-size="7.6" fill="#222" stroke="#222" stroke-width="0.18" text-anchor="middle" >400</text>
<line x1="427.27" y1="360.8" x2="427.27" y2="362.8" stroke="#3a3a3a" stroke-width="1" />
<line x1="443.15" y1="360.8" x2="443.15" y2="364" stroke="#3a3a3a" stroke-width="1" />
<text x="443.65" y="370.8" font-size="7.6" fill="#222" stroke="#222" stroke-width="0.18" text-anchor="middle" >500</text>
<line x1="459.02" y1="360.8" x2="459.02" y2="362.8" stroke="#3a3a3a" stroke-width="1" />
<text x="372.4" y="382.6" font-size="10.4" fill="#222" stroke="#222" stroke-width="0.18" text-anchor="middle" >Time (d)</text>
<text x="264.6" y="291.5" font-size="10.4" fill="#222" stroke="#222" stroke-width="0.18" text-anchor="middle" transform="rotate(-90 264.6 291.5)" >Displacement (mm)</text>
<text x="287.2" y="236.5" font-size="16.5" fill="#111" stroke="#111" stroke-width="0.18" >(d)</text>
<line x1="293.4" y1="255.3" x2="406.6" y2="255.3" stroke="#2b3488" stroke-width="1.6" />
<polygon points="285.2,255.3 295.4,251.2 295.4,259.4" fill="#2b3488"/>
<polygon points="414.8,255.3 404.6,251.2 404.6,259.4" fill="#2b3488"/>
<line x1="285" y1="248" x2="285" y2="262.5" stroke="#2b3488" stroke-width="1.6" />
<line x1="415.6" y1="248" x2="415.6" y2="263" stroke="#2b3488" stroke-width="1.6" />
<text x="346.3" y="253.6" font-size="8.5" fill="#3d4c9a" stroke="#3d4c9a" stroke-width="0.18" text-anchor="middle" >75% training set</text>
<line x1="424.6" y1="277.7" x2="450.2" y2="277.7" stroke="#d9283a" stroke-width="1.6" />
<polygon points="416.4,277.7 426.6,273.6 426.6,281.8" fill="#d9283a"/>
<polygon points="458.4,277.7 448.2,273.6 448.2,281.8" fill="#d9283a"/>
<line x1="416.2" y1="270.3" x2="416.2" y2="284.2" stroke="#d9283a" stroke-width="1.6" />
<line x1="458.6" y1="270.3" x2="458.6" y2="284.2" stroke="#d9283a" stroke-width="1.6" />
<text x="437.9" y="286.4" font-size="8.6" fill="#c8404a" stroke="#c8404a" stroke-width="0.18" text-anchor="middle" >25%</text>
<text x="437.9" y="296.6" font-size="8.6" fill="#c8404a" stroke="#c8404a" stroke-width="0.18" text-anchor="middle" >prediction</text>
<text x="437.9" y="305.9" font-size="8.6" fill="#c8404a" stroke="#c8404a" stroke-width="0.18" text-anchor="middle" >set</text>
<polyline points="284.6,355.76 285.6,356.7 286.6,355.91 287.6,356.59 288.6,356.51 289.6,354.33 290.6,353.98 291.6,356.63 292.6,354.19 293.6,353.74 294.6,356.12 295.6,353.87 296.6,354.83 297.6,353.17 298.6,353.4 299.6,351.23 300.6,352.56 301.6,352.99 302.6,351.34 303.6,351.72 304.6,351.06 305.6,344.39 306.6,355.34 307.6,347.5 308.6,345.12 309.6,342.88 310.6,348.59 311.6,342.87 312.6,346.95 313.6,347.8 314.6,346.4 315.6,347.79 316.6,343.89 317.6,340.75 318.6,344.04 319.6,347.48 320.6,346.96 321.6,341.23 322.6,341.34 323.6,341.74 324.6,341.78 325.6,342.93 326.6,344.11 327.6,341.57 328.6,342.86 329.6,341.8 330.6,341.08 331.6,342.28 332.6,341.78 333.6,343.59 334.6,343.34 335.6,345.9 336.6,342.73 337.6,342.06 338.6,339.03 339.6,335.02 340.6,337.28 341.6,335.44 342.6,332.75 343.6,328.65 344.6,327.31 345.6,329.11 346.6,323.75 347.6,320.73 348.6,317.73 349.6,315.08 350.6,317.75 351.6,317.16 352.6,311.18 353.6,313.59 354.6,310.27 355.6,307.63 356.6,307.08 357.6,308.43 358.6,308.05 359.6,302.81 360.6,304.85 361.6,300.97 362.6,303.54 363.6,300.6 364.6,302.54 365.6,302.18 366.6,298.9 367.6,300.66 368.6,296.27 369.6,294.26 370.6,296.17 371.6,292.41 372.6,292.47 373.6,292.75 374.6,293 375.6,289.83 376.6,305.9 377.6,292.15 378.6,288.6 379.6,291.29 380.6,290.3 381.6,286.93 382.6,286.69 383.6,286.34 384.6,286.43 385.6,285.75 386.6,285.13 387.6,285.01 388.6,293.96 389.6,283.56 390.6,282.74 391.6,283.81 392.6,280.87 393.6,280.77 394.6,283.85 395.6,281.05 396.6,286.51 397.6,277.53 398.6,279.2 399.6,279.63 400.6,283.78 401.6,278.95 402.6,278.6 403.6,275.12 404.6,277.49 405.6,276.07 406.6,276.6 407.6,274.32 408.6,275.58 409.6,275.17 410.6,270.86 411.6,270.36 412.6,272.67 413.6,273.27 414.6,268.68 415.6,267.5 418,264 420.3,260 422,256 424,249.8 425.9,257.2 427.5,247 429.6,240.5 431,238 432.4,233 434.2,238.6 436.1,231.2 438,240.5 439.5,234 440.8,229.3 442.3,228 443.6,225.6 444.6,223.2 445.4,221.9 447.3,234.9 449.1,233 450.5,232 451.9,231.2 453.5,231.5 455.7,230.2 457.5,228 459,225.6" fill="none" stroke="#35b3e3" stroke-width="1.25" stroke-linejoin="round" stroke-linecap="round" />
<polyline points="285,360 292,357.5 298.6,354.9 306,351.2 314.2,347.9 322,347.4 329.7,347.1 337.5,344.8 342.2,338.5 346.9,327.6 353.1,316.7 359.3,308.2 367.1,301.2 376,294 385,288.5 395,284 405,279.5 411,275.5 415.6,269.5 422.1,259.1 427.7,247.9 433.3,240.5 440.8,235.8 448.2,233 453.8,231.2 459,225.6" fill="none" stroke="#eeab3c" stroke-width="1.2" stroke-linejoin="round" stroke-linecap="round" />
<path d="M415.6,268.6 C416.68,267.33 420.08,263.52 422.1,261 C424.12,258.48 425.83,255.68 427.7,253.5 C429.57,251.32 431.12,249.77 433.3,247.9 C435.48,246.03 438.32,243.85 440.8,242.3 C443.28,240.75 446.17,239.48 448.2,238.6 C450.23,237.72 451.2,237.47 453,237 C454.8,236.53 458,236 459,235.8" fill="none" stroke="#cc2b3b" stroke-width="1.3" stroke-linejoin="round" stroke-linecap="round" />
<path d="M284.6,356.4 C285.63,356.23 288.47,356.03 290.8,355.4 C293.13,354.77 296,353.6 298.6,352.6 C301.2,351.6 303.8,350.32 306.4,349.4 C309,348.48 311.62,347.62 314.2,347.1 C316.78,346.58 319.32,346.68 321.9,346.3 C324.48,345.92 327.35,345.57 329.7,344.8 C332.05,344.03 334.18,343.27 336,341.7 C337.82,340.13 339.35,337.6 340.6,335.4 C341.85,333.2 342.45,330.83 343.5,328.5 C344.55,326.17 345.77,323.43 346.9,321.4 C348.03,319.37 348.6,318.62 350.3,316.3 C352,313.98 354.62,310.22 357.1,307.5 C359.58,304.78 362.05,302.7 365.2,300 C368.35,297.3 372.85,293.65 376,291.3 C379.15,288.95 381.17,287.48 384.1,285.9 C387.03,284.32 390.43,283.17 393.6,281.8 C396.77,280.43 400.17,279.17 403.1,277.7 C406.03,276.23 409.08,274.47 411.2,273 C413.32,271.53 415.03,269.58 415.8,268.9" fill="none" stroke="#1f2f8c" stroke-width="1.3" stroke-linejoin="round" stroke-linecap="round" />
<rect x="352.2" y="317.4" width="104.9" height="42.2" fill="none" stroke="#d3d3d3" stroke-width="1.3"/>
<polyline points="354.6,324.9 355.09,324.13 355.58,323.41 356.08,322.78 356.57,322.27 357.06,321.91 357.55,321.72 358.05,321.72 358.54,321.91 359.03,322.27 359.52,322.78 360.02,323.41 360.51,324.13 361,324.9 361.49,325.67 361.98,326.39 362.48,327.02 362.97,327.53 363.46,327.89 363.95,328.08 364.45,328.08 364.94,327.89 365.43,327.53 365.92,327.02 366.42,326.39 366.91,325.67 367.4,324.9" fill="none" stroke="#35b3e3" stroke-width="1.8" stroke-linejoin="round" stroke-linecap="round" />
<polyline points="354.6,338.9 355.09,338.13 355.58,337.41 356.08,336.78 356.57,336.27 357.06,335.91 357.55,335.72 358.05,335.72 358.54,335.91 359.03,336.27 359.52,336.78 360.02,337.41 360.51,338.13 361,338.9 361.49,339.67 361.98,340.39 362.48,341.02 362.97,341.53 363.46,341.89 363.95,342.08 364.45,342.08 364.94,341.89 365.43,341.53 365.92,341.02 366.42,340.39 366.91,339.67 367.4,338.9" fill="none" stroke="#eeab3c" stroke-width="1.8" stroke-linejoin="round" stroke-linecap="round" />
<polyline points="354.6,353.4 355.09,352.63 355.58,351.91 356.08,351.28 356.57,350.77 357.06,350.41 357.55,350.22 358.05,350.22 358.54,350.41 359.03,350.77 359.52,351.28 360.02,351.91 360.51,352.63 361,353.4 361.49,354.17 361.98,354.89 362.48,355.52 362.97,356.03 363.46,356.39 363.95,356.58 364.45,356.58 364.94,356.39 365.43,356.03 365.92,355.52 366.42,354.89 366.91,354.17 367.4,353.4" fill="none" stroke="#cc2b3b" stroke-width="1.8" stroke-linejoin="round" stroke-linecap="round" />
<text x="371.6" y="327.7" font-size="7.7" fill="#222" stroke="#222" stroke-width="0.18" >GNSS displacement</text>
<text x="371.6" y="341.8" font-size="7.7" fill="#222" stroke="#222" stroke-width="0.18" >Fitting displacement</text>
<text x="371.6" y="356.2" font-size="7.7" fill="#222" stroke="#222" stroke-width="0.18" >Prediction displacement</text>
<line x1="499.8" y1="221.9" x2="674.6" y2="221.9" stroke="#9a9a9a" stroke-width="1.2" />
<line x1="674.6" y1="221.9" x2="674.6" y2="361.2" stroke="#9a9a9a" stroke-width="1.2" />
<line x1="499.8" y1="361.2" x2="674.6" y2="361.2" stroke="#7a7a7a" stroke-width="1.3" />
<line x1="499.8" y1="221.3" x2="499.8" y2="361.8" stroke="#7a7a7a" stroke-width="1.3" />
<line x1="496.8" y1="361.2" x2="499.8" y2="361.2" stroke="#3a3a3a" stroke-width="1" />
<text x="495.5" y="363.8" font-size="7.3" fill="#222" stroke="#222" stroke-width="0.18" text-anchor="end" >0</text>
<line x1="498" y1="349.59" x2="499.8" y2="349.59" stroke="#3a3a3a" stroke-width="1" />
<line x1="496.8" y1="337.98" x2="499.8" y2="337.98" stroke="#3a3a3a" stroke-width="1" />
<text x="495.5" y="340.58" font-size="7.3" fill="#222" stroke="#222" stroke-width="0.18" text-anchor="end" >0.25</text>
<line x1="498" y1="326.37" x2="499.8" y2="326.37" stroke="#3a3a3a" stroke-width="1" />
<line x1="496.8" y1="314.76" x2="499.8" y2="314.76" stroke="#3a3a3a" stroke-width="1" />
<text x="495.5" y="317.37" font-size="7.3" fill="#222" stroke="#222" stroke-width="0.18" text-anchor="end" >0.50</text>
<line x1="498" y1="303.16" x2="499.8" y2="303.16" stroke="#3a3a3a" stroke-width="1" />
<line x1="496.8" y1="291.55" x2="499.8" y2="291.55" stroke="#3a3a3a" stroke-width="1" />
<text x="495.5" y="294.15" font-size="7.3" fill="#222" stroke="#222" stroke-width="0.18" text-anchor="end" >0.75</text>
<line x1="498" y1="279.94" x2="499.8" y2="279.94" stroke="#3a3a3a" stroke-width="1" />
<line x1="496.8" y1="268.33" x2="499.8" y2="268.33" stroke="#3a3a3a" stroke-width="1" />
<text x="495.5" y="270.93" font-size="7.3" fill="#222" stroke="#222" stroke-width="0.18" text-anchor="end" >1.00</text>
<line x1="498" y1="256.72" x2="499.8" y2="256.72" stroke="#3a3a3a" stroke-width="1" />
<line x1="496.8" y1="245.11" x2="499.8" y2="245.11" stroke="#3a3a3a" stroke-width="1" />
<text x="495.5" y="247.71" font-size="7.3" fill="#222" stroke="#222" stroke-width="0.18" text-anchor="end" >1.25</text>
<line x1="498" y1="233.5" x2="499.8" y2="233.5" stroke="#3a3a3a" stroke-width="1" />
<line x1="496.8" y1="221.89" x2="499.8" y2="221.89" stroke="#3a3a3a" stroke-width="1" />
<text x="495.5" y="224.49" font-size="7.3" fill="#222" stroke="#222" stroke-width="0.18" text-anchor="end" >1.50</text>
<line x1="500" y1="361.2" x2="500" y2="358.2" stroke="#3a3a3a" stroke-width="1" />
<text x="501.4" y="370.9" font-size="8.0" fill="#222" stroke="#222" stroke-width="0.18" text-anchor="middle" >548</text>
<line x1="517.46" y1="361.2" x2="517.46" y2="359.4" stroke="#3a3a3a" stroke-width="1" />
<line x1="534.92" y1="361.2" x2="534.92" y2="358.2" stroke="#3a3a3a" stroke-width="1" />
<text x="536.32" y="370.9" font-size="8.0" fill="#222" stroke="#222" stroke-width="0.18" text-anchor="middle" >550</text>
<line x1="552.38" y1="361.2" x2="552.38" y2="359.4" stroke="#3a3a3a" stroke-width="1" />
<line x1="569.84" y1="361.2" x2="569.84" y2="358.2" stroke="#3a3a3a" stroke-width="1" />
<text x="571.24" y="370.9" font-size="8.0" fill="#222" stroke="#222" stroke-width="0.18" text-anchor="middle" >552</text>
<line x1="587.3" y1="361.2" x2="587.3" y2="359.4" stroke="#3a3a3a" stroke-width="1" />
<line x1="604.76" y1="361.2" x2="604.76" y2="358.2" stroke="#3a3a3a" stroke-width="1" />
<text x="606.16" y="370.9" font-size="8.0" fill="#222" stroke="#222" stroke-width="0.18" text-anchor="middle" >554</text>
<line x1="622.22" y1="361.2" x2="622.22" y2="359.4" stroke="#3a3a3a" stroke-width="1" />
<line x1="639.68" y1="361.2" x2="639.68" y2="358.2" stroke="#3a3a3a" stroke-width="1" />
<text x="641.08" y="370.9" font-size="8.0" fill="#222" stroke="#222" stroke-width="0.18" text-anchor="middle" >556</text>
<line x1="657.14" y1="361.2" x2="657.14" y2="359.4" stroke="#3a3a3a" stroke-width="1" />
<line x1="674.6" y1="361.2" x2="674.6" y2="358.2" stroke="#3a3a3a" stroke-width="1" />
<text x="676" y="370.9" font-size="8.0" fill="#222" stroke="#222" stroke-width="0.18" text-anchor="middle" >558</text>
<text x="587.5" y="382.8" font-size="10.5" fill="#222" stroke="#222" stroke-width="0.18" text-anchor="middle" >Time (d)</text>
<text x="475" y="291.6" font-size="10.4" fill="#222" stroke="#222" stroke-width="0.18" text-anchor="middle" transform="rotate(-90 475 291.6)" >Inverse velocity (d/mm)</text>
<text x="504.9" y="236.2" font-size="16.5" fill="#111" stroke="#111" stroke-width="0.18" >(e)</text>
<line x1="505" y1="261.6" x2="660" y2="261.9" stroke="#cc3338" stroke-width="1.3" stroke-dasharray="23.5 10.2"/>
<circle cx="517.46" cy="261.1" r="2.3" fill="#d02a32" stroke="#9a1a20" stroke-width="0.4"/>
<circle cx="534.92" cy="260.7" r="2.3" fill="#d02a32" stroke="#9a1a20" stroke-width="0.4"/>
<circle cx="552.38" cy="261.6" r="2.3" fill="#d02a32" stroke="#9a1a20" stroke-width="0.4"/>
<circle cx="569.84" cy="261" r="2.3" fill="#d02a32" stroke="#9a1a20" stroke-width="0.4"/>
<circle cx="587.3" cy="261.2" r="2.3" fill="#d02a32" stroke="#9a1a20" stroke-width="0.4"/>
<circle cx="604.76" cy="262.6" r="2.3" fill="#d02a32" stroke="#9a1a20" stroke-width="0.4"/>
<circle cx="622.22" cy="261.4" r="2.3" fill="#d02a32" stroke="#9a1a20" stroke-width="0.4"/>
<circle cx="639.68" cy="262.2" r="2.3" fill="#d02a32" stroke="#9a1a20" stroke-width="0.4"/>
<text x="592.8" y="277.6" font-size="11" fill="#c8404a" font-style="italic">R<tspan font-size="6" dy="-4.5">2</tspan><tspan dy="4.5"> = 0.49</tspan></text>
<rect x="584.3" y="326.9" width="87.3" height="31.8" fill="#fff" stroke="#d3d3d3" stroke-width="1.2"/>
<circle cx="596.4" cy="338" r="2.9" fill="#d02a32" stroke="#9a1a20" stroke-width="0.4"/>
<line x1="587.5" y1="353.2" x2="604" y2="353.2" stroke="#cc3338" stroke-width="1.1" stroke-dasharray="6 3"/>
<text x="609.2" y="335.6" font-size="7.6" fill="#222" stroke="#222" stroke-width="0.18" >MIV of prediction</text>
<text x="609.2" y="344.4" font-size="7.6" fill="#222" stroke="#222" stroke-width="0.18" >displacement</text>
<text x="609.2" y="355.8" font-size="7.6" fill="#222" stroke="#222" stroke-width="0.18" >MIV linear fitting</text>
<path d="M34.4,387.7V392.9M36.1,387.7V391.3M38.8,387.7V390.7M43.6,387.7V400.5M49.7,387.7V391.8M51.9,387.7V394M53.5,387.7V390.5M59.6,387.7V390.5M65,387.7V391.5M70.5,387.7V395M79.9,387.7V394M82.5,387.7V390.5M86.5,387.7V390M90.2,387.7V391M95.7,387.7V390M102.3,387.7V392M105.5,387.7V390.5M111,387.7V391M115.4,387.7V392M120.9,387.7V391.5M137.3,387.7V397.2M145.6,387.7V435.6M153.7,387.7V395M155,387.7V397M156.5,387.7V398M158,387.7V396M159.2,387.7V398.3M160.3,387.7V401M161.4,387.7V418M163,387.7V390.5M178.3,387.7V389.6M188.1,387.7V404.9M189.2,387.7V403M190.3,387.7V404.9M193.6,387.7V391M207.4,387.7V401.6M214.5,387.7V390M226.5,387.7V404.9M244,387.7V395M257.8,387.7V404.9M259.3,387.7V401.6M273.5,387.7V395M275,387.7V393M276.8,387.7V395M295.4,387.7V392.9M316.2,387.7V391.5M322,387.7V401.6M323.9,387.7V401.6M325.5,387.7V400M332,387.7V397.2M348.5,387.7V392M351,387.7V394M357.2,387.7V397.2M360.5,387.7V394M366,387.7V391.5M377.4,387.7V411.5M383.5,387.7V396M408.7,387.7V395M414,387.7V392M421.5,387.7V492.1M427.3,387.7V395M440,387.7V391.5M444.8,387.7V393.5M465.4,387.7V394.5M473,387.7V391.4M495.3,387.7V390.5M505,387.7V391.5M509.8,387.7V393.7M520.6,387.7V400M521.6,387.7V401M522.6,387.7V431M523.6,387.7V431M524.6,387.7V400M544.3,387.7V392M548,387.7V394.5M549,387.7V396M550,387.7V397.6M551.2,387.7V396M557.3,387.7V394.5M33,387.7V390.4M36.41,387.7V390.29M40.8,387.7V389.3M43.75,387.7V389.6M49.12,387.7V390.9M53.79,387.7V390.13M58.08,387.7V390.59M60.78,387.7V388.51M64.15,387.7V390.89M70.19,387.7V388.43M73.15,387.7V390.79M78.48,387.7V389.75M81.89,387.7V389.24M92.92,387.7V389.16M98.12,387.7V390.26M100.19,387.7V389.01M104.86,387.7V390.87M108.16,387.7V389.77M110.97,387.7V390.2M116.55,387.7V388.95M118.18,387.7V388.85M121.33,387.7V390.39M132.9,387.7V388.52M135.6,387.7V389.68M137.48,387.7V389.07M140.38,387.7V389.32M145.18,387.7V390.82M148.14,387.7V389.13M149.85,387.7V388.37M163.04,387.7V390.9M166,387.7V389.22M168.6,387.7V389.66M175.46,387.7V389.61M177.94,387.7V388.33M182.94,387.7V390.26M184.7,387.7V389.65M187.54,387.7V389.53M194.32,387.7V390.66M197.46,387.7V389.7M200.43,387.7V389.99M205.84,387.7V389.7M207.56,387.7V389M209.62,387.7V390.43M213.07,387.7V388.32M216.02,387.7V390.27M219.15,387.7V390.2M221.07,387.7V389.17M223.56,387.7V389.59M225.48,387.7V388.95M228.28,387.7V388.82M230.38,387.7V390.86M233.41,387.7V389.06M235.67,387.7V389.31M241.43,387.7V389.12M247.9,387.7V389.9M252.58,387.7V389.14M258.61,387.7V388.93M260.46,387.7V388.32M262.03,387.7V389.42M265.28,387.7V388.74M268.63,387.7V389.18M271.61,387.7V390.81M274.55,387.7V390.54M277.88,387.7V388.67M287.48,387.7V390.56M290.63,387.7V389M292.1,387.7V390.66M293.85,387.7V388.39M296.4,387.7V390.05M298.78,387.7V388.97M305.89,387.7V389.24M313.06,387.7V388.81M319.31,387.7V389.45M322.03,387.7V390.58M325.02,387.7V389.34M330.21,387.7V390.77M335.94,387.7V389.36M339.39,387.7V390.79M341.1,387.7V389.53M342.84,387.7V388.39M344.41,387.7V388.53M348.23,387.7V389.28M353.12,387.7V389.69M358.45,387.7V389.9M364.72,387.7V389.27M367.07,387.7V390.27M372.32,387.7V388.69M377.87,387.7V389.32M381.03,387.7V390.4M385.86,387.7V389.54M389.8,387.7V388.34M391.3,387.7V389.5M394.53,387.7V389.14M400.05,387.7V389.98M409.12,387.7V388.4M413.32,387.7V389.07M415.54,387.7V390.42M417.68,387.7V389.64M421.77,387.7V389.6M423.96,387.7V390.21M429.91,387.7V390.36M431.68,387.7V388.83M434.14,387.7V389.43M438.97,387.7V388.31M440.38,387.7V390.15M443.51,387.7V388.42M450.87,387.7V389.84M464.94,387.7V388.66M470.67,387.7V388.32M474.99,387.7V388.83M481.26,387.7V389.54M488.83,387.7V388.57M491.23,387.7V388.97M494.12,387.7V389.47M496.54,387.7V390.39M498.43,387.7V389.64M500.2,387.7V388.6M501.58,387.7V389.15M503.35,387.7V390.5M511.34,387.7V389.17M516.99,387.7V388.53M519.66,387.7V389.81M521.8,387.7V390.44M523.51,387.7V390.23M530.17,387.7V388.91M538.06,387.7V389.77M542.28,387.7V389.94M548.08,387.7V390.81M551.43,387.7V389.24M552.98,387.7V390.81M556.07,387.7V389.58M558.69,387.7V388.65" stroke="#27a0e2" stroke-width="1.25" fill="none"/>
<line x1="32.1" y1="387.7" x2="561.6" y2="387.7" stroke="#505050" stroke-width="1.4" />
<line x1="32.1" y1="562.2" x2="561.6" y2="562.2" stroke="#3a3a3a" stroke-width="1.4" />
<line x1="32.1" y1="387" x2="32.1" y2="562.9" stroke="#3a3a3a" stroke-width="1.3" />
<line x1="561.6" y1="387" x2="561.6" y2="562.9" stroke="#3a3a3a" stroke-width="1.3" />
<line x1="29.5" y1="562.1" x2="32.1" y2="562.1" stroke="#cf6060" stroke-width="1" />
<line x1="27.1" y1="549.6" x2="32.1" y2="549.6" stroke="#cf6060" stroke-width="1" />
<text x="25.9" y="552.9" font-size="9.5" fill="#c85858" stroke="#c85858" stroke-width="0.18" text-anchor="end" >145</text>
<line x1="29.5" y1="537.1" x2="32.1" y2="537.1" stroke="#cf6060" stroke-width="1" />
<line x1="27.1" y1="524.6" x2="32.1" y2="524.6" stroke="#cf6060" stroke-width="1" />
<text x="25.9" y="527.9" font-size="9.5" fill="#c85858" stroke="#c85858" stroke-width="0.18" text-anchor="end" >150</text>
<line x1="29.5" y1="512.1" x2="32.1" y2="512.1" stroke="#cf6060" stroke-width="1" />
<line x1="27.1" y1="499.6" x2="32.1" y2="499.6" stroke="#cf6060" stroke-width="1" />
<text x="25.9" y="502.9" font-size="9.5" fill="#c85858" stroke="#c85858" stroke-width="0.18" text-anchor="end" >155</text>
<line x1="29.5" y1="487.1" x2="32.1" y2="487.1" stroke="#cf6060" stroke-width="1" />
<line x1="27.1" y1="474.6" x2="32.1" y2="474.6" stroke="#cf6060" stroke-width="1" />
<text x="25.9" y="477.9" font-size="9.5" fill="#c85858" stroke="#c85858" stroke-width="0.18" text-anchor="end" >160</text>
<line x1="29.5" y1="462.1" x2="32.1" y2="462.1" stroke="#cf6060" stroke-width="1" />
<line x1="27.1" y1="449.6" x2="32.1" y2="449.6" stroke="#cf6060" stroke-width="1" />
<text x="25.9" y="452.9" font-size="9.5" fill="#c85858" stroke="#c85858" stroke-width="0.18" text-anchor="end" >165</text>
<line x1="29.5" y1="437.1" x2="32.1" y2="437.1" stroke="#cf6060" stroke-width="1" />
<line x1="27.1" y1="424.6" x2="32.1" y2="424.6" stroke="#cf6060" stroke-width="1" />
<text x="25.9" y="427.9" font-size="9.5" fill="#c85858" stroke="#c85858" stroke-width="0.18" text-anchor="end" >170</text>
<line x1="29.5" y1="412.1" x2="32.1" y2="412.1" stroke="#cf6060" stroke-width="1" />
<line x1="27.1" y1="399.6" x2="32.1" y2="399.6" stroke="#cf6060" stroke-width="1" />
<text x="25.9" y="402.9" font-size="9.5" fill="#c85858" stroke="#c85858" stroke-width="0.18" text-anchor="end" >175</text>
<text x="7" y="476" font-size="9.9" fill="#cc5a5a" stroke="#cc5a5a" stroke-width="0.18" text-anchor="middle" transform="rotate(-90 7 476)" >TGR level (m)</text>
<line x1="32.1" y1="562.2" x2="32.1" y2="558.2" stroke="#3a3a3a" stroke-width="1" />
<text x="32.7" y="575.9" font-size="10" fill="#222" stroke="#222" stroke-width="0.18" text-anchor="middle" >0</text>
<line x1="79.7" y1="562.2" x2="79.7" y2="559.8" stroke="#3a3a3a" stroke-width="1" />
<line x1="127.3" y1="562.2" x2="127.3" y2="558.2" stroke="#3a3a3a" stroke-width="1" />
<text x="127.9" y="575.9" font-size="10" fill="#222" stroke="#222" stroke-width="0.18" text-anchor="middle" >100</text>
<line x1="174.9" y1="562.2" x2="174.9" y2="559.8" stroke="#3a3a3a" stroke-width="1" />
<line x1="222.5" y1="562.2" x2="222.5" y2="558.2" stroke="#3a3a3a" stroke-width="1" />
<text x="223.1" y="575.9" font-size="10" fill="#222" stroke="#222" stroke-width="0.18" text-anchor="middle" >200</text>
<line x1="270.1" y1="562.2" x2="270.1" y2="559.8" stroke="#3a3a3a" stroke-width="1" />
<line x1="317.7" y1="562.2" x2="317.7" y2="558.2" stroke="#3a3a3a" stroke-width="1" />
<text x="318.3" y="575.9" font-size="10" fill="#222" stroke="#222" stroke-width="0.18" text-anchor="middle" >300</text>
<line x1="365.3" y1="562.2" x2="365.3" y2="559.8" stroke="#3a3a3a" stroke-width="1" />
<line x1="412.9" y1="562.2" x2="412.9" y2="558.2" stroke="#3a3a3a" stroke-width="1" />
<text x="413.5" y="575.9" font-size="10" fill="#222" stroke="#222" stroke-width="0.18" text-anchor="middle" >400</text>
<line x1="460.5" y1="562.2" x2="460.5" y2="559.8" stroke="#3a3a3a" stroke-width="1" />
<line x1="508.1" y1="562.2" x2="508.1" y2="558.2" stroke="#3a3a3a" stroke-width="1" />
<text x="508.7" y="575.9" font-size="10" fill="#222" stroke="#222" stroke-width="0.18" text-anchor="middle" >500</text>
<line x1="555.7" y1="562.2" x2="555.7" y2="559.8" stroke="#3a3a3a" stroke-width="1" />
<line x1="561.6" y1="562.2" x2="565.6" y2="562.2" stroke="#239a5c" stroke-width="1" />
<text x="570.4" y="565.8" font-size="10.2" fill="#2e9a5e" stroke="#2e9a5e" stroke-width="0.18" >0</text>
<line x1="561.6" y1="551.3" x2="563.8" y2="551.3" stroke="#239a5c" stroke-width="1" />
<line x1="561.6" y1="540.39" x2="565.6" y2="540.39" stroke="#239a5c" stroke-width="1" />
<text x="570.4" y="543.99" font-size="10.2" fill="#2e9a5e" stroke="#2e9a5e" stroke-width="0.18" >100</text>
<line x1="561.6" y1="529.49" x2="563.8" y2="529.49" stroke="#239a5c" stroke-width="1" />
<line x1="561.6" y1="518.58" x2="565.6" y2="518.58" stroke="#239a5c" stroke-width="1" />
<text x="570.4" y="522.18" font-size="10.2" fill="#2e9a5e" stroke="#2e9a5e" stroke-width="0.18" >200</text>
<line x1="561.6" y1="507.68" x2="563.8" y2="507.68" stroke="#239a5c" stroke-width="1" />
<line x1="561.6" y1="496.77" x2="565.6" y2="496.77" stroke="#239a5c" stroke-width="1" />
<text x="570.4" y="500.37" font-size="10.2" fill="#2e9a5e" stroke="#2e9a5e" stroke-width="0.18" >300</text>
<line x1="561.6" y1="485.87" x2="563.8" y2="485.87" stroke="#239a5c" stroke-width="1" />
<line x1="561.6" y1="474.96" x2="565.6" y2="474.96" stroke="#239a5c" stroke-width="1" />
<text x="570.4" y="478.56" font-size="10.2" fill="#2e9a5e" stroke="#2e9a5e" stroke-width="0.18" >400</text>
<line x1="561.6" y1="464.06" x2="563.8" y2="464.06" stroke="#239a5c" stroke-width="1" />
<line x1="561.6" y1="453.15" x2="565.6" y2="453.15" stroke="#239a5c" stroke-width="1" />
<text x="570.4" y="456.75" font-size="10.2" fill="#2e9a5e" stroke="#2e9a5e" stroke-width="0.18" >500</text>
<line x1="561.6" y1="442.25" x2="563.8" y2="442.25" stroke="#239a5c" stroke-width="1" />
<line x1="561.6" y1="431.34" x2="565.6" y2="431.34" stroke="#239a5c" stroke-width="1" />
<text x="570.4" y="434.94" font-size="10.2" fill="#2e9a5e" stroke="#2e9a5e" stroke-width="0.18" >600</text>
<line x1="561.6" y1="420.44" x2="563.8" y2="420.44" stroke="#239a5c" stroke-width="1" />
<line x1="561.6" y1="409.53" x2="565.6" y2="409.53" stroke="#239a5c" stroke-width="1" />
<text x="570.4" y="413.13" font-size="10.2" fill="#2e9a5e" stroke="#2e9a5e" stroke-width="0.18" >700</text>
<line x1="561.6" y1="398.63" x2="563.8" y2="398.63" stroke="#239a5c" stroke-width="1" />
<line x1="561.6" y1="387.72" x2="565.6" y2="387.72" stroke="#239a5c" stroke-width="1" />
<text x="570.4" y="391.32" font-size="10.2" fill="#2e9a5e" stroke="#2e9a5e" stroke-width="0.18" >800</text>
<text x="600.6" y="474.6" font-size="13.8" fill="#2e9a5e" stroke="#2e9a5e" stroke-width="0.18" text-anchor="middle" transform="rotate(-90 600.6 474.6)"  textLength="150" lengthAdjust="spacing">Cumulative rainfall (mm)</text>
<rect x="631.6" y="387.7" width="20.8" height="174.5" fill="none" stroke="#222" stroke-width="1.3"/>
<line x1="631.6" y1="387.7" x2="652.4" y2="387.7" stroke="#222" stroke-width="2.2" />
<line x1="631.6" y1="562.2" x2="652.4" y2="562.2" stroke="#222" stroke-width="2.2" />
<line x1="631.6" y1="387.7" x2="636.1" y2="387.7" stroke="#3aa6dc" stroke-width="1.1" />
<text x="629.4" y="391.3" font-size="10.2" fill="#3aa6dc" stroke="#3aa6dc" stroke-width="0.18" text-anchor="end" >0</text>
<line x1="631.6" y1="396.42" x2="634" y2="396.42" stroke="#3aa6dc" stroke-width="1.1" />
<line x1="631.6" y1="405.13" x2="636.1" y2="405.13" stroke="#3aa6dc" stroke-width="1.1" />
<text x="629.4" y="408.74" font-size="10.2" fill="#3aa6dc" stroke="#3aa6dc" stroke-width="0.18" text-anchor="end" >10</text>
<line x1="631.6" y1="413.85" x2="634" y2="413.85" stroke="#3aa6dc" stroke-width="1.1" />
<line x1="631.6" y1="422.57" x2="636.1" y2="422.57" stroke="#3aa6dc" stroke-width="1.1" />
<text x="629.4" y="426.17" font-size="10.2" fill="#3aa6dc" stroke="#3aa6dc" stroke-width="0.18" text-anchor="end" >20</text>
<line x1="631.6" y1="431.29" x2="634" y2="431.29" stroke="#3aa6dc" stroke-width="1.1" />
<line x1="631.6" y1="440" x2="636.1" y2="440" stroke="#3aa6dc" stroke-width="1.1" />
<text x="629.4" y="443.61" font-size="10.2" fill="#3aa6dc" stroke="#3aa6dc" stroke-width="0.18" text-anchor="end" >30</text>
<line x1="631.6" y1="448.72" x2="634" y2="448.72" stroke="#3aa6dc" stroke-width="1.1" />
<line x1="631.6" y1="457.44" x2="636.1" y2="457.44" stroke="#3aa6dc" stroke-width="1.1" />
<text x="629.4" y="461.04" font-size="10.2" fill="#3aa6dc" stroke="#3aa6dc" stroke-width="0.18" text-anchor="end" >40</text>
<line x1="631.6" y1="466.16" x2="634" y2="466.16" stroke="#3aa6dc" stroke-width="1.1" />
<line x1="631.6" y1="474.88" x2="636.1" y2="474.88" stroke="#3aa6dc" stroke-width="1.1" />
<text x="629.4" y="478.48" font-size="10.2" fill="#3aa6dc" stroke="#3aa6dc" stroke-width="0.18" text-anchor="end" >50</text>
<line x1="631.6" y1="483.59" x2="634" y2="483.59" stroke="#3aa6dc" stroke-width="1.1" />
<line x1="631.6" y1="492.31" x2="636.1" y2="492.31" stroke="#3aa6dc" stroke-width="1.1" />
<text x="629.4" y="495.91" font-size="10.2" fill="#3aa6dc" stroke="#3aa6dc" stroke-width="0.18" text-anchor="end" >60</text>
<line x1="631.6" y1="501.03" x2="634" y2="501.03" stroke="#3aa6dc" stroke-width="1.1" />
<line x1="631.6" y1="509.75" x2="636.1" y2="509.75" stroke="#3aa6dc" stroke-width="1.1" />
<text x="629.4" y="513.35" font-size="10.2" fill="#3aa6dc" stroke="#3aa6dc" stroke-width="0.18" text-anchor="end" >70</text>
<line x1="631.6" y1="518.46" x2="634" y2="518.46" stroke="#3aa6dc" stroke-width="1.1" />
<line x1="631.6" y1="527.18" x2="636.1" y2="527.18" stroke="#3aa6dc" stroke-width="1.1" />
<text x="629.4" y="530.78" font-size="10.2" fill="#3aa6dc" stroke="#3aa6dc" stroke-width="0.18" text-anchor="end" >80</text>
<line x1="631.6" y1="535.9" x2="634" y2="535.9" stroke="#3aa6dc" stroke-width="1.1" />
<line x1="631.6" y1="544.62" x2="636.1" y2="544.62" stroke="#3aa6dc" stroke-width="1.1" />
<text x="629.4" y="548.22" font-size="10.2" fill="#3aa6dc" stroke="#3aa6dc" stroke-width="0.18" text-anchor="end" >90</text>
<line x1="631.6" y1="553.33" x2="634" y2="553.33" stroke="#3aa6dc" stroke-width="1.1" />
<line x1="631.6" y1="562.05" x2="636.1" y2="562.05" stroke="#3aa6dc" stroke-width="1.1" />
<text x="629.4" y="565.65" font-size="10.2" fill="#3aa6dc" stroke="#3aa6dc" stroke-width="0.18" text-anchor="end" >100</text>
<line x1="647.9" y1="562.2" x2="652.4" y2="562.2" stroke="#e9c93a" stroke-width="1.1" />
<text x="655.6" y="565.8" font-size="10.2" fill="#e6c53a" stroke="#e6c53a" stroke-width="0.18" >0</text>
<line x1="650" y1="544.75" x2="652.4" y2="544.75" stroke="#e9c93a" stroke-width="1.1" />
<line x1="647.9" y1="527.3" x2="652.4" y2="527.3" stroke="#e9c93a" stroke-width="1.1" />
<text x="655.6" y="530.9" font-size="10.2" fill="#e6c53a" stroke="#e6c53a" stroke-width="0.18" >30</text>
<line x1="650" y1="509.85" x2="652.4" y2="509.85" stroke="#e9c93a" stroke-width="1.1" />
<line x1="647.9" y1="492.4" x2="652.4" y2="492.4" stroke="#e9c93a" stroke-width="1.1" />
<text x="655.6" y="496" font-size="10.2" fill="#e6c53a" stroke="#e6c53a" stroke-width="0.18" >60</text>
<line x1="650" y1="474.95" x2="652.4" y2="474.95" stroke="#e9c93a" stroke-width="1.1" />
<line x1="647.9" y1="457.5" x2="652.4" y2="457.5" stroke="#e9c93a" stroke-width="1.1" />
<text x="655.6" y="461.1" font-size="10.2" fill="#e6c53a" stroke="#e6c53a" stroke-width="0.18" >90</text>
<line x1="650" y1="440.05" x2="652.4" y2="440.05" stroke="#e9c93a" stroke-width="1.1" />
<line x1="647.9" y1="422.6" x2="652.4" y2="422.6" stroke="#e9c93a" stroke-width="1.1" />
<text x="655.6" y="426.2" font-size="10.2" fill="#e6c53a" stroke="#e6c53a" stroke-width="0.18" >120</text>
<line x1="650" y1="405.15" x2="652.4" y2="405.15" stroke="#e9c93a" stroke-width="1.1" />
<line x1="647.9" y1="387.71" x2="652.4" y2="387.71" stroke="#e9c93a" stroke-width="1.1" />
<text x="655.6" y="391.31" font-size="10.2" fill="#e6c53a" stroke="#e6c53a" stroke-width="0.18" >150</text>
<text x="614.8" y="480" font-size="12.6" fill="#3aa6dc" stroke="#3aa6dc" stroke-width="0.18" text-anchor="middle" transform="rotate(-90 614.8 480)" >Rainfall (mm)</text>
<text x="681.2" y="477.3" font-size="11.1" fill="#e6c53a" stroke="#e6c53a" stroke-width="0.18" text-anchor="middle" transform="rotate(-90 681.2 477.3)"  textLength="187" lengthAdjust="spacing">GNSS Monitoring Displacement (mm)</text>
<rect x="543.6" y="401.6" width="16.6" height="56" fill="#e4e4e4"/>
<g clip-path="url(#fclip)">
<polyline points="32,561.2 38.2,560.1 46.3,557.7 54.5,555 62.7,553.6 70.9,551.6 79,549.5 91.3,547.5 103.6,545.8 115.8,543.8 126.1,542.8 136.3,541.7 143.4,540.1 146.5,529.5 152.6,528.5 160.8,516.2 163.1,514.6 172.3,513.9 186.6,512.9 190.7,507.8 194.7,506.8 207,504.7 209,502.3 225.4,500.7 227.4,498.6 241.7,497.6 243.8,496.2 256.1,495.5 260.1,491 272.4,490.4 278.5,488 292.8,486.3 297.7,485.1 314,484.7 324.3,481.1 328.4,478 334.5,475.9 346.7,474.9 352.9,472.9 359,469.8 367.2,467.8 376.4,466.3 381.5,463.1 391.7,462.3 400,461.6 409.3,460.2 419.9,458.6 420.6,441.1 423.4,439.9 435,437.6 446.7,435.9 470.1,434.1 493.4,432.9 505.1,431.7 521.5,430.5 523.2,417.7 533.1,416.5 544.8,415.4 554.2,413 561.2,410.5" fill="none" stroke="#239a5c" stroke-width="1.7" stroke-linejoin="round" stroke-linecap="round" />
<polyline points="32,558.1 33.47,558 34.94,556.85 36.41,558.65 37.89,556.01 39.36,556.64 40.83,555.64 42.3,556 43.65,556.33 45,559.36 46.35,556.39 47.7,558.5 49.05,558.26 50.4,560.1 51.87,559.18 53.34,561.62 54.81,558.53 56.29,559.41 57.76,558.33 59.23,559.35 60.7,558.1 62.16,557.58 63.61,556.12 65.07,556.92 66.53,556.51 67.99,557.83 69.44,556.56 70.9,556 72.36,554.44 73.81,556.16 75.27,554.3 76.73,554.91 78.19,553.39 79.64,553.91 81.1,554 82.56,554.92 84.01,553.49 85.47,554.2 86.93,553.94 88.39,552.94 89.84,552.9 91.3,552 92.76,551.85 94.21,553.07 95.67,554.02 97.13,551.46 98.59,555.27 100.04,553.16 101.5,554 103.05,550.43 104.6,548.43 106.15,547.18 107.7,545.8 109.05,544.34 110.4,546.07 111.75,546.49 113.1,547.85 114.45,547.41 115.8,547.9 117.35,548.95 118.9,547.02 120.45,544.82 122,544.8 123.46,546.52 124.91,545.92 126.37,547.19 127.83,546.36 129.29,547.47 130.74,544.42 132.2,545.8 133.57,543.5 134.93,545.05 136.3,541.7 137.65,540.04 139,544.18 140.35,544.47 141.7,541.57 143.05,541.98 144.4,543.8 145.77,546.23 147.13,547.1 148.5,547.4 149.87,547.48 151.23,548.31 152.6,547.9 154.08,547.45 155.56,546.55 157.04,549.52 158.52,550.95 160,549.7 161.37,550.55 162.73,547.7 164.1,546.6 165.8,545.24 167.5,546.63 169.2,548.7 170.75,546.94 172.3,545.6 173.65,543.97 175,542.62 176.35,542.81 177.7,543.6 179.05,541.53 180.4,542.6 181.95,539.95 183.5,539.14 185.05,537.57 186.6,538.5 187.97,541.39 189.33,543.44 190.7,543.6 192.22,541.07 193.75,541.61 195.28,541.36 196.8,538.5 198.17,536.06 199.53,535.07 200.9,534.4 202.25,535.15 203.6,533.8 204.95,532.36 206.3,532.23 207.65,530.46 209,529.3 210.37,529.52 211.73,532.08 213.1,532.3 214.47,530.79 215.83,525.03 217.2,524.2 218.57,521.72 219.93,519.87 221.3,519 222.67,521.66 224.03,520.18 225.4,522.1 226.93,521.05 228.45,518.28 229.97,516.26 231.5,515 232.87,514.32 234.23,515.29 235.6,513.61 236.97,511.8 238.33,510.12 239.7,510.9 241.22,509.72 242.75,509.73 244.28,509.94 245.8,508.8 247.35,509.62 248.9,505.51 250.45,506.82 252,503.7 253.35,505.09 254.7,502.79 256.05,501.53 257.4,501.25 258.75,503.8 260.1,501.7 261.65,499.05 263.2,499.77 264.75,498.52 266.3,496.6 267.82,495.7 269.35,495.63 270.88,498.68 272.4,498.6 273.92,495.7 275.45,496.75 276.98,497.5 278.5,494.5 279.87,494.35 281.23,493.71 282.6,492.85 283.97,493.67 285.33,493.75 286.7,494.5 288.23,492.14 289.75,493.85 291.27,492.68 292.8,491.5 294.53,491.38 296.27,487.78 298,488.4 299.32,487.15 300.63,489.79 301.95,485.74 303.27,487.05 304.58,488.74 305.9,487.2 307.53,485.52 309.17,485.21 310.8,486.4 311.8,503 312.8,486 314.45,486.26 316.1,485.1 317.56,483.24 319.01,483.1 320.47,482.82 321.93,481.77 323.39,483.07 324.84,482.89 326.3,481.1 327.67,481.77 329.03,482.23 330.4,476.83 331.77,477.1 333.13,480.21 334.5,477 336.02,478.8 337.55,478.85 339.08,476.31 340.6,478 342.7,487.2 344.03,482.53 345.37,480.57 346.7,479 348.07,479.68 349.43,477.57 350.8,474.9 352.35,480.36 353.9,487.2 355.45,484.98 357,481.1 358.52,481.8 360.05,478.94 361.58,477.48 363.1,479 364.62,479.59 366.15,478.03 367.68,477.52 369.2,474.9 370.75,476.69 372.3,475.25 373.85,477.28 375.4,477 376.92,474.76 378.45,476 379.98,470.39 381.5,470.8 383.02,472.85 384.55,472.05 386.08,476.01 387.6,474.9 389.15,475.46 390.7,471.16 392.25,469.31 393.8,470.8 395.32,468.39 396.85,471.15 398.38,469.12 399.9,466.7 401.6,467.44 403.3,464.52 405,465.7 407,469.1 408.57,466.04 410.13,465.68 411.7,464.4 413.1,464.81 414.5,465.48 415.9,462.83 417.3,467.15 418.7,465.6 420.1,464.51 421.5,467.19 422.9,465.37 424.3,465.5 425.7,466.8 427.27,466.76 428.83,461.39 430.4,460.9 431.8,460.68 433.2,462.37 434.6,461.89 436,461.08 437.4,459.7 438.93,457.2 440.47,458.03 442,456.2 443.42,455.36 444.84,453.78 446.26,455.51 447.68,454.31 449.1,452.7 450.5,455.45 451.9,453.71 453.3,452.95 454.7,454.31 456.1,456.2 457.63,454.35 459.17,451.05 460.7,446.9 462.27,445.71 463.83,442.5 465.4,441.1 466.97,440.71 468.53,437.26 470.1,438.7 471.63,434.24 473.17,435.62 474.7,431.7 476.18,427.63 477.65,428.24 479.12,424.51 480.6,423.5 482.35,425.29 484.1,430.5 485.85,428.48 487.6,423.5 489.35,433.09 491.1,438.7 492.67,436.21 494.23,433.82 495.8,434.1 497.33,431.53 498.87,427.35 500.4,427 501.97,426.29 503.53,418.32 505.1,417.7 506.67,418.91 508.23,418.28 509.8,421.2 511.37,417.45 512.93,421.45 514.5,417.7 515.95,417.46 517.4,416.42 518.85,415.58 520.3,413 522.6,430.5 524.35,430.84 526.1,428.2 527.44,428.44 528.79,428.4 530.13,426.26 531.47,424.82 532.81,427.73 534.16,427.45 535.5,425.9 536.9,426.66 538.3,425.7 539.7,422.3 541.1,424.74 542.5,423.5 543.83,420.35 545.16,423.43 546.49,417.95 547.81,418.27 549.14,418.67 550.47,419.42 551.8,416.5 553.11,417.1 554.43,414.15 555.74,417.03 557.06,414.12 558.37,414.57 559.69,414.49 561,415" fill="none" stroke="#f0c928" stroke-width="1.75" stroke-linejoin="round" stroke-linecap="round" />
<polyline points="32,512.1 35.1,511.5 38.2,514.2 41.2,517.2 45.3,514.8 48.4,521.3 51.5,524.4 54.5,525.4 57.6,517.2 61.1,514.8 63.7,520.3 66.8,522.3 69.9,523.4 72.9,500.9 76,511.1 79.5,521.3 82.1,514.2 84.2,508 88.2,505 92.3,501.9 96.4,478.4 99.5,480.4 103.6,478 106.6,479.4 109.3,484.1 111.7,478 114.8,484.5 117.9,492.7 120.9,508 124,492.7 128.1,486.6 132.2,482.5 136.3,476.3 138.5,468 141.2,454.5 145.3,448.4 148,432 150,425.9 152.5,433 155.5,425.9 158.6,420.8 161.7,415.7 164.7,405.4 167.8,402.4 172.9,402.4 179,403.4 183.1,405.4 187.2,410.5 193.4,412.6 198.5,415.2 203.6,415.2 209.7,417.7 215.8,418.7 222,422.8 228.1,428.9 234.2,436.1 240.4,437.7 246.5,441.8 252.6,443.4 258.8,442.3 264.9,438.6 269.2,435.6 274.2,436.1 279.3,438.1 285.4,445.3 291.6,454.5 295.7,455.5 298.7,456.9 302.8,456.5 307.9,456.5 314,463.7 320.2,470.8 326.3,478 330.4,481.1 335.5,478 340.6,475.9 345.7,474.9 349.8,473.3 352.9,477 357,479 361.1,483.1 365.1,490 370,496 374.2,505.5 378.5,511.9 382.7,522.5 386.9,535.1 391.1,546.8 394.3,545.7 397.5,536.2 401.7,525.6 404.9,530.9 408.1,537.3 411.2,542.5 413.3,530.9 414.4,509.8 416.5,503.4 418.6,488.6 421.8,478.1 425,473.8 428.1,445.3 431.3,452.7 434.5,471.7 438.7,468.5 442.9,471.7 446.1,473.8 449.3,486.5 451.1,488.8 454.4,495.3 458.8,498.6 465.4,501.9 471.9,506.3 476.3,513.9 479.6,511.7 481.8,506.3 485.1,499.7 488.4,493.1 491.6,480 493.4,472.6 500.4,464.4 507.5,460.9 514.5,462.1 521.5,446.9 526.1,437.6 533.1,435.2 540.2,436.9 547.2,439.9 554.2,436.4 561,433.8" fill="none" stroke="#cf5a52" stroke-width="1.5" stroke-linejoin="round" stroke-linecap="round" />
</g>
<defs><clipPath id="fclip"><rect x="32.1" y="387.7" width="529.5" height="174.5"/></clipPath></defs>
<rect x="543.6" y="401.6" width="16.6" height="56" fill="none" stroke="#111" stroke-width="1.7" stroke-dasharray="15 5"/>
<line x1="551.2" y1="401.1" x2="558.3" y2="376.2" stroke="#000" stroke-width="2.4" />
<polygon points="562.2,361.8 552.3,374.6 564.2,378.2" fill="#000"/>
<line x1="165.5" y1="378.2" x2="165.5" y2="591" stroke="#e81ee8" stroke-width="2.6" stroke-dasharray="10.7 11.8 22 11.8"/>
<line x1="386.3" y1="378.2" x2="386.3" y2="591" stroke="#e81ee8" stroke-width="2.6" stroke-dasharray="10.7 11.8 22 11.8"/>
<rect x="422.2" y="493.8" width="137.2" height="65" fill="none" stroke="#c9c9c9" stroke-width="2.6"/>
<line x1="428.6" y1="503" x2="454.4" y2="503" stroke="#cf5a52" stroke-width="1.3" />
<line x1="428.6" y1="519.4" x2="454.4" y2="519.4" stroke="#f0c928" stroke-width="1.3" />
<line x1="428.6" y1="535.2" x2="454.4" y2="535.2" stroke="#239a5c" stroke-width="1.5" />
<line x1="428.6" y1="550.7" x2="454.4" y2="550.7" stroke="#27a0e2" stroke-width="3.4" />
<text x="461" y="506.6" font-size="10.3" fill="#222" xml:space="preserve">TGR  level</text>
<text x="461" y="523" font-size="10.3" fill="#222" stroke="#222" stroke-width="0.18" >GNSS displacement</text>
<text x="461" y="538.8" font-size="10.3" fill="#222" xml:space="preserve">Cumulative  rainfall</text>
<text x="461" y="554.3" font-size="10.3" fill="#222" stroke="#222" stroke-width="0.18" >Rainfall</text>
<text x="36" y="413.3" font-size="16.5" fill="#111" stroke="#111" stroke-width="0.18" >(f)</text>
<text x="58.9" y="585.6" font-size="12.8" fill="#d63cd6" textLength="40" lengthAdjust="spacingAndGlyphs" stroke="#d63cd6" stroke-width="0.35">Stage A</text>
<text x="208.6" y="585.6" font-size="12.8" fill="#d63cd6" textLength="41" lengthAdjust="spacingAndGlyphs" stroke="#d63cd6" stroke-width="0.35">Stage B</text>
<text x="421.6" y="585.6" font-size="12.8" fill="#d63cd6" textLength="41.6" lengthAdjust="spacingAndGlyphs" stroke="#d63cd6" stroke-width="0.35">Stage C</text>
<text x="296.4" y="587.2" font-size="13.4" fill="#111" stroke="#111" stroke-width="0.18" text-anchor="middle" >Time (d)</text>
</svg>
</body></html>
